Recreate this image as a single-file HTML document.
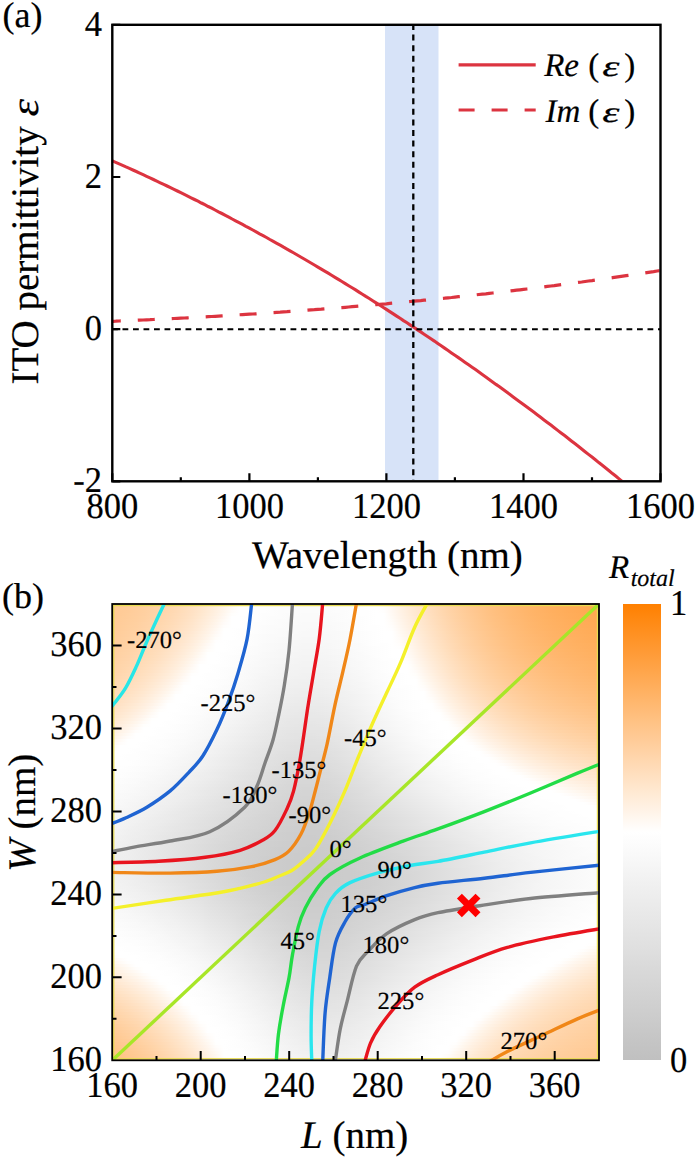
<!DOCTYPE html>
<html><head><meta charset="utf-8"><style>
html,body{margin:0;padding:0;background:#fff;}
body{width:700px;height:1158px;position:relative;overflow:hidden;}
#hm{position:absolute;left:112.2px;top:604.0px;width:486.8px;height:456.3px;overflow:hidden;}
#hm div{position:absolute;left:0;width:100%;height:4px;}
#cbar{position:absolute;left:623px;top:604px;width:38px;height:456px;background:linear-gradient(180deg,#ff8000 0.0%,#ff8d1a 5.0%,#ff9933 10.0%,#ffa64c 15.0%,#ffb366 20.0%,#ffc080 25.0%,#ffcc99 30.0%,#ffd9b3 35.0%,#ffe6cc 40.0%,#fff2e5 45.0%,#ffffff 50.0%,#f9f9f9 55.0%,#f2f2f2 60.0%,#ececec 65.0%,#e6e6e6 70.0%,#e0e0e0 75.0%,#d9d9d9 80.0%,#d3d3d3 85.0%,#cdcdcd 90.0%,#c6c6c6 95.0%,#c0c0c0 100.0%);}
svg{position:absolute;left:0;top:0;}
text{font-family:"Liberation Serif",serif;fill:#000;stroke:#000;stroke-width:0.2px;text-rendering:geometricPrecision;}
.t{font-size:34.5px;}
.lab{font-size:39px;}
.pl{font-size:36px;}
.lg{font-size:33px;}
.cl{font-size:24.6px;}
</style></head><body>
<div id="hm">
<div style="top:0px;background:linear-gradient(90deg,#ffc993 0px,#ffca95 8px,#ffcc98 16px,#ffcd9b 24px,#ffcf9f 32px,#ffd1a3 40px,#ffd3a7 48px,#ffd6ac 56px,#ffd9b2 64px,#ffdcb9 72px,#ffe0c0 80px,#ffe4c9 88px,#ffe9d2 96px,#ffeedc 104px,#fff3e7 112px,#fff9f3 120px,#ffffff 128px,#ffffff 136px,#fefefe 144px,#fefefe 152px,#fdfdfd 160px,#fdfdfd 168px,#fcfcfc 176px,#fcfcfc 184px,#fbfbfb 192px,#fbfbfb 200px,#fbfbfb 208px,#fcfcfc 216px,#fcfcfc 224px,#fdfdfd 232px,#fdfdfd 240px,#fefefe 248px,#ffffff 256px,#ffffff 264px,#fffcfa 272px,#fff7ee 280px,#fff1e3 288px,#ffecd8 296px,#ffe6cd 304px,#ffe1c3 312px,#ffdcb9 320px,#ffd8b0 328px,#ffd3a7 336px,#ffcf9f 344px,#ffcb97 352px,#ffc890 360px,#ffc489 368px,#ffc182 376px,#ffbe7c 384px,#ffbb77 392px,#ffb972 400px,#ffb66d 408px,#ffb469 416px,#ffb265 424px,#ffb061 432px,#ffaf5e 440px,#ffad5b 448px,#ffac58 456px,#ffaa55 464px,#ffa953 472px,#ffa851 480px,#ffa74f 488px)"></div>
<div style="top:3px;background:linear-gradient(90deg,#ffc993 0px,#ffcb96 8px,#ffcc99 16px,#ffce9c 24px,#ffcfa0 32px,#ffd2a4 40px,#ffd4a8 48px,#ffd7ae 56px,#ffd9b4 64px,#ffddba 72px,#ffe1c2 80px,#ffe5ca 88px,#ffead4 96px,#ffefde 104px,#fff4ea 112px,#fffbf6 120px,#ffffff 128px,#ffffff 136px,#fefefe 144px,#fefefe 152px,#fdfdfd 160px,#fcfcfc 168px,#fcfcfc 176px,#fbfbfb 184px,#fbfbfb 192px,#fbfbfb 200px,#fbfbfb 208px,#fbfbfb 216px,#fcfcfc 224px,#fdfdfd 232px,#fdfdfd 240px,#fefefe 248px,#ffffff 256px,#ffffff 264px,#fffdfc 272px,#fff8f0 280px,#fff2e5 288px,#ffecd9 296px,#ffe7cf 304px,#ffe2c4 312px,#ffddba 320px,#ffd8b1 328px,#ffd4a8 336px,#ffd0a0 344px,#ffcc98 352px,#ffc891 360px,#ffc58a 368px,#ffc183 376px,#ffbe7d 384px,#ffbc78 392px,#ffb973 400px,#ffb76e 408px,#ffb56a 416px,#ffb366 424px,#ffb162 432px,#ffaf5e 440px,#ffad5b 448px,#ffac58 456px,#ffab56 464px,#ffaa54 472px,#ffa951 480px,#ffa84f 488px)"></div>
<div style="top:6px;background:linear-gradient(90deg,#ffca94 0px,#ffcb97 8px,#ffcc99 16px,#ffce9d 24px,#ffd0a0 32px,#ffd2a5 40px,#ffd4aa 48px,#ffd7af 56px,#ffdab5 64px,#ffdebc 72px,#ffe1c4 80px,#ffe6cc 88px,#ffebd6 96px,#fff0e1 104px,#fff6ec 112px,#fffcf9 120px,#ffffff 128px,#ffffff 136px,#fefefe 144px,#fefefe 152px,#fdfdfd 160px,#fcfcfc 168px,#fcfcfc 176px,#fbfbfb 184px,#fbfbfb 192px,#fbfbfb 200px,#fbfbfb 208px,#fbfbfb 216px,#fcfcfc 224px,#fcfcfc 232px,#fdfdfd 240px,#fefefe 248px,#fefefe 256px,#ffffff 264px,#fffefd 272px,#fff8f2 280px,#fff3e6 288px,#ffeddb 296px,#ffe8d0 304px,#ffe2c6 312px,#ffddbc 320px,#ffd9b2 328px,#ffd4a9 336px,#ffd0a1 344px,#ffcc99 352px,#ffc892 360px,#ffc58b 368px,#ffc284 376px,#ffbf7e 384px,#ffbc79 392px,#ffba74 400px,#ffb76f 408px,#ffb56a 416px,#ffb366 424px,#ffb163 432px,#ffaf5f 440px,#ffae5c 448px,#ffac59 456px,#ffab57 464px,#ffaa54 472px,#ffa952 480px,#ffa850 488px)"></div>
<div style="top:9px;background:linear-gradient(90deg,#ffca95 0px,#ffcb97 8px,#ffcd9a 16px,#ffce9e 24px,#ffd0a1 32px,#ffd3a6 40px,#ffd5ab 48px,#ffd8b0 56px,#ffdbb7 64px,#ffdebe 72px,#ffe2c5 80px,#ffe7ce 88px,#ffecd8 96px,#fff1e3 104px,#fff7ef 112px,#fffefc 120px,#ffffff 128px,#ffffff 136px,#fefefe 144px,#fdfdfd 152px,#fdfdfd 160px,#fcfcfc 168px,#fbfbfb 176px,#fbfbfb 184px,#fafafa 192px,#fafafa 200px,#fafafa 208px,#fbfbfb 216px,#fbfbfb 224px,#fcfcfc 232px,#fdfdfd 240px,#fefefe 248px,#fefefe 256px,#ffffff 264px,#ffffff 272px,#fff9f3 280px,#fff3e8 288px,#ffeedc 296px,#ffe8d1 304px,#ffe3c7 312px,#ffdebd 320px,#ffd9b3 328px,#ffd5aa 336px,#ffd1a2 344px,#ffcd9a 352px,#ffc993 360px,#ffc68c 368px,#ffc285 376px,#ffbf7f 384px,#ffbd7a 392px,#ffba74 400px,#ffb870 408px,#ffb56b 416px,#ffb367 424px,#ffb264 432px,#ffb060 440px,#ffae5d 448px,#ffad5a 456px,#ffac58 464px,#ffaa55 472px,#ffa953 480px,#ffa851 488px)"></div>
<div style="top:12px;background:linear-gradient(90deg,#ffca95 0px,#ffcc98 8px,#ffcd9b 16px,#ffcf9e 24px,#ffd1a2 32px,#ffd3a7 40px,#ffd6ac 48px,#ffd8b2 56px,#ffdcb8 64px,#ffdfbf 72px,#ffe3c7 80px,#ffe8d0 88px,#ffeddb 96px,#fff2e6 104px,#fff8f2 112px,#ffffff 120px,#ffffff 128px,#fefefe 136px,#fefefe 144px,#fdfdfd 152px,#fcfcfc 160px,#fcfcfc 168px,#fbfbfb 176px,#fafafa 184px,#fafafa 192px,#fafafa 200px,#fafafa 208px,#fafafa 216px,#fbfbfb 224px,#fcfcfc 232px,#fdfdfd 240px,#fdfdfd 248px,#fefefe 256px,#ffffff 264px,#ffffff 272px,#fffaf5 280px,#fff4e9 288px,#ffefde 296px,#ffe9d3 304px,#ffe4c8 312px,#ffdfbe 320px,#ffdab5 328px,#ffd5ac 336px,#ffd1a3 344px,#ffcd9b 352px,#ffca94 360px,#ffc68d 368px,#ffc386 376px,#ffc080 384px,#ffbd7b 392px,#ffba75 400px,#ffb871 408px,#ffb66c 416px,#ffb468 424px,#ffb264 432px,#ffb061 440px,#ffaf5e 448px,#ffad5b 456px,#ffac58 464px,#ffab56 472px,#ffaa54 480px,#ffa952 488px)"></div>
<div style="top:15px;background:linear-gradient(90deg,#ffcb96 0px,#ffcc99 8px,#ffce9c 16px,#ffcf9f 24px,#ffd1a3 32px,#ffd4a8 40px,#ffd6ad 48px,#ffd9b3 56px,#ffdcba 64px,#ffe0c1 72px,#ffe4c9 80px,#ffe9d3 88px,#ffeedd 96px,#fff4e8 104px,#fffaf5 112px,#ffffff 120px,#ffffff 128px,#fefefe 136px,#fefefe 144px,#fdfdfd 152px,#fcfcfc 160px,#fbfbfb 168px,#fbfbfb 176px,#fafafa 184px,#fafafa 192px,#fafafa 200px,#fafafa 208px,#fafafa 216px,#fbfbfb 224px,#fcfcfc 232px,#fcfcfc 240px,#fdfdfd 248px,#fefefe 256px,#ffffff 264px,#ffffff 272px,#fffbf7 280px,#fff5eb 288px,#ffefe0 296px,#ffead4 304px,#ffe5ca 312px,#ffdfc0 320px,#ffdbb6 328px,#ffd6ad 336px,#ffd2a4 344px,#ffce9c 352px,#ffca95 360px,#ffc78e 368px,#ffc387 376px,#ffc081 384px,#ffbe7c 392px,#ffbb76 400px,#ffb972 408px,#ffb66d 416px,#ffb469 424px,#ffb365 432px,#ffb162 440px,#ffaf5f 448px,#ffae5c 456px,#ffad59 464px,#ffab57 472px,#ffaa55 480px,#ffa953 488px)"></div>
<div style="top:18px;background:linear-gradient(90deg,#ffcb97 0px,#ffcc9a 8px,#ffce9d 16px,#ffd0a0 24px,#ffd2a5 32px,#ffd4a9 40px,#ffd7ae 48px,#ffdab4 56px,#ffddbb 64px,#ffe1c3 72px,#ffe5cb 80px,#ffead5 88px,#ffefdf 96px,#fff5eb 104px,#fffbf8 112px,#ffffff 120px,#ffffff 128px,#fefefe 136px,#fdfdfd 144px,#fdfdfd 152px,#fcfcfc 160px,#fbfbfb 168px,#fafafa 176px,#fafafa 184px,#f9f9f9 192px,#f9f9f9 200px,#f9f9f9 208px,#fafafa 216px,#fafafa 224px,#fbfbfb 232px,#fcfcfc 240px,#fdfdfd 248px,#fefefe 256px,#ffffff 264px,#ffffff 272px,#fffcf9 280px,#fff6ed 288px,#fff0e1 296px,#ffebd6 304px,#ffe5cb 312px,#ffe0c1 320px,#ffdbb7 328px,#ffd7ae 336px,#ffd2a6 344px,#ffce9e 352px,#ffcb96 360px,#ffc78f 368px,#ffc488 376px,#ffc182 384px,#ffbe7d 392px,#ffbb77 400px,#ffb973 408px,#ffb76e 416px,#ffb56a 424px,#ffb366 432px,#ffb163 440px,#ffb060 448px,#ffae5d 456px,#ffad5a 464px,#ffac58 472px,#ffab56 480px,#ffaa54 488px)"></div>
<div style="top:21px;background:linear-gradient(90deg,#ffcb97 0px,#ffcd9a 8px,#ffcf9e 16px,#ffd0a1 24px,#ffd2a6 32px,#ffd5aa 40px,#ffd8b0 48px,#ffdbb6 56px,#ffdebd 64px,#ffe2c5 72px,#ffe6cd 80px,#ffebd7 88px,#fff1e2 96px,#fff6ee 104px,#fffdfb 112px,#ffffff 120px,#ffffff 128px,#fefefe 136px,#fdfdfd 144px,#fcfcfc 152px,#fbfbfb 160px,#fbfbfb 168px,#fafafa 176px,#f9f9f9 184px,#f9f9f9 192px,#f9f9f9 200px,#f9f9f9 208px,#f9f9f9 216px,#fafafa 224px,#fbfbfb 232px,#fcfcfc 240px,#fdfdfd 248px,#fefefe 256px,#fefefe 264px,#ffffff 272px,#fffdfb 280px,#fff7ef 288px,#fff1e3 296px,#ffebd8 304px,#ffe6cd 312px,#ffe1c3 320px,#ffdcb9 328px,#ffd7b0 336px,#ffd3a7 344px,#ffcf9f 352px,#ffcb97 360px,#ffc890 368px,#ffc58a 376px,#ffc183 384px,#ffbf7e 392px,#ffbc79 400px,#ffba74 408px,#ffb76f 416px,#ffb56b 424px,#ffb467 432px,#ffb264 440px,#ffb061 448px,#ffaf5e 456px,#ffad5b 464px,#ffac59 472px,#ffab57 480px,#ffaa55 488px)"></div>
<div style="top:24px;background:linear-gradient(90deg,#ffcc98 0px,#ffcd9b 8px,#ffcf9f 16px,#ffd1a2 24px,#ffd3a7 32px,#ffd6ac 40px,#ffd8b1 48px,#ffdbb8 56px,#ffdfbf 64px,#ffe3c7 72px,#ffe7cf 80px,#ffecd9 88px,#fff2e5 96px,#fff8f1 104px,#fffffe 112px,#ffffff 120px,#fefefe 128px,#fefefe 136px,#fdfdfd 144px,#fcfcfc 152px,#fbfbfb 160px,#fafafa 168px,#fafafa 176px,#f9f9f9 184px,#f9f9f9 192px,#f8f8f8 200px,#f9f9f9 208px,#f9f9f9 216px,#fafafa 224px,#fbfbfb 232px,#fcfcfc 240px,#fdfdfd 248px,#fefefe 256px,#fefefe 264px,#ffffff 272px,#fffefd 280px,#fff8f1 288px,#fff2e5 296px,#ffecd9 304px,#ffe7ce 312px,#ffe2c4 320px,#ffddba 328px,#ffd8b1 336px,#ffd4a8 344px,#ffd0a0 352px,#ffcc98 360px,#ffc891 368px,#ffc58b 376px,#ffc285 384px,#ffbf7f 392px,#ffbd7a 400px,#ffba75 408px,#ffb870 416px,#ffb66c 424px,#ffb468 432px,#ffb265 440px,#ffb162 448px,#ffaf5f 456px,#ffae5c 464px,#ffad5a 472px,#ffac58 480px,#ffab56 488px)"></div>
<div style="top:27px;background:linear-gradient(90deg,#ffcc99 0px,#ffce9c 8px,#ffd0a0 16px,#ffd1a4 24px,#ffd4a8 32px,#ffd6ad 40px,#ffd9b3 48px,#ffdcb9 56px,#ffe0c0 64px,#ffe4c9 72px,#ffe8d2 80px,#ffeedc 88px,#fff3e7 96px,#fff9f4 104px,#ffffff 112px,#ffffff 120px,#fefefe 128px,#fefefe 136px,#fdfdfd 144px,#fcfcfc 152px,#fbfbfb 160px,#fafafa 168px,#f9f9f9 176px,#f9f9f9 184px,#f8f8f8 192px,#f8f8f8 200px,#f8f8f8 208px,#f9f9f9 216px,#f9f9f9 224px,#fafafa 232px,#fbfbfb 240px,#fcfcfc 248px,#fdfdfd 256px,#fefefe 264px,#ffffff 272px,#ffffff 280px,#fff9f3 288px,#fff3e7 296px,#ffeddb 304px,#ffe8d0 312px,#ffe2c6 320px,#ffdebc 328px,#ffd9b2 336px,#ffd4aa 344px,#ffd0a1 352px,#ffcd9a 360px,#ffc993 368px,#ffc68c 376px,#ffc386 384px,#ffc080 392px,#ffbd7b 400px,#ffbb76 408px,#ffb971 416px,#ffb66d 424px,#ffb56a 432px,#ffb366 440px,#ffb163 448px,#ffb060 456px,#ffaf5d 464px,#ffad5b 472px,#ffac59 480px,#ffab57 488px)"></div>
<div style="top:30px;background:linear-gradient(90deg,#ffcd9a 0px,#ffce9d 8px,#ffd0a1 16px,#ffd2a5 24px,#ffd4a9 32px,#ffd7ae 40px,#ffdab4 48px,#ffddbb 56px,#ffe1c2 64px,#ffe5cb 72px,#ffead4 80px,#ffefdf 88px,#fff5ea 96px,#fffbf7 104px,#ffffff 112px,#ffffff 120px,#fefefe 128px,#fdfdfd 136px,#fcfcfc 144px,#fbfbfb 152px,#fafafa 160px,#fafafa 168px,#f9f9f9 176px,#f8f8f8 184px,#f8f8f8 192px,#f8f8f8 200px,#f8f8f8 208px,#f8f8f8 216px,#f9f9f9 224px,#fafafa 232px,#fbfbfb 240px,#fcfcfc 248px,#fdfdfd 256px,#fefefe 264px,#ffffff 272px,#ffffff 280px,#fffaf5 288px,#fff4e9 296px,#ffeedd 304px,#ffe9d2 312px,#ffe3c7 320px,#ffdebd 328px,#ffdab4 336px,#ffd5ab 344px,#ffd1a3 352px,#ffcd9b 360px,#ffca94 368px,#ffc68d 376px,#ffc387 384px,#ffc081 392px,#ffbe7c 400px,#ffbb77 408px,#ffb973 416px,#ffb76f 424px,#ffb56b 432px,#ffb367 440px,#ffb264 448px,#ffb061 456px,#ffaf5f 464px,#ffae5c 472px,#ffad5a 480px,#ffac58 488px)"></div>
<div style="top:33px;background:linear-gradient(90deg,#ffcd9b 0px,#ffcf9e 8px,#ffd1a2 16px,#ffd3a6 24px,#ffd5ab 32px,#ffd8b0 40px,#ffdbb6 48px,#ffdebd 56px,#ffe2c4 64px,#ffe6cd 72px,#ffebd7 80px,#fff0e1 88px,#fff6ed 96px,#fffdfa 104px,#ffffff 112px,#ffffff 120px,#fefefe 128px,#fdfdfd 136px,#fcfcfc 144px,#fbfbfb 152px,#fafafa 160px,#f9f9f9 168px,#f8f8f8 176px,#f8f8f8 184px,#f7f7f7 192px,#f7f7f7 200px,#f7f7f7 208px,#f8f8f8 216px,#f9f9f9 224px,#fafafa 232px,#fbfbfb 240px,#fcfcfc 248px,#fdfdfd 256px,#fefefe 264px,#ffffff 272px,#ffffff 280px,#fffbf7 288px,#fff5eb 296px,#ffefdf 304px,#ffe9d4 312px,#ffe4c9 320px,#ffdfbf 328px,#ffdab5 336px,#ffd6ad 344px,#ffd2a4 352px,#ffce9d 360px,#ffca95 368px,#ffc78f 376px,#ffc488 384px,#ffc183 392px,#ffbe7d 400px,#ffbc78 408px,#ffba74 416px,#ffb870 424px,#ffb66c 432px,#ffb468 440px,#ffb265 448px,#ffb162 456px,#ffb060 464px,#ffae5d 472px,#ffad5b 480px,#ffac59 488px)"></div>
<div style="top:36px;background:linear-gradient(90deg,#ffce9c 0px,#ffcf9f 8px,#ffd1a3 16px,#ffd3a7 24px,#ffd6ac 32px,#ffd8b2 40px,#ffdbb8 48px,#ffdfbf 56px,#ffe3c6 64px,#ffe7cf 72px,#ffecd9 80px,#fff2e4 88px,#fff8f0 96px,#fffefe 104px,#ffffff 112px,#fefefe 120px,#fefefe 128px,#fdfdfd 136px,#fcfcfc 144px,#fbfbfb 152px,#fafafa 160px,#f9f9f9 168px,#f8f8f8 176px,#f7f7f7 184px,#f7f7f7 192px,#f7f7f7 200px,#f7f7f7 208px,#f8f8f8 216px,#f8f8f8 224px,#f9f9f9 232px,#fbfbfb 240px,#fcfcfc 248px,#fdfdfd 256px,#fefefe 264px,#ffffff 272px,#ffffff 280px,#fffcf9 288px,#fff6ed 296px,#fff0e1 304px,#ffead5 312px,#ffe5cb 320px,#ffe0c1 328px,#ffdbb7 336px,#ffd7ae 344px,#ffd3a6 352px,#ffcf9e 360px,#ffcb97 368px,#ffc890 376px,#ffc58a 384px,#ffc284 392px,#ffbf7f 400px,#ffbd7a 408px,#ffba75 416px,#ffb871 424px,#ffb66d 432px,#ffb56a 440px,#ffb366 448px,#ffb264 456px,#ffb061 464px,#ffaf5e 472px,#ffae5c 480px,#ffad5a 488px)"></div>
<div style="top:39px;background:linear-gradient(90deg,#ffce9d 0px,#ffd0a0 8px,#ffd2a4 16px,#ffd4a9 24px,#ffd6ae 32px,#ffd9b3 40px,#ffdcb9 48px,#ffe0c1 56px,#ffe4c9 64px,#ffe8d2 72px,#ffeddc 80px,#fff3e7 88px,#fff9f4 96px,#ffffff 104px,#ffffff 112px,#fefefe 120px,#fefefe 128px,#fdfdfd 136px,#fcfcfc 144px,#fafafa 152px,#f9f9f9 160px,#f8f8f8 168px,#f7f7f7 176px,#f7f7f7 184px,#f6f6f6 192px,#f6f6f6 200px,#f7f7f7 208px,#f7f7f7 216px,#f8f8f8 224px,#f9f9f9 232px,#fafafa 240px,#fbfbfb 248px,#fdfdfd 256px,#fefefe 264px,#fefefe 272px,#ffffff 280px,#fffdfb 288px,#fff7ef 296px,#fff1e3 304px,#ffebd7 312px,#ffe6cd 320px,#ffe1c2 328px,#ffdcb9 336px,#ffd8b0 344px,#ffd3a7 352px,#ffcf9f 360px,#ffcc98 368px,#ffc891 376px,#ffc58b 384px,#ffc285 392px,#ffc080 400px,#ffbd7b 408px,#ffbb76 416px,#ffb972 424px,#ffb76e 432px,#ffb56b 440px,#ffb468 448px,#ffb265 456px,#ffb162 464px,#ffb060 472px,#ffaf5e 480px,#ffae5c 488px)"></div>
<div style="top:42px;background:linear-gradient(90deg,#ffcf9e 0px,#ffd0a2 8px,#ffd2a5 16px,#ffd5aa 24px,#ffd7af 32px,#ffdab5 40px,#ffddbb 48px,#ffe1c3 56px,#ffe5cb 64px,#ffead4 72px,#ffefde 80px,#fff5ea 88px,#fffbf7 96px,#ffffff 104px,#ffffff 112px,#fefefe 120px,#fdfdfd 128px,#fcfcfc 136px,#fbfbfb 144px,#fafafa 152px,#f9f9f9 160px,#f8f8f8 168px,#f7f7f7 176px,#f6f6f6 184px,#f6f6f6 192px,#f6f6f6 200px,#f6f6f6 208px,#f7f7f7 216px,#f8f8f8 224px,#f9f9f9 232px,#fafafa 240px,#fbfbfb 248px,#fcfcfc 256px,#fdfdfd 264px,#fefefe 272px,#ffffff 280px,#fffefd 288px,#fff8f1 296px,#fff2e5 304px,#ffecd9 312px,#ffe7ce 320px,#ffe2c4 328px,#ffddba 336px,#ffd8b1 344px,#ffd4a9 352px,#ffd0a1 360px,#ffcd9a 368px,#ffc993 376px,#ffc68d 384px,#ffc387 392px,#ffc081 400px,#ffbe7c 408px,#ffbc78 416px,#ffba74 424px,#ffb870 432px,#ffb66c 440px,#ffb469 448px,#ffb366 456px,#ffb263 464px,#ffb061 472px,#ffaf5f 480px,#ffae5d 488px)"></div>
<div style="top:45px;background:linear-gradient(90deg,#ffcf9f 0px,#ffd1a3 8px,#ffd3a7 16px,#ffd5ab 24px,#ffd8b1 32px,#ffdbb7 40px,#ffdebd 48px,#ffe2c5 56px,#ffe6cd 64px,#ffebd7 72px,#fff0e1 80px,#fff6ed 88px,#fffdfa 96px,#ffffff 104px,#ffffff 112px,#fefefe 120px,#fdfdfd 128px,#fcfcfc 136px,#fbfbfb 144px,#fafafa 152px,#f9f9f9 160px,#f7f7f7 168px,#f7f7f7 176px,#f6f6f6 184px,#f5f5f5 192px,#f5f5f5 200px,#f6f6f6 208px,#f6f6f6 216px,#f7f7f7 224px,#f8f8f8 232px,#f9f9f9 240px,#fbfbfb 248px,#fcfcfc 256px,#fdfdfd 264px,#fefefe 272px,#ffffff 280px,#ffffff 288px,#fff9f3 296px,#fff3e7 304px,#ffeddb 312px,#ffe8d0 320px,#ffe3c6 328px,#ffdebc 336px,#ffd9b3 344px,#ffd5ab 352px,#ffd1a3 360px,#ffcd9b 368px,#ffca94 376px,#ffc78e 384px,#ffc488 392px,#ffc183 400px,#ffbf7e 408px,#ffbc79 416px,#ffba75 424px,#ffb871 432px,#ffb76e 440px,#ffb56a 448px,#ffb467 456px,#ffb265 464px,#ffb162 472px,#ffb060 480px,#ffaf5e 488px)"></div>
<div style="top:48px;background:linear-gradient(90deg,#ffd0a0 0px,#ffd2a4 8px,#ffd4a8 16px,#ffd6ad 24px,#ffd9b2 32px,#ffdcb8 40px,#ffdfbf 48px,#ffe3c7 56px,#ffe7d0 64px,#ffecd9 72px,#fff2e4 80px,#fff8f1 88px,#fffffe 96px,#ffffff 104px,#fefefe 112px,#fefefe 120px,#fdfdfd 128px,#fcfcfc 136px,#fbfbfb 144px,#f9f9f9 152px,#f8f8f8 160px,#f7f7f7 168px,#f6f6f6 176px,#f5f5f5 184px,#f5f5f5 192px,#f5f5f5 200px,#f5f5f5 208px,#f6f6f6 216px,#f7f7f7 224px,#f8f8f8 232px,#f9f9f9 240px,#fafafa 248px,#fcfcfc 256px,#fdfdfd 264px,#fefefe 272px,#ffffff 280px,#ffffff 288px,#fffaf5 296px,#fff4e9 304px,#ffeedd 312px,#ffe9d2 320px,#ffe4c8 328px,#ffdfbe 336px,#ffdab5 344px,#ffd6ac 352px,#ffd2a4 360px,#ffce9d 368px,#ffcb96 376px,#ffc890 384px,#ffc58a 392px,#ffc284 400px,#ffbf7f 408px,#ffbd7b 416px,#ffbb76 424px,#ffb973 432px,#ffb76f 440px,#ffb66c 448px,#ffb469 456px,#ffb366 464px,#ffb264 472px,#ffb161 480px,#ffb05f 488px)"></div>
<div style="top:51px;background:linear-gradient(90deg,#ffd0a2 0px,#ffd2a5 8px,#ffd4aa 16px,#ffd7af 24px,#ffdab4 32px,#ffddba 40px,#ffe0c1 48px,#ffe4c9 56px,#ffe9d2 64px,#ffeedc 72px,#fff3e7 80px,#fffaf4 88px,#ffffff 96px,#ffffff 104px,#fefefe 112px,#fdfdfd 120px,#fcfcfc 128px,#fbfbfb 136px,#fafafa 144px,#f9f9f9 152px,#f8f8f8 160px,#f7f7f7 168px,#f6f6f6 176px,#f5f5f5 184px,#f4f4f4 192px,#f4f4f4 200px,#f5f5f5 208px,#f5f5f5 216px,#f6f6f6 224px,#f7f7f7 232px,#f9f9f9 240px,#fafafa 248px,#fbfbfb 256px,#fdfdfd 264px,#fefefe 272px,#ffffff 280px,#ffffff 288px,#fffbf8 296px,#fff5eb 304px,#ffefdf 312px,#ffead4 320px,#ffe5ca 328px,#ffe0c0 336px,#ffdbb7 344px,#ffd7ae 352px,#ffd3a6 360px,#ffcf9f 368px,#ffcc98 376px,#ffc891 384px,#ffc58b 392px,#ffc386 400px,#ffc081 408px,#ffbe7c 416px,#ffbc78 424px,#ffba74 432px,#ffb871 440px,#ffb66d 448px,#ffb56a 456px,#ffb468 464px,#ffb265 472px,#ffb163 480px,#ffb061 488px)"></div>
<div style="top:54px;background:linear-gradient(90deg,#ffd1a3 0px,#ffd3a7 8px,#ffd5ab 16px,#ffd8b0 24px,#ffdbb6 32px,#ffdebc 40px,#ffe1c3 48px,#ffe5cc 56px,#ffead5 64px,#ffefdf 72px,#fff5eb 80px,#fffbf8 88px,#ffffff 96px,#ffffff 104px,#fefefe 112px,#fdfdfd 120px,#fcfcfc 128px,#fbfbfb 136px,#fafafa 144px,#f8f8f8 152px,#f7f7f7 160px,#f6f6f6 168px,#f5f5f5 176px,#f4f4f4 184px,#f4f4f4 192px,#f4f4f4 200px,#f4f4f4 208px,#f5f5f5 216px,#f6f6f6 224px,#f7f7f7 232px,#f8f8f8 240px,#fafafa 248px,#fbfbfb 256px,#fcfcfc 264px,#fefefe 272px,#fefefe 280px,#ffffff 288px,#fffdfa 296px,#fff6ee 304px,#fff0e2 312px,#ffebd6 320px,#ffe6cc 328px,#ffe1c2 336px,#ffdcb9 344px,#ffd8b0 352px,#ffd4a8 360px,#ffd0a0 368px,#ffcc99 376px,#ffc993 384px,#ffc68d 392px,#ffc388 400px,#ffc182 408px,#ffbf7e 416px,#ffbd7a 424px,#ffbb76 432px,#ffb972 440px,#ffb76f 448px,#ffb66c 456px,#ffb469 464px,#ffb367 472px,#ffb264 480px,#ffb162 488px)"></div>
<div style="top:57px;background:linear-gradient(90deg,#ffd2a4 0px,#ffd4a8 8px,#ffd6ad 16px,#ffd9b2 24px,#ffdcb8 32px,#ffdfbe 40px,#ffe2c6 48px,#ffe7ce 56px,#ffebd8 64px,#fff1e2 72px,#fff7ee 80px,#fffdfb 88px,#ffffff 96px,#ffffff 104px,#fefefe 112px,#fdfdfd 120px,#fcfcfc 128px,#fbfbfb 136px,#f9f9f9 144px,#f8f8f8 152px,#f7f7f7 160px,#f6f6f6 168px,#f5f5f5 176px,#f4f4f4 184px,#f3f3f3 192px,#f3f3f3 200px,#f4f4f4 208px,#f4f4f4 216px,#f5f5f5 224px,#f7f7f7 232px,#f8f8f8 240px,#f9f9f9 248px,#fbfbfb 256px,#fcfcfc 264px,#fdfdfd 272px,#fefefe 280px,#ffffff 288px,#fffefd 296px,#fff7f0 304px,#fff2e4 312px,#ffecd9 320px,#ffe7ce 328px,#ffe2c4 336px,#ffddbb 344px,#ffd9b2 352px,#ffd5aa 360px,#ffd1a2 368px,#ffcd9b 376px,#ffca95 384px,#ffc78f 392px,#ffc489 400px,#ffc284 408px,#ffbf7f 416px,#ffbd7b 424px,#ffbb77 432px,#ffba74 440px,#ffb870 448px,#ffb66d 456px,#ffb56b 464px,#ffb468 472px,#ffb366 480px,#ffb264 488px)"></div>
<div style="top:60px;background:linear-gradient(90deg,#ffd2a6 0px,#ffd5aa 8px,#ffd7ae 16px,#ffdab4 24px,#ffddba 32px,#ffe0c1 40px,#ffe4c8 48px,#ffe8d1 56px,#ffedda 64px,#fff2e5 72px,#fff8f2 80px,#ffffff 88px,#ffffff 96px,#fefefe 104px,#fefefe 112px,#fdfdfd 120px,#fcfcfc 128px,#fafafa 136px,#f9f9f9 144px,#f8f8f8 152px,#f6f6f6 160px,#f5f5f5 168px,#f4f4f4 176px,#f3f3f3 184px,#f3f3f3 192px,#f3f3f3 200px,#f3f3f3 208px,#f4f4f4 216px,#f5f5f5 224px,#f6f6f6 232px,#f8f8f8 240px,#f9f9f9 248px,#fbfbfb 256px,#fcfcfc 264px,#fdfdfd 272px,#fefefe 280px,#ffffff 288px,#ffffff 296px,#fff9f2 304px,#fff3e6 312px,#ffeddb 320px,#ffe8d0 328px,#ffe3c6 336px,#ffdebd 344px,#ffdab4 352px,#ffd5ac 360px,#ffd2a4 368px,#ffce9d 376px,#ffcb97 384px,#ffc890 392px,#ffc58b 400px,#ffc386 408px,#ffc081 416px,#ffbe7d 424px,#ffbc79 432px,#ffba75 440px,#ffb972 448px,#ffb76f 456px,#ffb66c 464px,#ffb56a 472px,#ffb467 480px,#ffb265 488px)"></div>
<div style="top:63px;background:linear-gradient(90deg,#ffd3a7 0px,#ffd5ab 8px,#ffd8b0 16px,#ffdab6 24px,#ffdebc 32px,#ffe1c3 40px,#ffe5cb 48px,#ffe9d4 56px,#ffeedd 64px,#fff4e9 72px,#fffaf5 80px,#ffffff 88px,#ffffff 96px,#fefefe 104px,#fdfdfd 112px,#fcfcfc 120px,#fbfbfb 128px,#fafafa 136px,#f8f8f8 144px,#f7f7f7 152px,#f6f6f6 160px,#f4f4f4 168px,#f3f3f3 176px,#f3f3f3 184px,#f2f2f2 192px,#f2f2f2 200px,#f3f3f3 208px,#f3f3f3 216px,#f4f4f4 224px,#f6f6f6 232px,#f7f7f7 240px,#f9f9f9 248px,#fafafa 256px,#fcfcfc 264px,#fdfdfd 272px,#fefefe 280px,#ffffff 288px,#ffffff 296px,#fffaf5 304px,#fff4e9 312px,#ffeedd 320px,#ffe9d2 328px,#ffe4c8 336px,#ffdfbf 344px,#ffdbb6 352px,#ffd6ae 360px,#ffd3a6 368px,#ffcf9f 376px,#ffcc98 384px,#ffc992 392px,#ffc68d 400px,#ffc488 408px,#ffc183 416px,#ffbf7f 424px,#ffbd7b 432px,#ffbb77 440px,#ffba74 448px,#ffb871 456px,#ffb76e 464px,#ffb56b 472px,#ffb469 480px,#ffb367 488px)"></div>
<div style="top:66px;background:linear-gradient(90deg,#ffd4a9 0px,#ffd6ad 8px,#ffd9b2 16px,#ffdbb8 24px,#ffdfbe 32px,#ffe2c5 40px,#ffe6cd 48px,#ffebd6 56px,#fff0e1 64px,#fff6ec 72px,#fffcf9 80px,#ffffff 88px,#ffffff 96px,#fefefe 104px,#fdfdfd 112px,#fcfcfc 120px,#fbfbfb 128px,#f9f9f9 136px,#f8f8f8 144px,#f7f7f7 152px,#f5f5f5 160px,#f4f4f4 168px,#f3f3f3 176px,#f2f2f2 184px,#f2f2f2 192px,#f2f2f2 200px,#f2f2f2 208px,#f3f3f3 216px,#f4f4f4 224px,#f5f5f5 232px,#f7f7f7 240px,#f8f8f8 248px,#fafafa 256px,#fbfbfb 264px,#fdfdfd 272px,#fefefe 280px,#ffffff 288px,#ffffff 296px,#fffbf8 304px,#fff5eb 312px,#ffefe0 320px,#ffead5 328px,#ffe5ca 336px,#ffe0c1 344px,#ffdcb8 352px,#ffd8b0 360px,#ffd4a8 368px,#ffd0a1 376px,#ffcd9a 384px,#ffca94 392px,#ffc78f 400px,#ffc489 408px,#ffc285 416px,#ffc080 424px,#ffbe7c 432px,#ffbc79 440px,#ffba75 448px,#ffb972 456px,#ffb870 464px,#ffb66d 472px,#ffb56b 480px,#ffb469 488px)"></div>
<div style="top:69px;background:linear-gradient(90deg,#ffd5aa 0px,#ffd7af 8px,#ffdab4 16px,#ffdcba 24px,#ffe0c0 32px,#ffe3c8 40px,#ffe8d0 48px,#ffecd9 56px,#fff2e4 64px,#fff7f0 72px,#fffefd 80px,#ffffff 88px,#fefefe 96px,#fefefe 104px,#fdfdfd 112px,#fcfcfc 120px,#fafafa 128px,#f9f9f9 136px,#f7f7f7 144px,#f6f6f6 152px,#f5f5f5 160px,#f3f3f3 168px,#f2f2f2 176px,#f2f2f2 184px,#f1f1f1 192px,#f1f1f1 200px,#f1f1f1 208px,#f2f2f2 216px,#f3f3f3 224px,#f5f5f5 232px,#f6f6f6 240px,#f8f8f8 248px,#f9f9f9 256px,#fbfbfb 264px,#fcfcfc 272px,#fefefe 280px,#fefefe 288px,#ffffff 296px,#fffdfa 304px,#fff6ee 312px,#fff1e2 320px,#ffebd7 328px,#ffe6cd 336px,#ffe1c3 344px,#ffddba 352px,#ffd9b2 360px,#ffd5aa 368px,#ffd1a3 376px,#ffce9c 384px,#ffcb96 392px,#ffc891 400px,#ffc58b 408px,#ffc387 416px,#ffc182 424px,#ffbf7e 432px,#ffbd7a 440px,#ffbb77 448px,#ffba74 456px,#ffb871 464px,#ffb76f 472px,#ffb66c 480px,#ffb56a 488px)"></div>
<div style="top:72px;background:linear-gradient(90deg,#ffd6ac 0px,#ffd8b1 8px,#ffdbb6 16px,#ffdebc 24px,#ffe1c3 32px,#ffe5ca 40px,#ffe9d3 48px,#ffeedc 56px,#fff3e7 64px,#fff9f4 72px,#ffffff 80px,#ffffff 88px,#fefefe 96px,#fefefe 104px,#fdfdfd 112px,#fbfbfb 120px,#fafafa 128px,#f9f9f9 136px,#f7f7f7 144px,#f5f5f5 152px,#f4f4f4 160px,#f3f3f3 168px,#f2f2f2 176px,#f1f1f1 184px,#f1f1f1 192px,#f0f0f0 200px,#f1f1f1 208px,#f2f2f2 216px,#f3f3f3 224px,#f4f4f4 232px,#f6f6f6 240px,#f7f7f7 248px,#f9f9f9 256px,#fbfbfb 264px,#fcfcfc 272px,#fdfdfd 280px,#fefefe 288px,#ffffff 296px,#fffefd 304px,#fff8f0 312px,#fff2e5 320px,#ffecda 328px,#ffe7cf 336px,#ffe2c5 344px,#ffdebc 352px,#ffdab4 360px,#ffd6ac 368px,#ffd2a5 376px,#ffcf9e 384px,#ffcc98 392px,#ffc993 400px,#ffc68d 408px,#ffc488 416px,#ffc284 424px,#ffc080 432px,#ffbe7c 440px,#ffbc79 448px,#ffbb76 456px,#ffb973 464px,#ffb871 472px,#ffb76e 480px,#ffb66c 488px)"></div>
<div style="top:75px;background:linear-gradient(90deg,#ffd6ae 0px,#ffd9b3 8px,#ffdcb8 16px,#ffdfbe 24px,#ffe2c5 32px,#ffe6cd 40px,#ffead6 48px,#ffefe0 56px,#fff5eb 64px,#fffbf7 72px,#ffffff 80px,#ffffff 88px,#fefefe 96px,#fdfdfd 104px,#fcfcfc 112px,#fbfbfb 120px,#fafafa 128px,#f8f8f8 136px,#f6f6f6 144px,#f5f5f5 152px,#f3f3f3 160px,#f2f2f2 168px,#f1f1f1 176px,#f0f0f0 184px,#f0f0f0 192px,#f0f0f0 200px,#f0f0f0 208px,#f1f1f1 216px,#f2f2f2 224px,#f4f4f4 232px,#f5f5f5 240px,#f7f7f7 248px,#f9f9f9 256px,#fafafa 264px,#fcfcfc 272px,#fdfdfd 280px,#fefefe 288px,#ffffff 296px,#ffffff 304px,#fff9f3 312px,#fff3e7 320px,#ffeedc 328px,#ffe8d2 336px,#ffe4c8 344px,#ffdfbf 352px,#ffdbb6 360px,#ffd7ae 368px,#ffd3a7 376px,#ffd0a1 384px,#ffcd9a 392px,#ffca95 400px,#ffc78f 408px,#ffc58a 416px,#ffc386 424px,#ffc182 432px,#ffbf7e 440px,#ffbd7b 448px,#ffbc78 456px,#ffba75 464px,#ffb972 472px,#ffb870 480px,#ffb76e 488px)"></div>
<div style="top:78px;background:linear-gradient(90deg,#ffd7af 0px,#ffdab5 8px,#ffddba 16px,#ffe0c1 24px,#ffe3c8 32px,#ffe8d0 40px,#ffecd9 48px,#fff1e3 56px,#fff7ef 64px,#fffdfc 72px,#ffffff 80px,#ffffff 88px,#fefefe 96px,#fdfdfd 104px,#fcfcfc 112px,#fbfbfb 120px,#f9f9f9 128px,#f8f8f8 136px,#f6f6f6 144px,#f4f4f4 152px,#f3f3f3 160px,#f2f2f2 168px,#f0f0f0 176px,#f0f0f0 184px,#efefef 192px,#efefef 200px,#f0f0f0 208px,#f0f0f0 216px,#f2f2f2 224px,#f3f3f3 232px,#f5f5f5 240px,#f6f6f6 248px,#f8f8f8 256px,#fafafa 264px,#fbfbfb 272px,#fdfdfd 280px,#fefefe 288px,#ffffff 296px,#ffffff 304px,#fffbf6 312px,#fff5ea 320px,#ffefdf 328px,#ffead4 336px,#ffe5ca 344px,#ffe0c1 352px,#ffdcb9 360px,#ffd8b1 368px,#ffd4a9 376px,#ffd1a3 384px,#ffce9c 392px,#ffcb97 400px,#ffc891 408px,#ffc68d 416px,#ffc488 424px,#ffc284 432px,#ffc080 440px,#ffbe7d 448px,#ffbd7a 456px,#ffbb77 464px,#ffba74 472px,#ffb972 480px,#ffb870 488px)"></div>
<div style="top:81px;background:linear-gradient(90deg,#ffd8b1 0px,#ffdbb7 8px,#ffdebc 16px,#ffe1c3 24px,#ffe5ca 32px,#ffe9d3 40px,#ffeedc 48px,#fff3e7 56px,#fff9f3 64px,#ffffff 72px,#ffffff 80px,#fefefe 88px,#fefefe 96px,#fdfdfd 104px,#fbfbfb 112px,#fafafa 120px,#f9f9f9 128px,#f7f7f7 136px,#f5f5f5 144px,#f4f4f4 152px,#f2f2f2 160px,#f1f1f1 168px,#f0f0f0 176px,#efefef 184px,#efefef 192px,#efefef 200px,#efefef 208px,#f0f0f0 216px,#f1f1f1 224px,#f2f2f2 232px,#f4f4f4 240px,#f6f6f6 248px,#f8f8f8 256px,#f9f9f9 264px,#fbfbfb 272px,#fdfdfd 280px,#fefefe 288px,#fefefe 296px,#ffffff 304px,#fffcf9 312px,#fff6ed 320px,#fff0e1 328px,#ffebd7 336px,#ffe6cd 344px,#ffe1c4 352px,#ffddbb 360px,#ffd9b3 368px,#ffd6ac 376px,#ffd2a5 384px,#ffcf9f 392px,#ffcc99 400px,#ffca94 408px,#ffc78f 416px,#ffc58a 424px,#ffc386 432px,#ffc182 440px,#ffbf7f 448px,#ffbe7c 456px,#ffbc79 464px,#ffbb76 472px,#ffba74 480px,#ffb972 488px)"></div>
<div style="top:84px;background:linear-gradient(90deg,#ffd9b3 0px,#ffdcb9 8px,#ffdfbf 16px,#ffe2c6 24px,#ffe6cd 32px,#ffebd6 40px,#ffefe0 48px,#fff5ea 56px,#fffbf7 64px,#ffffff 72px,#ffffff 80px,#fefefe 88px,#fdfdfd 96px,#fcfcfc 104px,#fbfbfb 112px,#fafafa 120px,#f8f8f8 128px,#f7f7f7 136px,#f5f5f5 144px,#f3f3f3 152px,#f2f2f2 160px,#f0f0f0 168px,#efefef 176px,#eeeeee 184px,#eeeeee 192px,#eeeeee 200px,#eeeeee 208px,#efefef 216px,#f0f0f0 224px,#f2f2f2 232px,#f4f4f4 240px,#f5f5f5 248px,#f7f7f7 256px,#f9f9f9 264px,#fbfbfb 272px,#fcfcfc 280px,#fdfdfd 288px,#fefefe 296px,#ffffff 304px,#fffdfc 312px,#fff7f0 320px,#fff2e4 328px,#ffecda 336px,#ffe7d0 344px,#ffe3c6 352px,#ffdebe 360px,#ffdab6 368px,#ffd7ae 376px,#ffd3a7 384px,#ffd0a1 392px,#ffcd9b 400px,#ffcb96 408px,#ffc891 416px,#ffc68c 424px,#ffc488 432px,#ffc284 440px,#ffc081 448px,#ffbf7e 456px,#ffbd7b 464px,#ffbc78 472px,#ffbb76 480px,#ffba74 488px)"></div>
<div style="top:87px;background:linear-gradient(90deg,#ffdab6 0px,#ffddbb 8px,#ffe0c1 16px,#ffe4c8 24px,#ffe8d0 32px,#ffecd9 40px,#fff1e3 48px,#fff7ee 56px,#fffdfb 64px,#ffffff 72px,#ffffff 80px,#fefefe 88px,#fdfdfd 96px,#fcfcfc 104px,#fbfbfb 112px,#f9f9f9 120px,#f8f8f8 128px,#f6f6f6 136px,#f4f4f4 144px,#f3f3f3 152px,#f1f1f1 160px,#f0f0f0 168px,#efefef 176px,#eeeeee 184px,#ededed 192px,#ededed 200px,#eeeeee 208px,#efefef 216px,#f0f0f0 224px,#f1f1f1 232px,#f3f3f3 240px,#f5f5f5 248px,#f7f7f7 256px,#f9f9f9 264px,#fafafa 272px,#fcfcfc 280px,#fdfdfd 288px,#fefefe 296px,#ffffff 304px,#ffffff 312px,#fff9f3 320px,#fff3e7 328px,#ffeedc 336px,#ffe9d2 344px,#ffe4c9 352px,#ffe0c0 360px,#ffdcb8 368px,#ffd8b1 376px,#ffd5aa 384px,#ffd1a3 392px,#ffce9e 400px,#ffcc98 408px,#ffc993 416px,#ffc78f 424px,#ffc58a 432px,#ffc387 440px,#ffc183 448px,#ffc080 456px,#ffbe7d 464px,#ffbd7a 472px,#ffbc78 480px,#ffbb76 488px)"></div>
<div style="top:90px;background:linear-gradient(90deg,#ffdcb8 0px,#ffdebe 8px,#ffe2c4 16px,#ffe5cb 24px,#ffe9d3 32px,#ffeedd 40px,#fff3e7 48px,#fff9f2 56px,#ffffff 64px,#ffffff 72px,#fefefe 80px,#fefefe 88px,#fdfdfd 96px,#fcfcfc 104px,#fafafa 112px,#f9f9f9 120px,#f7f7f7 128px,#f5f5f5 136px,#f4f4f4 144px,#f2f2f2 152px,#f0f0f0 160px,#efefef 168px,#eeeeee 176px,#ededed 184px,#ededed 192px,#ededed 200px,#ededed 208px,#eeeeee 216px,#efefef 224px,#f1f1f1 232px,#f2f2f2 240px,#f4f4f4 248px,#f6f6f6 256px,#f8f8f8 264px,#fafafa 272px,#fcfcfc 280px,#fdfdfd 288px,#fefefe 296px,#ffffff 304px,#ffffff 312px,#fffaf6 320px,#fff5ea 328px,#ffefdf 336px,#ffead5 344px,#ffe5cc 352px,#ffe1c3 360px,#ffddbb 368px,#ffd9b3 376px,#ffd6ac 384px,#ffd3a6 392px,#ffd0a0 400px,#ffcd9b 408px,#ffca96 416px,#ffc891 424px,#ffc68d 432px,#ffc489 440px,#ffc285 448px,#ffc182 456px,#ffbf7f 464px,#ffbe7d 472px,#ffbd7a 480px,#ffbc78 488px)"></div>
<div style="top:93px;background:linear-gradient(90deg,#ffddba 0px,#ffe0c0 8px,#ffe3c7 16px,#ffe7ce 24px,#ffebd7 32px,#fff0e0 40px,#fff5eb 48px,#fffbf7 56px,#ffffff 64px,#ffffff 72px,#fefefe 80px,#fdfdfd 88px,#fcfcfc 96px,#fbfbfb 104px,#fafafa 112px,#f8f8f8 120px,#f7f7f7 128px,#f5f5f5 136px,#f3f3f3 144px,#f1f1f1 152px,#f0f0f0 160px,#eeeeee 168px,#ededed 176px,#ececec 184px,#ececec 192px,#ececec 200px,#ececec 208px,#ededed 216px,#efefef 224px,#f0f0f0 232px,#f2f2f2 240px,#f4f4f4 248px,#f6f6f6 256px,#f8f8f8 264px,#fafafa 272px,#fbfbfb 280px,#fdfdfd 288px,#fefefe 296px,#ffffff 304px,#ffffff 312px,#fffcf9 320px,#fff6ed 328px,#fff1e2 336px,#ffecd8 344px,#ffe7cf 352px,#ffe2c6 360px,#ffdebe 368px,#ffdbb6 376px,#ffd7af 384px,#ffd4a8 392px,#ffd1a3 400px,#ffce9d 408px,#ffcc98 416px,#ffc993 424px,#ffc78f 432px,#ffc58b 440px,#ffc488 448px,#ffc285 456px,#ffc182 464px,#ffbf7f 472px,#ffbe7c 480px,#ffbd7a 488px)"></div>
<div style="top:96px;background:linear-gradient(90deg,#ffdebd 0px,#ffe1c3 8px,#ffe4ca 16px,#ffe8d1 24px,#ffedda 32px,#fff1e4 40px,#fff7ef 48px,#fffdfb 56px,#ffffff 64px,#ffffff 72px,#fefefe 80px,#fdfdfd 88px,#fcfcfc 96px,#fbfbfb 104px,#f9f9f9 112px,#f8f8f8 120px,#f6f6f6 128px,#f4f4f4 136px,#f2f2f2 144px,#f1f1f1 152px,#efefef 160px,#eeeeee 168px,#ededed 176px,#ececec 184px,#ebebeb 192px,#ebebeb 200px,#ececec 208px,#ededed 216px,#eeeeee 224px,#f0f0f0 232px,#f1f1f1 240px,#f3f3f3 248px,#f5f5f5 256px,#f7f7f7 264px,#f9f9f9 272px,#fbfbfb 280px,#fcfcfc 288px,#fdfdfd 296px,#fefefe 304px,#ffffff 312px,#fffefc 320px,#fff8f1 328px,#fff2e5 336px,#ffeddb 344px,#ffe8d2 352px,#ffe4c9 360px,#ffe0c0 368px,#ffdcb9 376px,#ffd8b2 384px,#ffd5ab 392px,#ffd2a5 400px,#ffcfa0 408px,#ffcd9b 416px,#ffcb96 424px,#ffc992 432px,#ffc78e 440px,#ffc58a 448px,#ffc387 456px,#ffc284 464px,#ffc081 472px,#ffbf7f 480px,#ffbe7d 488px)"></div>
<div style="top:99px;background:linear-gradient(90deg,#ffdfbf 0px,#ffe2c6 8px,#ffe6cd 16px,#ffead5 24px,#ffeede 32px,#fff3e8 40px,#fff9f3 48px,#ffffff 56px,#ffffff 64px,#fefefe 72px,#fefefe 80px,#fdfdfd 88px,#fcfcfc 96px,#fafafa 104px,#f9f9f9 112px,#f7f7f7 120px,#f5f5f5 128px,#f4f4f4 136px,#f2f2f2 144px,#f0f0f0 152px,#eeeeee 160px,#ededed 168px,#ececec 176px,#ebebeb 184px,#ebebeb 192px,#ebebeb 200px,#ebebeb 208px,#ececec 216px,#ededed 224px,#efefef 232px,#f1f1f1 240px,#f3f3f3 248px,#f5f5f5 256px,#f7f7f7 264px,#f9f9f9 272px,#fafafa 280px,#fcfcfc 288px,#fdfdfd 296px,#fefefe 304px,#ffffff 312px,#ffffff 320px,#fff9f4 328px,#fff4e9 336px,#ffefde 344px,#ffead5 352px,#ffe5cc 360px,#ffe1c3 368px,#ffddbc 376px,#ffdab4 384px,#ffd7ae 392px,#ffd4a8 400px,#ffd1a2 408px,#ffce9d 416px,#ffcc98 424px,#ffca94 432px,#ffc890 440px,#ffc68d 448px,#ffc489 456px,#ffc386 464px,#ffc284 472px,#ffc081 480px,#ffbf7f 488px)"></div>
<div style="top:102px;background:linear-gradient(90deg,#ffe1c2 0px,#ffe4c9 8px,#ffe8d0 16px,#ffecd8 24px,#fff0e1 32px,#fff5ec 40px,#fffbf8 48px,#ffffff 56px,#ffffff 64px,#fefefe 72px,#fdfdfd 80px,#fcfcfc 88px,#fbfbfb 96px,#fafafa 104px,#f8f8f8 112px,#f7f7f7 120px,#f5f5f5 128px,#f3f3f3 136px,#f1f1f1 144px,#efefef 152px,#eeeeee 160px,#ececec 168px,#ebebeb 176px,#eaeaea 184px,#eaeaea 192px,#eaeaea 200px,#eaeaea 208px,#ebebeb 216px,#ededed 224px,#eeeeee 232px,#f0f0f0 240px,#f2f2f2 248px,#f4f4f4 256px,#f6f6f6 264px,#f8f8f8 272px,#fafafa 280px,#fcfcfc 288px,#fdfdfd 296px,#fefefe 304px,#ffffff 312px,#ffffff 320px,#fffbf7 328px,#fff6ec 336px,#fff0e1 344px,#ffebd8 352px,#ffe7cf 360px,#ffe3c6 368px,#ffdfbe 376px,#ffdbb7 384px,#ffd8b1 392px,#ffd5ab 400px,#ffd2a5 408px,#ffd0a0 416px,#ffcd9b 424px,#ffcb97 432px,#ffc993 440px,#ffc78f 448px,#ffc68c 456px,#ffc489 464px,#ffc386 472px,#ffc284 480px,#ffc081 488px)"></div>
<div style="top:105px;background:linear-gradient(90deg,#ffe2c5 0px,#ffe5cc 8px,#ffe9d3 16px,#ffeddc 24px,#fff2e5 32px,#fff8f0 40px,#fffefc 48px,#ffffff 56px,#ffffff 64px,#fefefe 72px,#fdfdfd 80px,#fcfcfc 88px,#fbfbfb 96px,#f9f9f9 104px,#f8f8f8 112px,#f6f6f6 120px,#f4f4f4 128px,#f2f2f2 136px,#f1f1f1 144px,#efefef 152px,#ededed 160px,#ececec 168px,#eaeaea 176px,#eaeaea 184px,#e9e9e9 192px,#e9e9e9 200px,#eaeaea 208px,#ebebeb 216px,#ececec 224px,#eeeeee 232px,#efefef 240px,#f1f1f1 248px,#f4f4f4 256px,#f6f6f6 264px,#f8f8f8 272px,#f9f9f9 280px,#fbfbfb 288px,#fdfdfd 296px,#fefefe 304px,#fefefe 312px,#ffffff 320px,#fffdfb 328px,#fff7ef 336px,#fff2e5 344px,#ffeddb 352px,#ffe8d2 360px,#ffe4c9 368px,#ffe0c1 376px,#ffddba 384px,#ffd9b4 392px,#ffd6ad 400px,#ffd4a8 408px,#ffd1a3 416px,#ffcf9e 424px,#ffcc99 432px,#ffca95 440px,#ffc992 448px,#ffc78e 456px,#ffc58b 464px,#ffc489 472px,#ffc386 480px,#ffc284 488px)"></div>
<div style="top:108px;background:linear-gradient(90deg,#ffe4c8 0px,#ffe7cf 8px,#ffebd7 16px,#ffefe0 24px,#fff4e9 32px,#fffaf5 40px,#ffffff 48px,#ffffff 56px,#fefefe 64px,#fefefe 72px,#fdfdfd 80px,#fcfcfc 88px,#fafafa 96px,#f9f9f9 104px,#f7f7f7 112px,#f5f5f5 120px,#f4f4f4 128px,#f2f2f2 136px,#f0f0f0 144px,#eeeeee 152px,#ececec 160px,#ebebeb 168px,#eaeaea 176px,#e9e9e9 184px,#e8e8e8 192px,#e8e8e8 200px,#e9e9e9 208px,#eaeaea 216px,#ebebeb 224px,#ededed 232px,#efefef 240px,#f1f1f1 248px,#f3f3f3 256px,#f5f5f5 264px,#f7f7f7 272px,#f9f9f9 280px,#fbfbfb 288px,#fcfcfc 296px,#fdfdfd 304px,#fefefe 312px,#ffffff 320px,#fffffe 328px,#fff9f3 336px,#fff4e8 344px,#ffefde 352px,#ffead5 360px,#ffe6cd 368px,#ffe2c5 376px,#ffdebd 384px,#ffdbb7 392px,#ffd8b0 400px,#ffd5ab 408px,#ffd2a5 416px,#ffd0a1 424px,#ffce9c 432px,#ffcc98 440px,#ffca94 448px,#ffc891 456px,#ffc78e 464px,#ffc58b 472px,#ffc489 480px,#ffc386 488px)"></div>
<div style="top:111px;background:linear-gradient(90deg,#ffe5cb 0px,#ffe9d2 8px,#ffedda 16px,#fff1e4 24px,#fff6ee 32px,#fffcf9 40px,#ffffff 48px,#ffffff 56px,#fefefe 64px,#fdfdfd 72px,#fcfcfc 80px,#fbfbfb 88px,#fafafa 96px,#f8f8f8 104px,#f7f7f7 112px,#f5f5f5 120px,#f3f3f3 128px,#f1f1f1 136px,#efefef 144px,#ededed 152px,#ececec 160px,#eaeaea 168px,#e9e9e9 176px,#e8e8e8 184px,#e8e8e8 192px,#e8e8e8 200px,#e8e8e8 208px,#e9e9e9 216px,#ebebeb 224px,#ececec 232px,#eeeeee 240px,#f0f0f0 248px,#f2f2f2 256px,#f4f4f4 264px,#f7f7f7 272px,#f8f8f8 280px,#fafafa 288px,#fcfcfc 296px,#fdfdfd 304px,#fefefe 312px,#ffffff 320px,#ffffff 328px,#fffbf7 336px,#fff5ec 344px,#fff0e2 352px,#ffecd8 360px,#ffe7d0 368px,#ffe4c8 376px,#ffe0c0 384px,#ffdcba 392px,#ffd9b3 400px,#ffd7ae 408px,#ffd4a8 416px,#ffd1a4 424px,#ffcf9f 432px,#ffcd9b 440px,#ffcb97 448px,#ffca94 456px,#ffc891 464px,#ffc78e 472px,#ffc58b 480px,#ffc489 488px)"></div>
<div style="top:114px;background:linear-gradient(90deg,#ffe7cf 0px,#ffebd6 8px,#ffefde 16px,#fff3e8 24px,#fff9f2 32px,#fffffe 40px,#ffffff 48px,#ffffff 56px,#fefefe 64px,#fdfdfd 72px,#fcfcfc 80px,#fbfbfb 88px,#f9f9f9 96px,#f8f8f8 104px,#f6f6f6 112px,#f4f4f4 120px,#f2f2f2 128px,#f0f0f0 136px,#efefef 144px,#ededed 152px,#ebebeb 160px,#e9e9e9 168px,#e8e8e8 176px,#e7e7e7 184px,#e7e7e7 192px,#e7e7e7 200px,#e7e7e7 208px,#e8e8e8 216px,#eaeaea 224px,#ececec 232px,#ededed 240px,#f0f0f0 248px,#f2f2f2 256px,#f4f4f4 264px,#f6f6f6 272px,#f8f8f8 280px,#fafafa 288px,#fbfbfb 296px,#fdfdfd 304px,#fefefe 312px,#ffffff 320px,#ffffff 328px,#fffdfa 336px,#fff7ef 344px,#fff2e5 352px,#ffeedc 360px,#ffe9d3 368px,#ffe5cb 376px,#ffe1c4 384px,#ffdebd 392px,#ffdbb7 400px,#ffd8b1 408px,#ffd5ab 416px,#ffd3a7 424px,#ffd1a2 432px,#ffcf9e 440px,#ffcd9a 448px,#ffcb97 456px,#ffc994 464px,#ffc891 472px,#ffc78e 480px,#ffc68c 488px)"></div>
<div style="top:117px;background:linear-gradient(90deg,#ffe9d2 0px,#ffecda 8px,#fff1e2 16px,#fff6ec 24px,#fffbf7 32px,#ffffff 40px,#ffffff 48px,#fefefe 56px,#fefefe 64px,#fdfdfd 72px,#fcfcfc 80px,#fafafa 88px,#f9f9f9 96px,#f7f7f7 104px,#f5f5f5 112px,#f4f4f4 120px,#f2f2f2 128px,#f0f0f0 136px,#eeeeee 144px,#ececec 152px,#eaeaea 160px,#e9e9e9 168px,#e7e7e7 176px,#e7e7e7 184px,#e6e6e6 192px,#e6e6e6 200px,#e7e7e7 208px,#e8e8e8 216px,#e9e9e9 224px,#ebebeb 232px,#ededed 240px,#efefef 248px,#f1f1f1 256px,#f3f3f3 264px,#f5f5f5 272px,#f7f7f7 280px,#f9f9f9 288px,#fbfbfb 296px,#fcfcfc 304px,#fefefe 312px,#fefefe 320px,#ffffff 328px,#fffffe 336px,#fff9f3 344px,#fff4e9 352px,#ffefdf 360px,#ffebd7 368px,#ffe7cf 376px,#ffe3c7 384px,#ffe0c0 392px,#ffddba 400px,#ffdab4 408px,#ffd7af 416px,#ffd4aa 424px,#ffd2a5 432px,#ffd0a1 440px,#ffce9d 448px,#ffcc9a 456px,#ffcb96 464px,#ffc993 472px,#ffc891 480px,#ffc78e 488px)"></div>
<div style="top:120px;background:linear-gradient(90deg,#ffead6 0px,#ffeede 8px,#fff3e7 16px,#fff8f1 24px,#fffefc 32px,#ffffff 40px,#ffffff 48px,#fefefe 56px,#fdfdfd 64px,#fcfcfc 72px,#fbfbfb 80px,#fafafa 88px,#f8f8f8 96px,#f7f7f7 104px,#f5f5f5 112px,#f3f3f3 120px,#f1f1f1 128px,#efefef 136px,#ededed 144px,#ebebeb 152px,#eaeaea 160px,#e8e8e8 168px,#e7e7e7 176px,#e6e6e6 184px,#e5e5e5 192px,#e5e5e5 200px,#e6e6e6 208px,#e7e7e7 216px,#e8e8e8 224px,#eaeaea 232px,#ececec 240px,#eeeeee 248px,#f0f0f0 256px,#f3f3f3 264px,#f5f5f5 272px,#f7f7f7 280px,#f9f9f9 288px,#fafafa 296px,#fcfcfc 304px,#fdfdfd 312px,#fefefe 320px,#ffffff 328px,#ffffff 336px,#fffbf7 344px,#fff6ed 352px,#fff1e3 360px,#ffedda 368px,#ffe9d2 376px,#ffe5cb 384px,#ffe1c4 392px,#ffdebd 400px,#ffdbb7 408px,#ffd9b2 416px,#ffd6ad 424px,#ffd4a8 432px,#ffd2a4 440px,#ffd0a0 448px,#ffce9d 456px,#ffcc99 464px,#ffcb96 472px,#ffca94 480px,#ffc891 488px)"></div>
<div style="top:123px;background:linear-gradient(90deg,#ffecda 0px,#fff0e2 8px,#fff5eb 16px,#fffaf6 24px,#ffffff 32px,#ffffff 40px,#fefefe 48px,#fefefe 56px,#fdfdfd 64px,#fcfcfc 72px,#fbfbfb 80px,#f9f9f9 88px,#f8f8f8 96px,#f6f6f6 104px,#f4f4f4 112px,#f2f2f2 120px,#f0f0f0 128px,#eeeeee 136px,#ececec 144px,#ebebeb 152px,#e9e9e9 160px,#e7e7e7 168px,#e6e6e6 176px,#e5e5e5 184px,#e5e5e5 192px,#e5e5e5 200px,#e5e5e5 208px,#e6e6e6 216px,#e8e8e8 224px,#e9e9e9 232px,#ebebeb 240px,#eeeeee 248px,#f0f0f0 256px,#f2f2f2 264px,#f4f4f4 272px,#f6f6f6 280px,#f8f8f8 288px,#fafafa 296px,#fcfcfc 304px,#fdfdfd 312px,#fefefe 320px,#ffffff 328px,#ffffff 336px,#fffdfb 344px,#fff8f1 352px,#fff3e7 360px,#ffefde 368px,#ffead6 376px,#ffe7ce 384px,#ffe3c7 392px,#ffe0c1 400px,#ffddbb 408px,#ffdab5 416px,#ffd8b0 424px,#ffd5ab 432px,#ffd3a7 440px,#ffd1a3 448px,#ffd0a0 456px,#ffce9c 464px,#ffcc99 472px,#ffcb97 480px,#ffca94 488px)"></div>
<div style="top:126px;background:linear-gradient(90deg,#ffeede 0px,#fff3e6 8px,#fff7f0 16px,#fffdfb 24px,#ffffff 32px,#ffffff 40px,#fefefe 48px,#fefefe 56px,#fdfdfd 64px,#fcfcfc 72px,#fafafa 80px,#f9f9f9 88px,#f7f7f7 96px,#f5f5f5 104px,#f4f4f4 112px,#f2f2f2 120px,#f0f0f0 128px,#eeeeee 136px,#ececec 144px,#eaeaea 152px,#e8e8e8 160px,#e6e6e6 168px,#e5e5e5 176px,#e4e4e4 184px,#e4e4e4 192px,#e4e4e4 200px,#e4e4e4 208px,#e5e5e5 216px,#e7e7e7 224px,#e9e9e9 232px,#ebebeb 240px,#ededed 248px,#efefef 256px,#f1f1f1 264px,#f4f4f4 272px,#f6f6f6 280px,#f8f8f8 288px,#f9f9f9 296px,#fbfbfb 304px,#fcfcfc 312px,#fefefe 320px,#fefefe 328px,#ffffff 336px,#ffffff 344px,#fffaf5 352px,#fff5eb 360px,#fff0e2 368px,#ffecda 376px,#ffe8d2 384px,#ffe5cb 392px,#ffe2c4 400px,#ffdfbe 408px,#ffdcb9 416px,#ffd9b3 424px,#ffd7af 432px,#ffd5aa 440px,#ffd3a6 448px,#ffd1a3 456px,#ffcfa0 464px,#ffce9c 472px,#ffcd9a 480px,#ffcb97 488px)"></div>
<div style="top:129px;background:linear-gradient(90deg,#fff0e2 0px,#fff5eb 8px,#fffaf5 16px,#ffffff 24px,#ffffff 32px,#ffffff 40px,#fefefe 48px,#fdfdfd 56px,#fcfcfc 64px,#fbfbfb 72px,#fafafa 80px,#f8f8f8 88px,#f7f7f7 96px,#f5f5f5 104px,#f3f3f3 112px,#f1f1f1 120px,#efefef 128px,#ededed 136px,#ebebeb 144px,#e9e9e9 152px,#e7e7e7 160px,#e6e6e6 168px,#e4e4e4 176px,#e3e3e3 184px,#e3e3e3 192px,#e3e3e3 200px,#e4e4e4 208px,#e5e5e5 216px,#e6e6e6 224px,#e8e8e8 232px,#eaeaea 240px,#ececec 248px,#eeeeee 256px,#f1f1f1 264px,#f3f3f3 272px,#f5f5f5 280px,#f7f7f7 288px,#f9f9f9 296px,#fbfbfb 304px,#fcfcfc 312px,#fdfdfd 320px,#fefefe 328px,#ffffff 336px,#ffffff 344px,#fffcf9 352px,#fff7ef 360px,#fff2e6 368px,#ffeedd 376px,#ffead6 384px,#ffe7ce 392px,#ffe3c8 400px,#ffe0c2 408px,#ffdebc 416px,#ffdbb7 424px,#ffd9b2 432px,#ffd7ae 440px,#ffd5aa 448px,#ffd3a6 456px,#ffd1a3 464px,#ffd0a0 472px,#ffce9d 480px,#ffcd9a 488px)"></div>
<div style="top:132px;background:linear-gradient(90deg,#fff3e6 0px,#fff7f0 8px,#fffcfa 16px,#ffffff 24px,#ffffff 32px,#fefefe 40px,#fefefe 48px,#fdfdfd 56px,#fcfcfc 64px,#fbfbfb 72px,#f9f9f9 80px,#f8f8f8 88px,#f6f6f6 96px,#f4f4f4 104px,#f2f2f2 112px,#f0f0f0 120px,#eeeeee 128px,#ececec 136px,#eaeaea 144px,#e8e8e8 152px,#e7e7e7 160px,#e5e5e5 168px,#e4e4e4 176px,#e3e3e3 184px,#e2e2e2 192px,#e2e2e2 200px,#e3e3e3 208px,#e4e4e4 216px,#e5e5e5 224px,#e7e7e7 232px,#e9e9e9 240px,#ebebeb 248px,#eeeeee 256px,#f0f0f0 264px,#f2f2f2 272px,#f4f4f4 280px,#f6f6f6 288px,#f8f8f8 296px,#fafafa 304px,#fcfcfc 312px,#fdfdfd 320px,#fefefe 328px,#ffffff 336px,#ffffff 344px,#fffefd 352px,#fff9f3 360px,#fff4ea 368px,#fff0e1 376px,#ffecd9 384px,#ffe9d2 392px,#ffe5cc 400px,#ffe2c5 408px,#ffdfc0 416px,#ffddba 424px,#ffdab6 432px,#ffd8b1 440px,#ffd6ad 448px,#ffd4a9 456px,#ffd3a6 464px,#ffd1a3 472px,#ffd0a0 480px,#ffce9d 488px)"></div>
<div style="top:135px;background:linear-gradient(90deg,#fff5eb 0px,#fffaf5 8px,#ffffff 16px,#ffffff 24px,#ffffff 32px,#fefefe 40px,#fdfdfd 48px,#fcfcfc 56px,#fbfbfb 64px,#fafafa 72px,#f9f9f9 80px,#f7f7f7 88px,#f5f5f5 96px,#f3f3f3 104px,#f2f2f2 112px,#f0f0f0 120px,#eeeeee 128px,#ececec 136px,#eaeaea 144px,#e8e8e8 152px,#e6e6e6 160px,#e4e4e4 168px,#e3e3e3 176px,#e2e2e2 184px,#e1e1e1 192px,#e1e1e1 200px,#e2e2e2 208px,#e3e3e3 216px,#e5e5e5 224px,#e6e6e6 232px,#e8e8e8 240px,#ebebeb 248px,#ededed 256px,#efefef 264px,#f2f2f2 272px,#f4f4f4 280px,#f6f6f6 288px,#f8f8f8 296px,#fafafa 304px,#fbfbfb 312px,#fcfcfc 320px,#fdfdfd 328px,#fefefe 336px,#ffffff 344px,#ffffff 352px,#fffbf7 360px,#fff7ee 368px,#fff2e5 376px,#ffeede 384px,#ffebd6 392px,#ffe7cf 400px,#ffe4c9 408px,#ffe1c3 416px,#ffdfbe 424px,#ffdcb9 432px,#ffdab5 440px,#ffd8b1 448px,#ffd6ad 456px,#ffd4a9 464px,#ffd3a6 472px,#ffd1a3 480px,#ffd0a1 488px)"></div>
<div style="top:138px;background:linear-gradient(90deg,#fff7f0 0px,#fffcfa 8px,#ffffff 16px,#ffffff 24px,#fefefe 32px,#fefefe 40px,#fdfdfd 48px,#fcfcfc 56px,#fbfbfb 64px,#fafafa 72px,#f8f8f8 80px,#f6f6f6 88px,#f5f5f5 96px,#f3f3f3 104px,#f1f1f1 112px,#efefef 120px,#ededed 128px,#ebebeb 136px,#e9e9e9 144px,#e7e7e7 152px,#e5e5e5 160px,#e3e3e3 168px,#e2e2e2 176px,#e1e1e1 184px,#e1e1e1 192px,#e1e1e1 200px,#e1e1e1 208px,#e2e2e2 216px,#e4e4e4 224px,#e6e6e6 232px,#e8e8e8 240px,#eaeaea 248px,#ececec 256px,#efefef 264px,#f1f1f1 272px,#f3f3f3 280px,#f5f5f5 288px,#f7f7f7 296px,#f9f9f9 304px,#fbfbfb 312px,#fcfcfc 320px,#fdfdfd 328px,#fefefe 336px,#ffffff 344px,#ffffff 352px,#fffdfc 360px,#fff9f2 368px,#fff4ea 376px,#fff0e2 384px,#ffedda 392px,#ffe9d3 400px,#ffe6cd 408px,#ffe3c7 416px,#ffe1c2 424px,#ffdebd 432px,#ffdcb8 440px,#ffdab4 448px,#ffd8b0 456px,#ffd6ad 464px,#ffd4aa 472px,#ffd3a7 480px,#ffd2a4 488px)"></div>
<div style="top:141px;background:linear-gradient(90deg,#fffaf5 0px,#ffffff 8px,#ffffff 16px,#ffffff 24px,#fefefe 32px,#fdfdfd 40px,#fdfdfd 48px,#fcfcfc 56px,#fafafa 64px,#f9f9f9 72px,#f7f7f7 80px,#f6f6f6 88px,#f4f4f4 96px,#f2f2f2 104px,#f0f0f0 112px,#eeeeee 120px,#ececec 128px,#eaeaea 136px,#e8e8e8 144px,#e6e6e6 152px,#e4e4e4 160px,#e3e3e3 168px,#e1e1e1 176px,#e0e0e0 184px,#e0e0e0 192px,#e0e0e0 200px,#e0e0e0 208px,#e2e2e2 216px,#e3e3e3 224px,#e5e5e5 232px,#e7e7e7 240px,#e9e9e9 248px,#ebebeb 256px,#eeeeee 264px,#f0f0f0 272px,#f2f2f2 280px,#f5f5f5 288px,#f7f7f7 296px,#f8f8f8 304px,#fafafa 312px,#fcfcfc 320px,#fdfdfd 328px,#fefefe 336px,#fefefe 344px,#ffffff 352px,#ffffff 360px,#fffbf7 368px,#fff7ee 376px,#fff2e6 384px,#ffefde 392px,#ffebd7 400px,#ffe8d1 408px,#ffe5cb 416px,#ffe2c6 424px,#ffe0c1 432px,#ffdebc 440px,#ffdcb8 448px,#ffdab4 456px,#ffd8b0 464px,#ffd6ad 472px,#ffd5aa 480px,#ffd3a7 488px)"></div>
<div style="top:144px;background:linear-gradient(90deg,#fffdfa 0px,#ffffff 8px,#ffffff 16px,#fefefe 24px,#fefefe 32px,#fdfdfd 40px,#fcfcfc 48px,#fbfbfb 56px,#fafafa 64px,#f8f8f8 72px,#f7f7f7 80px,#f5f5f5 88px,#f3f3f3 96px,#f1f1f1 104px,#efefef 112px,#ededed 120px,#ebebeb 128px,#e9e9e9 136px,#e7e7e7 144px,#e5e5e5 152px,#e3e3e3 160px,#e2e2e2 168px,#e1e1e1 176px,#e0e0e0 184px,#dfdfdf 192px,#dfdfdf 200px,#e0e0e0 208px,#e1e1e1 216px,#e2e2e2 224px,#e4e4e4 232px,#e6e6e6 240px,#e8e8e8 248px,#ebebeb 256px,#ededed 264px,#efefef 272px,#f2f2f2 280px,#f4f4f4 288px,#f6f6f6 296px,#f8f8f8 304px,#f9f9f9 312px,#fbfbfb 320px,#fcfcfc 328px,#fdfdfd 336px,#fefefe 344px,#ffffff 352px,#ffffff 360px,#fffdfb 368px,#fff9f2 376px,#fff5ea 384px,#fff1e3 392px,#ffeddc 400px,#ffead5 408px,#ffe7cf 416px,#ffe4ca 424px,#ffe2c5 432px,#ffe0c0 440px,#ffddbc 448px,#ffdbb8 456px,#ffdab4 464px,#ffd8b1 472px,#ffd7ae 480px,#ffd5ab 488px)"></div>
<div style="top:147px;background:linear-gradient(90deg,#ffffff 0px,#ffffff 8px,#ffffff 16px,#fefefe 24px,#fdfdfd 32px,#fdfdfd 40px,#fcfcfc 48px,#fbfbfb 56px,#f9f9f9 64px,#f8f8f8 72px,#f6f6f6 80px,#f4f4f4 88px,#f3f3f3 96px,#f1f1f1 104px,#efefef 112px,#ededed 120px,#ebebeb 128px,#e9e9e9 136px,#e6e6e6 144px,#e5e5e5 152px,#e3e3e3 160px,#e1e1e1 168px,#e0e0e0 176px,#dfdfdf 184px,#dedede 192px,#dedede 200px,#dfdfdf 208px,#e0e0e0 216px,#e1e1e1 224px,#e3e3e3 232px,#e5e5e5 240px,#e8e8e8 248px,#eaeaea 256px,#ececec 264px,#efefef 272px,#f1f1f1 280px,#f3f3f3 288px,#f5f5f5 296px,#f7f7f7 304px,#f9f9f9 312px,#fafafa 320px,#fcfcfc 328px,#fdfdfd 336px,#fefefe 344px,#fefefe 352px,#ffffff 360px,#ffffff 368px,#fffbf7 376px,#fff7ef 384px,#fff3e7 392px,#fff0e0 400px,#ffecd9 408px,#ffe9d3 416px,#ffe6ce 424px,#ffe4c9 432px,#ffe2c4 440px,#ffdfbf 448px,#ffddbb 456px,#ffdcb8 464px,#ffdab4 472px,#ffd8b1 480px,#ffd7ae 488px)"></div>
<div style="top:150px;background:linear-gradient(90deg,#ffffff 0px,#ffffff 8px,#fefefe 16px,#fefefe 24px,#fdfdfd 32px,#fcfcfc 40px,#fbfbfb 48px,#fafafa 56px,#f9f9f9 64px,#f7f7f7 72px,#f5f5f5 80px,#f4f4f4 88px,#f2f2f2 96px,#f0f0f0 104px,#eeeeee 112px,#ececec 120px,#eaeaea 128px,#e8e8e8 136px,#e6e6e6 144px,#e4e4e4 152px,#e2e2e2 160px,#e0e0e0 168px,#dfdfdf 176px,#dedede 184px,#dddddd 192px,#dedede 200px,#dedede 208px,#dfdfdf 216px,#e1e1e1 224px,#e3e3e3 232px,#e5e5e5 240px,#e7e7e7 248px,#e9e9e9 256px,#ececec 264px,#eeeeee 272px,#f0f0f0 280px,#f2f2f2 288px,#f4f4f4 296px,#f6f6f6 304px,#f8f8f8 312px,#fafafa 320px,#fbfbfb 328px,#fcfcfc 336px,#fdfdfd 344px,#fefefe 352px,#ffffff 360px,#ffffff 368px,#fffdfc 376px,#fff9f3 384px,#fff5ec 392px,#fff2e4 400px,#ffeede 408px,#ffebd8 416px,#ffe9d2 424px,#ffe6cd 432px,#ffe4c8 440px,#ffe1c3 448px,#ffdfbf 456px,#ffddbc 464px,#ffdcb8 472px,#ffdab5 480px,#ffd9b2 488px)"></div>
<div style="top:153px;background:linear-gradient(90deg,#ffffff 0px,#ffffff 8px,#fefefe 16px,#fefefe 24px,#fdfdfd 32px,#fcfcfc 40px,#fbfbfb 48px,#f9f9f9 56px,#f8f8f8 64px,#f6f6f6 72px,#f5f5f5 80px,#f3f3f3 88px,#f1f1f1 96px,#efefef 104px,#ededed 112px,#ebebeb 120px,#e9e9e9 128px,#e7e7e7 136px,#e5e5e5 144px,#e3e3e3 152px,#e1e1e1 160px,#e0e0e0 168px,#dedede 176px,#dddddd 184px,#dddddd 192px,#dddddd 200px,#dddddd 208px,#dedede 216px,#e0e0e0 224px,#e2e2e2 232px,#e4e4e4 240px,#e6e6e6 248px,#e8e8e8 256px,#ebebeb 264px,#ededed 272px,#efefef 280px,#f2f2f2 288px,#f4f4f4 296px,#f6f6f6 304px,#f8f8f8 312px,#f9f9f9 320px,#fbfbfb 328px,#fcfcfc 336px,#fdfdfd 344px,#fefefe 352px,#fefefe 360px,#ffffff 368px,#ffffff 376px,#fffcf8 384px,#fff8f0 392px,#fff4e9 400px,#fff1e2 408px,#ffeedc 416px,#ffebd6 424px,#ffe8d1 432px,#ffe6cc 440px,#ffe3c8 448px,#ffe1c3 456px,#ffdfc0 464px,#ffdebc 472px,#ffdcb9 480px,#ffdbb6 488px)"></div>
<div style="top:156px;background:linear-gradient(90deg,#ffffff 0px,#fefefe 8px,#fefefe 16px,#fdfdfd 24px,#fcfcfc 32px,#fbfbfb 40px,#fafafa 48px,#f9f9f9 56px,#f7f7f7 64px,#f6f6f6 72px,#f4f4f4 80px,#f2f2f2 88px,#f0f0f0 96px,#eeeeee 104px,#ececec 112px,#eaeaea 120px,#e8e8e8 128px,#e6e6e6 136px,#e4e4e4 144px,#e2e2e2 152px,#e0e0e0 160px,#dfdfdf 168px,#dddddd 176px,#dcdcdc 184px,#dcdcdc 192px,#dcdcdc 200px,#dddddd 208px,#dedede 216px,#dfdfdf 224px,#e1e1e1 232px,#e3e3e3 240px,#e5e5e5 248px,#e8e8e8 256px,#eaeaea 264px,#ececec 272px,#efefef 280px,#f1f1f1 288px,#f3f3f3 296px,#f5f5f5 304px,#f7f7f7 312px,#f9f9f9 320px,#fafafa 328px,#fbfbfb 336px,#fdfdfd 344px,#fefefe 352px,#fefefe 360px,#ffffff 368px,#ffffff 376px,#fffefd 384px,#fffaf5 392px,#fff6ee 400px,#fff3e7 408px,#fff0e0 416px,#ffeddb 424px,#ffead5 432px,#ffe8d0 440px,#ffe5cc 448px,#ffe3c7 456px,#ffe1c4 464px,#ffe0c0 472px,#ffdebd 480px,#ffdcba 488px)"></div>
<div style="top:159px;background:linear-gradient(90deg,#ffffff 0px,#fefefe 8px,#fefefe 16px,#fdfdfd 24px,#fcfcfc 32px,#fbfbfb 40px,#fafafa 48px,#f8f8f8 56px,#f7f7f7 64px,#f5f5f5 72px,#f3f3f3 80px,#f2f2f2 88px,#f0f0f0 96px,#eeeeee 104px,#ececec 112px,#eaeaea 120px,#e8e8e8 128px,#e5e5e5 136px,#e3e3e3 144px,#e1e1e1 152px,#e0e0e0 160px,#dedede 168px,#dddddd 176px,#dcdcdc 184px,#dbdbdb 192px,#dbdbdb 200px,#dcdcdc 208px,#dddddd 216px,#dedede 224px,#e0e0e0 232px,#e2e2e2 240px,#e4e4e4 248px,#e7e7e7 256px,#e9e9e9 264px,#ececec 272px,#eeeeee 280px,#f0f0f0 288px,#f2f2f2 296px,#f4f4f4 304px,#f6f6f6 312px,#f8f8f8 320px,#fafafa 328px,#fbfbfb 336px,#fcfcfc 344px,#fdfdfd 352px,#fefefe 360px,#fefefe 368px,#ffffff 376px,#ffffff 384px,#fffcfa 392px,#fff9f2 400px,#fff5eb 408px,#fff2e5 416px,#ffefdf 424px,#ffecda 432px,#ffead5 440px,#ffe8d0 448px,#ffe5cc 456px,#ffe3c8 464px,#ffe2c4 472px,#ffe0c1 480px,#ffdebd 488px)"></div>
<div style="top:162px;background:linear-gradient(90deg,#fefefe 0px,#fefefe 8px,#fdfdfd 16px,#fcfcfc 24px,#fbfbfb 32px,#fafafa 40px,#f9f9f9 48px,#f8f8f8 56px,#f6f6f6 64px,#f4f4f4 72px,#f3f3f3 80px,#f1f1f1 88px,#efefef 96px,#ededed 104px,#ebebeb 112px,#e9e9e9 120px,#e7e7e7 128px,#e5e5e5 136px,#e3e3e3 144px,#e1e1e1 152px,#dfdfdf 160px,#dddddd 168px,#dcdcdc 176px,#dbdbdb 184px,#dadada 192px,#dadada 200px,#dbdbdb 208px,#dcdcdc 216px,#dedede 224px,#dfdfdf 232px,#e1e1e1 240px,#e4e4e4 248px,#e6e6e6 256px,#e8e8e8 264px,#ebebeb 272px,#ededed 280px,#efefef 288px,#f1f1f1 296px,#f4f4f4 304px,#f5f5f5 312px,#f7f7f7 320px,#f9f9f9 328px,#fafafa 336px,#fcfcfc 344px,#fdfdfd 352px,#fefefe 360px,#fefefe 368px,#ffffff 376px,#ffffff 384px,#ffffff 392px,#fffbf7 400px,#fff8f0 408px,#fff4ea 416px,#fff1e4 424px,#ffefde 432px,#ffecd9 440px,#ffead4 448px,#ffe8d0 456px,#ffe5cc 464px,#ffe4c8 472px,#ffe2c5 480px,#ffe0c1 488px)"></div>
<div style="top:165px;background:linear-gradient(90deg,#fefefe 0px,#fdfdfd 8px,#fdfdfd 16px,#fcfcfc 24px,#fbfbfb 32px,#fafafa 40px,#f8f8f8 48px,#f7f7f7 56px,#f5f5f5 64px,#f4f4f4 72px,#f2f2f2 80px,#f0f0f0 88px,#eeeeee 96px,#ececec 104px,#eaeaea 112px,#e8e8e8 120px,#e6e6e6 128px,#e4e4e4 136px,#e2e2e2 144px,#e0e0e0 152px,#dedede 160px,#dddddd 168px,#dbdbdb 176px,#dadada 184px,#dadada 192px,#dadada 200px,#dadada 208px,#dbdbdb 216px,#dddddd 224px,#dfdfdf 232px,#e1e1e1 240px,#e3e3e3 248px,#e5e5e5 256px,#e8e8e8 264px,#eaeaea 272px,#ececec 280px,#eeeeee 288px,#f1f1f1 296px,#f3f3f3 304px,#f5f5f5 312px,#f7f7f7 320px,#f8f8f8 328px,#fafafa 336px,#fbfbfb 344px,#fcfcfc 352px,#fdfdfd 360px,#fefefe 368px,#fefefe 376px,#ffffff 384px,#ffffff 392px,#fffefc 400px,#fffaf5 408px,#fff7ef 416px,#fff4e8 424px,#fff1e3 432px,#ffeedd 440px,#ffecd9 448px,#ffead4 456px,#ffe8d0 464px,#ffe6cc 472px,#ffe4c9 480px,#ffe2c5 488px)"></div>
<div style="top:168px;background:linear-gradient(90deg,#fefefe 0px,#fdfdfd 8px,#fcfcfc 16px,#fbfbfb 24px,#fafafa 32px,#f9f9f9 40px,#f8f8f8 48px,#f6f6f6 56px,#f5f5f5 64px,#f3f3f3 72px,#f1f1f1 80px,#efefef 88px,#ededed 96px,#ebebeb 104px,#e9e9e9 112px,#e7e7e7 120px,#e5e5e5 128px,#e3e3e3 136px,#e1e1e1 144px,#dfdfdf 152px,#dddddd 160px,#dcdcdc 168px,#dadada 176px,#d9d9d9 184px,#d9d9d9 192px,#d9d9d9 200px,#d9d9d9 208px,#dadada 216px,#dcdcdc 224px,#dedede 232px,#e0e0e0 240px,#e2e2e2 248px,#e4e4e4 256px,#e7e7e7 264px,#e9e9e9 272px,#ebebeb 280px,#eeeeee 288px,#f0f0f0 296px,#f2f2f2 304px,#f4f4f4 312px,#f6f6f6 320px,#f8f8f8 328px,#f9f9f9 336px,#fafafa 344px,#fcfcfc 352px,#fdfdfd 360px,#fdfdfd 368px,#fefefe 376px,#ffffff 384px,#ffffff 392px,#ffffff 400px,#fffdfa 408px,#fff9f3 416px,#fff6ed 424px,#fff3e7 432px,#fff1e2 440px,#ffeedd 448px,#ffecd9 456px,#ffead4 464px,#ffe8d0 472px,#ffe6cd 480px,#ffe4ca 488px)"></div>
<div style="top:171px;background:linear-gradient(90deg,#fdfdfd 0px,#fdfdfd 8px,#fcfcfc 16px,#fbfbfb 24px,#fafafa 32px,#f8f8f8 40px,#f7f7f7 48px,#f5f5f5 56px,#f4f4f4 64px,#f2f2f2 72px,#f0f0f0 80px,#eeeeee 88px,#ededed 96px,#ebebeb 104px,#e9e9e9 112px,#e6e6e6 120px,#e4e4e4 128px,#e2e2e2 136px,#e0e0e0 144px,#dedede 152px,#dddddd 160px,#dbdbdb 168px,#dadada 176px,#d9d9d9 184px,#d8d8d8 192px,#d8d8d8 200px,#d9d9d9 208px,#dadada 216px,#dbdbdb 224px,#dddddd 232px,#dfdfdf 240px,#e1e1e1 248px,#e4e4e4 256px,#e6e6e6 264px,#e8e8e8 272px,#ebebeb 280px,#ededed 288px,#efefef 296px,#f1f1f1 304px,#f3f3f3 312px,#f5f5f5 320px,#f7f7f7 328px,#f8f8f8 336px,#fafafa 344px,#fbfbfb 352px,#fcfcfc 360px,#fdfdfd 368px,#fefefe 376px,#fefefe 384px,#ffffff 392px,#ffffff 400px,#ffffff 408px,#fffcf8 416px,#fff9f2 424px,#fff6ec 432px,#fff3e7 440px,#fff0e2 448px,#ffeedd 456px,#ffecd9 464px,#ffead5 472px,#ffe8d1 480px,#ffe6ce 488px)"></div>
<div style="top:174px;background:linear-gradient(90deg,#fdfdfd 0px,#fcfcfc 8px,#fbfbfb 16px,#fafafa 24px,#f9f9f9 32px,#f8f8f8 40px,#f6f6f6 48px,#f5f5f5 56px,#f3f3f3 64px,#f1f1f1 72px,#f0f0f0 80px,#eeeeee 88px,#ececec 96px,#eaeaea 104px,#e8e8e8 112px,#e6e6e6 120px,#e4e4e4 128px,#e2e2e2 136px,#e0e0e0 144px,#dedede 152px,#dcdcdc 160px,#dadada 168px,#d9d9d9 176px,#d8d8d8 184px,#d7d7d7 192px,#d7d7d7 200px,#d8d8d8 208px,#d9d9d9 216px,#dadada 224px,#dcdcdc 232px,#dedede 240px,#e0e0e0 248px,#e3e3e3 256px,#e5e5e5 264px,#e7e7e7 272px,#eaeaea 280px,#ececec 288px,#eeeeee 296px,#f0f0f0 304px,#f2f2f2 312px,#f4f4f4 320px,#f6f6f6 328px,#f8f8f8 336px,#f9f9f9 344px,#fafafa 352px,#fcfcfc 360px,#fdfdfd 368px,#fdfdfd 376px,#fefefe 384px,#fefefe 392px,#ffffff 400px,#ffffff 408px,#fffefe 416px,#fffbf7 424px,#fff8f1 432px,#fff5ec 440px,#fff3e6 448px,#fff0e2 456px,#ffeedd 464px,#ffecd9 472px,#ffead5 480px,#ffe9d2 488px)"></div>
<div style="top:177px;background:linear-gradient(90deg,#fdfdfd 0px,#fcfcfc 8px,#fbfbfb 16px,#fafafa 24px,#f8f8f8 32px,#f7f7f7 40px,#f6f6f6 48px,#f4f4f4 56px,#f2f2f2 64px,#f1f1f1 72px,#efefef 80px,#ededed 88px,#ebebeb 96px,#e9e9e9 104px,#e7e7e7 112px,#e5e5e5 120px,#e3e3e3 128px,#e1e1e1 136px,#dfdfdf 144px,#dddddd 152px,#dbdbdb 160px,#dadada 168px,#d8d8d8 176px,#d7d7d7 184px,#d7d7d7 192px,#d7d7d7 200px,#d7d7d7 208px,#d8d8d8 216px,#dadada 224px,#dcdcdc 232px,#dedede 240px,#e0e0e0 248px,#e2e2e2 256px,#e4e4e4 264px,#e7e7e7 272px,#e9e9e9 280px,#ebebeb 288px,#ededed 296px,#efefef 304px,#f1f1f1 312px,#f3f3f3 320px,#f5f5f5 328px,#f7f7f7 336px,#f8f8f8 344px,#fafafa 352px,#fbfbfb 360px,#fcfcfc 368px,#fdfdfd 376px,#fefefe 384px,#fefefe 392px,#ffffff 400px,#ffffff 408px,#ffffff 416px,#fffefc 424px,#fffbf6 432px,#fff8f0 440px,#fff5eb 448px,#fff3e6 456px,#fff0e2 464px,#ffeede 472px,#ffecda 480px,#ffebd6 488px)"></div>
<div style="top:180px;background:linear-gradient(90deg,#fcfcfc 0px,#fbfbfb 8px,#fafafa 16px,#f9f9f9 24px,#f8f8f8 32px,#f6f6f6 40px,#f5f5f5 48px,#f3f3f3 56px,#f2f2f2 64px,#f0f0f0 72px,#eeeeee 80px,#ececec 88px,#eaeaea 96px,#e8e8e8 104px,#e6e6e6 112px,#e4e4e4 120px,#e2e2e2 128px,#e0e0e0 136px,#dedede 144px,#dcdcdc 152px,#dadada 160px,#d9d9d9 168px,#d7d7d7 176px,#d6d6d6 184px,#d6d6d6 192px,#d6d6d6 200px,#d6d6d6 208px,#d7d7d7 216px,#d9d9d9 224px,#dbdbdb 232px,#dddddd 240px,#dfdfdf 248px,#e1e1e1 256px,#e3e3e3 264px,#e6e6e6 272px,#e8e8e8 280px,#eaeaea 288px,#ececec 296px,#efefef 304px,#f1f1f1 312px,#f3f3f3 320px,#f4f4f4 328px,#f6f6f6 336px,#f8f8f8 344px,#f9f9f9 352px,#fafafa 360px,#fbfbfb 368px,#fcfcfc 376px,#fdfdfd 384px,#fefefe 392px,#fefefe 400px,#ffffff 408px,#ffffff 416px,#ffffff 424px,#fffdfb 432px,#fffaf5 440px,#fff8f0 448px,#fff5eb 456px,#fff3e7 464px,#fff1e2 472px,#ffefde 480px,#ffeddb 488px)"></div>
<div style="top:183px;background:linear-gradient(90deg,#fcfcfc 0px,#fbfbfb 8px,#fafafa 16px,#f8f8f8 24px,#f7f7f7 32px,#f6f6f6 40px,#f4f4f4 48px,#f2f2f2 56px,#f1f1f1 64px,#efefef 72px,#ededed 80px,#ebebeb 88px,#e9e9e9 96px,#e7e7e7 104px,#e5e5e5 112px,#e3e3e3 120px,#e1e1e1 128px,#dfdfdf 136px,#dddddd 144px,#dcdcdc 152px,#dadada 160px,#d8d8d8 168px,#d7d7d7 176px,#d6d6d6 184px,#d5d5d5 192px,#d5d5d5 200px,#d6d6d6 208px,#d7d7d7 216px,#d8d8d8 224px,#dadada 232px,#dcdcdc 240px,#dedede 248px,#e0e0e0 256px,#e3e3e3 264px,#e5e5e5 272px,#e7e7e7 280px,#e9e9e9 288px,#ececec 296px,#eeeeee 304px,#f0f0f0 312px,#f2f2f2 320px,#f4f4f4 328px,#f5f5f5 336px,#f7f7f7 344px,#f8f8f8 352px,#fafafa 360px,#fbfbfb 368px,#fcfcfc 376px,#fdfdfd 384px,#fdfdfd 392px,#fefefe 400px,#fefefe 408px,#ffffff 416px,#ffffff 424px,#ffffff 432px,#fffdfb 440px,#fffaf5 448px,#fff8f0 456px,#fff5eb 464px,#fff3e7 472px,#fff1e3 480px,#ffefdf 488px)"></div>
<div style="top:186px;background:linear-gradient(90deg,#fbfbfb 0px,#fafafa 8px,#f9f9f9 16px,#f8f8f8 24px,#f6f6f6 32px,#f5f5f5 40px,#f3f3f3 48px,#f2f2f2 56px,#f0f0f0 64px,#eeeeee 72px,#ececec 80px,#eaeaea 88px,#e8e8e8 96px,#e7e7e7 104px,#e5e5e5 112px,#e3e3e3 120px,#e1e1e1 128px,#dfdfdf 136px,#dddddd 144px,#dbdbdb 152px,#d9d9d9 160px,#d7d7d7 168px,#d6d6d6 176px,#d5d5d5 184px,#d4d4d4 192px,#d4d4d4 200px,#d5d5d5 208px,#d6d6d6 216px,#d8d8d8 224px,#d9d9d9 232px,#dbdbdb 240px,#dddddd 248px,#dfdfdf 256px,#e2e2e2 264px,#e4e4e4 272px,#e6e6e6 280px,#e8e8e8 288px,#ebebeb 296px,#ededed 304px,#efefef 312px,#f1f1f1 320px,#f3f3f3 328px,#f4f4f4 336px,#f6f6f6 344px,#f8f8f8 352px,#f9f9f9 360px,#fafafa 368px,#fbfbfb 376px,#fcfcfc 384px,#fdfdfd 392px,#fefefe 400px,#fefefe 408px,#ffffff 416px,#ffffff 424px,#ffffff 432px,#ffffff 440px,#fffdfa 448px,#fffaf5 456px,#fff8f0 464px,#fff5eb 472px,#fff3e7 480px,#fff1e3 488px)"></div>
<div style="top:189px;background:linear-gradient(90deg,#fbfbfb 0px,#f9f9f9 8px,#f8f8f8 16px,#f7f7f7 24px,#f6f6f6 32px,#f4f4f4 40px,#f3f3f3 48px,#f1f1f1 56px,#efefef 64px,#ededed 72px,#ececec 80px,#eaeaea 88px,#e8e8e8 96px,#e6e6e6 104px,#e4e4e4 112px,#e2e2e2 120px,#e0e0e0 128px,#dedede 136px,#dcdcdc 144px,#dadada 152px,#d8d8d8 160px,#d7d7d7 168px,#d5d5d5 176px,#d4d4d4 184px,#d4d4d4 192px,#d4d4d4 200px,#d4d4d4 208px,#d5d5d5 216px,#d7d7d7 224px,#d9d9d9 232px,#dadada 240px,#dcdcdc 248px,#dfdfdf 256px,#e1e1e1 264px,#e3e3e3 272px,#e5e5e5 280px,#e8e8e8 288px,#eaeaea 296px,#ececec 304px,#eeeeee 312px,#f0f0f0 320px,#f2f2f2 328px,#f4f4f4 336px,#f5f5f5 344px,#f7f7f7 352px,#f8f8f8 360px,#f9f9f9 368px,#fbfbfb 376px,#fcfcfc 384px,#fcfcfc 392px,#fdfdfd 400px,#fefefe 408px,#fefefe 416px,#ffffff 424px,#ffffff 432px,#ffffff 440px,#ffffff 448px,#fffcfa 456px,#fffaf5 464px,#fff8f0 472px,#fff5ec 480px,#fff3e8 488px)"></div>
<div style="top:192px;background:linear-gradient(90deg,#fafafa 0px,#f9f9f9 8px,#f8f8f8 16px,#f6f6f6 24px,#f5f5f5 32px,#f3f3f3 40px,#f2f2f2 48px,#f0f0f0 56px,#eeeeee 64px,#ededed 72px,#ebebeb 80px,#e9e9e9 88px,#e7e7e7 96px,#e5e5e5 104px,#e3e3e3 112px,#e1e1e1 120px,#dfdfdf 128px,#dddddd 136px,#dbdbdb 144px,#d9d9d9 152px,#d8d8d8 160px,#d6d6d6 168px,#d5d5d5 176px,#d4d4d4 184px,#d3d3d3 192px,#d3d3d3 200px,#d4d4d4 208px,#d5d5d5 216px,#d6d6d6 224px,#d8d8d8 232px,#dadada 240px,#dcdcdc 248px,#dedede 256px,#e0e0e0 264px,#e2e2e2 272px,#e4e4e4 280px,#e7e7e7 288px,#e9e9e9 296px,#ebebeb 304px,#ededed 312px,#efefef 320px,#f1f1f1 328px,#f3f3f3 336px,#f4f4f4 344px,#f6f6f6 352px,#f7f7f7 360px,#f9f9f9 368px,#fafafa 376px,#fbfbfb 384px,#fcfcfc 392px,#fdfdfd 400px,#fdfdfd 408px,#fefefe 416px,#fefefe 424px,#ffffff 432px,#ffffff 440px,#ffffff 448px,#ffffff 456px,#fffcfa 464px,#fffaf5 472px,#fff8f0 480px,#fff6ec 488px)"></div>
<div style="top:195px;background:linear-gradient(90deg,#f9f9f9 0px,#f8f8f8 8px,#f7f7f7 16px,#f6f6f6 24px,#f4f4f4 32px,#f3f3f3 40px,#f1f1f1 48px,#efefef 56px,#eeeeee 64px,#ececec 72px,#eaeaea 80px,#e8e8e8 88px,#e6e6e6 96px,#e4e4e4 104px,#e2e2e2 112px,#e0e0e0 120px,#dedede 128px,#dcdcdc 136px,#dbdbdb 144px,#d9d9d9 152px,#d7d7d7 160px,#d6d6d6 168px,#d4d4d4 176px,#d3d3d3 184px,#d3d3d3 192px,#d2d2d2 200px,#d3d3d3 208px,#d4d4d4 216px,#d5d5d5 224px,#d7d7d7 232px,#d9d9d9 240px,#dbdbdb 248px,#dddddd 256px,#dfdfdf 264px,#e1e1e1 272px,#e4e4e4 280px,#e6e6e6 288px,#e8e8e8 296px,#eaeaea 304px,#ececec 312px,#eeeeee 320px,#f0f0f0 328px,#f2f2f2 336px,#f4f4f4 344px,#f5f5f5 352px,#f7f7f7 360px,#f8f8f8 368px,#f9f9f9 376px,#fafafa 384px,#fbfbfb 392px,#fcfcfc 400px,#fdfdfd 408px,#fdfdfd 416px,#fefefe 424px,#fefefe 432px,#ffffff 440px,#ffffff 448px,#ffffff 456px,#ffffff 464px,#fffcfa 472px,#fffaf5 480px,#fff8f1 488px)"></div>
<div style="top:198px;background:linear-gradient(90deg,#f9f9f9 0px,#f8f8f8 8px,#f6f6f6 16px,#f5f5f5 24px,#f3f3f3 32px,#f2f2f2 40px,#f0f0f0 48px,#efefef 56px,#ededed 64px,#ebebeb 72px,#e9e9e9 80px,#e7e7e7 88px,#e5e5e5 96px,#e3e3e3 104px,#e1e1e1 112px,#dfdfdf 120px,#dddddd 128px,#dcdcdc 136px,#dadada 144px,#d8d8d8 152px,#d6d6d6 160px,#d5d5d5 168px,#d4d4d4 176px,#d3d3d3 184px,#d2d2d2 192px,#d2d2d2 200px,#d2d2d2 208px,#d3d3d3 216px,#d5d5d5 224px,#d6d6d6 232px,#d8d8d8 240px,#dadada 248px,#dcdcdc 256px,#dedede 264px,#e0e0e0 272px,#e3e3e3 280px,#e5e5e5 288px,#e7e7e7 296px,#e9e9e9 304px,#ebebeb 312px,#ededed 320px,#efefef 328px,#f1f1f1 336px,#f3f3f3 344px,#f4f4f4 352px,#f6f6f6 360px,#f7f7f7 368px,#f9f9f9 376px,#fafafa 384px,#fbfbfb 392px,#fcfcfc 400px,#fcfcfc 408px,#fdfdfd 416px,#fefefe 424px,#fefefe 432px,#fefefe 440px,#ffffff 448px,#ffffff 456px,#ffffff 464px,#ffffff 472px,#fffcfa 480px,#fffaf5 488px)"></div>
<div style="top:201px;background:linear-gradient(90deg,#f8f8f8 0px,#f7f7f7 8px,#f6f6f6 16px,#f4f4f4 24px,#f3f3f3 32px,#f1f1f1 40px,#efefef 48px,#eeeeee 56px,#ececec 64px,#eaeaea 72px,#e8e8e8 80px,#e6e6e6 88px,#e4e4e4 96px,#e2e2e2 104px,#e1e1e1 112px,#dfdfdf 120px,#dddddd 128px,#dbdbdb 136px,#d9d9d9 144px,#d7d7d7 152px,#d6d6d6 160px,#d4d4d4 168px,#d3d3d3 176px,#d2d2d2 184px,#d1d1d1 192px,#d1d1d1 200px,#d2d2d2 208px,#d3d3d3 216px,#d4d4d4 224px,#d6d6d6 232px,#d7d7d7 240px,#d9d9d9 248px,#dbdbdb 256px,#dddddd 264px,#e0e0e0 272px,#e2e2e2 280px,#e4e4e4 288px,#e6e6e6 296px,#e8e8e8 304px,#eaeaea 312px,#ececec 320px,#eeeeee 328px,#f0f0f0 336px,#f2f2f2 344px,#f3f3f3 352px,#f5f5f5 360px,#f6f6f6 368px,#f8f8f8 376px,#f9f9f9 384px,#fafafa 392px,#fbfbfb 400px,#fcfcfc 408px,#fdfdfd 416px,#fdfdfd 424px,#fefefe 432px,#fefefe 440px,#fefefe 448px,#ffffff 456px,#ffffff 464px,#ffffff 472px,#ffffff 480px,#fffdfa 488px)"></div>
<div style="top:204px;background:linear-gradient(90deg,#f8f8f8 0px,#f6f6f6 8px,#f5f5f5 16px,#f4f4f4 24px,#f2f2f2 32px,#f0f0f0 40px,#efefef 48px,#ededed 56px,#ebebeb 64px,#e9e9e9 72px,#e7e7e7 80px,#e5e5e5 88px,#e4e4e4 96px,#e2e2e2 104px,#e0e0e0 112px,#dedede 120px,#dcdcdc 128px,#dadada 136px,#d8d8d8 144px,#d7d7d7 152px,#d5d5d5 160px,#d4d4d4 168px,#d2d2d2 176px,#d1d1d1 184px,#d1d1d1 192px,#d1d1d1 200px,#d1d1d1 208px,#d2d2d2 216px,#d3d3d3 224px,#d5d5d5 232px,#d7d7d7 240px,#d9d9d9 248px,#dbdbdb 256px,#dddddd 264px,#dfdfdf 272px,#e1e1e1 280px,#e3e3e3 288px,#e5e5e5 296px,#e7e7e7 304px,#e9e9e9 312px,#ebebeb 320px,#ededed 328px,#efefef 336px,#f1f1f1 344px,#f3f3f3 352px,#f4f4f4 360px,#f6f6f6 368px,#f7f7f7 376px,#f8f8f8 384px,#f9f9f9 392px,#fafafa 400px,#fbfbfb 408px,#fcfcfc 416px,#fdfdfd 424px,#fdfdfd 432px,#fefefe 440px,#fefefe 448px,#ffffff 456px,#ffffff 464px,#ffffff 472px,#ffffff 480px,#ffffff 488px)"></div>
<div style="top:207px;background:linear-gradient(90deg,#f7f7f7 0px,#f6f6f6 8px,#f4f4f4 16px,#f3f3f3 24px,#f1f1f1 32px,#f0f0f0 40px,#eeeeee 48px,#ececec 56px,#eaeaea 64px,#e8e8e8 72px,#e7e7e7 80px,#e5e5e5 88px,#e3e3e3 96px,#e1e1e1 104px,#dfdfdf 112px,#dddddd 120px,#dbdbdb 128px,#d9d9d9 136px,#d8d8d8 144px,#d6d6d6 152px,#d5d5d5 160px,#d3d3d3 168px,#d2d2d2 176px,#d1d1d1 184px,#d0d0d0 192px,#d0d0d0 200px,#d0d0d0 208px,#d1d1d1 216px,#d3d3d3 224px,#d4d4d4 232px,#d6d6d6 240px,#d8d8d8 248px,#dadada 256px,#dcdcdc 264px,#dedede 272px,#e0e0e0 280px,#e2e2e2 288px,#e4e4e4 296px,#e6e6e6 304px,#e8e8e8 312px,#eaeaea 320px,#ececec 328px,#eeeeee 336px,#f0f0f0 344px,#f2f2f2 352px,#f3f3f3 360px,#f5f5f5 368px,#f6f6f6 376px,#f7f7f7 384px,#f9f9f9 392px,#fafafa 400px,#fbfbfb 408px,#fcfcfc 416px,#fcfcfc 424px,#fdfdfd 432px,#fdfdfd 440px,#fefefe 448px,#fefefe 456px,#ffffff 464px,#ffffff 472px,#ffffff 480px,#ffffff 488px)"></div>
<div style="top:210px;background:linear-gradient(90deg,#f6f6f6 0px,#f5f5f5 8px,#f4f4f4 16px,#f2f2f2 24px,#f1f1f1 32px,#efefef 40px,#ededed 48px,#ebebeb 56px,#e9e9e9 64px,#e8e8e8 72px,#e6e6e6 80px,#e4e4e4 88px,#e2e2e2 96px,#e0e0e0 104px,#dedede 112px,#dcdcdc 120px,#dbdbdb 128px,#d9d9d9 136px,#d7d7d7 144px,#d5d5d5 152px,#d4d4d4 160px,#d3d3d3 168px,#d1d1d1 176px,#d0d0d0 184px,#d0d0d0 192px,#cfcfcf 200px,#d0d0d0 208px,#d1d1d1 216px,#d2d2d2 224px,#d4d4d4 232px,#d5d5d5 240px,#d7d7d7 248px,#d9d9d9 256px,#dbdbdb 264px,#dddddd 272px,#dfdfdf 280px,#e1e1e1 288px,#e3e3e3 296px,#e5e5e5 304px,#e7e7e7 312px,#e9e9e9 320px,#ebebeb 328px,#ededed 336px,#efefef 344px,#f1f1f1 352px,#f2f2f2 360px,#f4f4f4 368px,#f5f5f5 376px,#f7f7f7 384px,#f8f8f8 392px,#f9f9f9 400px,#fafafa 408px,#fbfbfb 416px,#fcfcfc 424px,#fcfcfc 432px,#fdfdfd 440px,#fefefe 448px,#fefefe 456px,#fefefe 464px,#ffffff 472px,#ffffff 480px,#ffffff 488px)"></div>
<div style="top:213px;background:linear-gradient(90deg,#f6f6f6 0px,#f4f4f4 8px,#f3f3f3 16px,#f1f1f1 24px,#f0f0f0 32px,#eeeeee 40px,#ececec 48px,#ebebeb 56px,#e9e9e9 64px,#e7e7e7 72px,#e5e5e5 80px,#e3e3e3 88px,#e1e1e1 96px,#dfdfdf 104px,#dddddd 112px,#dcdcdc 120px,#dadada 128px,#d8d8d8 136px,#d6d6d6 144px,#d5d5d5 152px,#d3d3d3 160px,#d2d2d2 168px,#d1d1d1 176px,#d0d0d0 184px,#cfcfcf 192px,#cfcfcf 200px,#cfcfcf 208px,#d0d0d0 216px,#d2d2d2 224px,#d3d3d3 232px,#d5d5d5 240px,#d6d6d6 248px,#d8d8d8 256px,#dadada 264px,#dcdcdc 272px,#dedede 280px,#e0e0e0 288px,#e2e2e2 296px,#e4e4e4 304px,#e6e6e6 312px,#e8e8e8 320px,#eaeaea 328px,#ececec 336px,#eeeeee 344px,#f0f0f0 352px,#f2f2f2 360px,#f3f3f3 368px,#f5f5f5 376px,#f6f6f6 384px,#f7f7f7 392px,#f8f8f8 400px,#f9f9f9 408px,#fafafa 416px,#fbfbfb 424px,#fcfcfc 432px,#fdfdfd 440px,#fdfdfd 448px,#fefefe 456px,#fefefe 464px,#fefefe 472px,#ffffff 480px,#ffffff 488px)"></div>
<div style="top:216px;background:linear-gradient(90deg,#f5f5f5 0px,#f4f4f4 8px,#f2f2f2 16px,#f1f1f1 24px,#efefef 32px,#ededed 40px,#ececec 48px,#eaeaea 56px,#e8e8e8 64px,#e6e6e6 72px,#e4e4e4 80px,#e2e2e2 88px,#e0e0e0 96px,#dedede 104px,#dddddd 112px,#dbdbdb 120px,#d9d9d9 128px,#d7d7d7 136px,#d6d6d6 144px,#d4d4d4 152px,#d3d3d3 160px,#d1d1d1 168px,#d0d0d0 176px,#cfcfcf 184px,#cfcfcf 192px,#cecece 200px,#cfcfcf 208px,#d0d0d0 216px,#d1d1d1 224px,#d2d2d2 232px,#d4d4d4 240px,#d6d6d6 248px,#d8d8d8 256px,#d9d9d9 264px,#dbdbdb 272px,#dddddd 280px,#dfdfdf 288px,#e1e1e1 296px,#e3e3e3 304px,#e6e6e6 312px,#e8e8e8 320px,#e9e9e9 328px,#ebebeb 336px,#ededed 344px,#efefef 352px,#f1f1f1 360px,#f2f2f2 368px,#f4f4f4 376px,#f5f5f5 384px,#f6f6f6 392px,#f8f8f8 400px,#f9f9f9 408px,#fafafa 416px,#fbfbfb 424px,#fbfbfb 432px,#fcfcfc 440px,#fdfdfd 448px,#fdfdfd 456px,#fefefe 464px,#fefefe 472px,#fefefe 480px,#ffffff 488px)"></div>
<div style="top:219px;background:linear-gradient(90deg,#f5f5f5 0px,#f3f3f3 8px,#f2f2f2 16px,#f0f0f0 24px,#eeeeee 32px,#ededed 40px,#ebebeb 48px,#e9e9e9 56px,#e7e7e7 64px,#e5e5e5 72px,#e3e3e3 80px,#e1e1e1 88px,#e0e0e0 96px,#dedede 104px,#dcdcdc 112px,#dadada 120px,#d8d8d8 128px,#d7d7d7 136px,#d5d5d5 144px,#d4d4d4 152px,#d2d2d2 160px,#d1d1d1 168px,#d0d0d0 176px,#cfcfcf 184px,#cecece 192px,#cecece 200px,#cecece 208px,#cfcfcf 216px,#d0d0d0 224px,#d2d2d2 232px,#d3d3d3 240px,#d5d5d5 248px,#d7d7d7 256px,#d9d9d9 264px,#dbdbdb 272px,#dddddd 280px,#dfdfdf 288px,#e1e1e1 296px,#e3e3e3 304px,#e5e5e5 312px,#e7e7e7 320px,#e9e9e9 328px,#eaeaea 336px,#ececec 344px,#eeeeee 352px,#f0f0f0 360px,#f1f1f1 368px,#f3f3f3 376px,#f4f4f4 384px,#f6f6f6 392px,#f7f7f7 400px,#f8f8f8 408px,#f9f9f9 416px,#fafafa 424px,#fbfbfb 432px,#fcfcfc 440px,#fcfcfc 448px,#fdfdfd 456px,#fdfdfd 464px,#fefefe 472px,#fefefe 480px,#fefefe 488px)"></div>
<div style="top:222px;background:linear-gradient(90deg,#f4f4f4 0px,#f3f3f3 8px,#f1f1f1 16px,#efefef 24px,#eeeeee 32px,#ececec 40px,#eaeaea 48px,#e8e8e8 56px,#e6e6e6 64px,#e5e5e5 72px,#e3e3e3 80px,#e1e1e1 88px,#dfdfdf 96px,#dddddd 104px,#dbdbdb 112px,#d9d9d9 120px,#d8d8d8 128px,#d6d6d6 136px,#d5d5d5 144px,#d3d3d3 152px,#d2d2d2 160px,#d0d0d0 168px,#cfcfcf 176px,#cecece 184px,#cecece 192px,#cdcdcd 200px,#cecece 208px,#cfcfcf 216px,#d0d0d0 224px,#d1d1d1 232px,#d3d3d3 240px,#d4d4d4 248px,#d6d6d6 256px,#d8d8d8 264px,#dadada 272px,#dcdcdc 280px,#dedede 288px,#e0e0e0 296px,#e2e2e2 304px,#e4e4e4 312px,#e6e6e6 320px,#e8e8e8 328px,#eaeaea 336px,#ebebeb 344px,#ededed 352px,#efefef 360px,#f1f1f1 368px,#f2f2f2 376px,#f4f4f4 384px,#f5f5f5 392px,#f6f6f6 400px,#f7f7f7 408px,#f8f8f8 416px,#f9f9f9 424px,#fafafa 432px,#fbfbfb 440px,#fcfcfc 448px,#fcfcfc 456px,#fdfdfd 464px,#fdfdfd 472px,#fefefe 480px,#fefefe 488px)"></div>
<div style="top:225px;background:linear-gradient(90deg,#f4f4f4 0px,#f2f2f2 8px,#f0f0f0 16px,#efefef 24px,#ededed 32px,#ebebeb 40px,#eaeaea 48px,#e8e8e8 56px,#e6e6e6 64px,#e4e4e4 72px,#e2e2e2 80px,#e0e0e0 88px,#dedede 96px,#dcdcdc 104px,#dadada 112px,#d9d9d9 120px,#d7d7d7 128px,#d5d5d5 136px,#d4d4d4 144px,#d3d3d3 152px,#d1d1d1 160px,#d0d0d0 168px,#cfcfcf 176px,#cecece 184px,#cdcdcd 192px,#cdcdcd 200px,#cdcdcd 208px,#cecece 216px,#cfcfcf 224px,#d1d1d1 232px,#d2d2d2 240px,#d4d4d4 248px,#d5d5d5 256px,#d7d7d7 264px,#d9d9d9 272px,#dbdbdb 280px,#dddddd 288px,#dfdfdf 296px,#e1e1e1 304px,#e3e3e3 312px,#e5e5e5 320px,#e7e7e7 328px,#e9e9e9 336px,#eaeaea 344px,#ececec 352px,#eeeeee 360px,#f0f0f0 368px,#f1f1f1 376px,#f3f3f3 384px,#f4f4f4 392px,#f5f5f5 400px,#f7f7f7 408px,#f8f8f8 416px,#f9f9f9 424px,#fafafa 432px,#fbfbfb 440px,#fbfbfb 448px,#fcfcfc 456px,#fdfdfd 464px,#fdfdfd 472px,#fefefe 480px,#fefefe 488px)"></div>
<div style="top:228px;background:linear-gradient(90deg,#f3f3f3 0px,#f2f2f2 8px,#f0f0f0 16px,#eeeeee 24px,#ededed 32px,#ebebeb 40px,#e9e9e9 48px,#e7e7e7 56px,#e5e5e5 64px,#e3e3e3 72px,#e1e1e1 80px,#dfdfdf 88px,#dddddd 96px,#dcdcdc 104px,#dadada 112px,#d8d8d8 120px,#d6d6d6 128px,#d5d5d5 136px,#d3d3d3 144px,#d2d2d2 152px,#d1d1d1 160px,#cfcfcf 168px,#cecece 176px,#cdcdcd 184px,#cdcdcd 192px,#cdcdcd 200px,#cdcdcd 208px,#cecece 216px,#cfcfcf 224px,#d0d0d0 232px,#d2d2d2 240px,#d3d3d3 248px,#d5d5d5 256px,#d6d6d6 264px,#d8d8d8 272px,#dadada 280px,#dcdcdc 288px,#dedede 296px,#e0e0e0 304px,#e2e2e2 312px,#e4e4e4 320px,#e6e6e6 328px,#e8e8e8 336px,#eaeaea 344px,#ebebeb 352px,#ededed 360px,#efefef 368px,#f0f0f0 376px,#f2f2f2 384px,#f3f3f3 392px,#f5f5f5 400px,#f6f6f6 408px,#f7f7f7 416px,#f8f8f8 424px,#f9f9f9 432px,#fafafa 440px,#fbfbfb 448px,#fcfcfc 456px,#fcfcfc 464px,#fdfdfd 472px,#fdfdfd 480px,#fefefe 488px)"></div>
<div style="top:231px;background:linear-gradient(90deg,#f3f3f3 0px,#f1f1f1 8px,#efefef 16px,#eeeeee 24px,#ececec 32px,#eaeaea 40px,#e8e8e8 48px,#e6e6e6 56px,#e5e5e5 64px,#e3e3e3 72px,#e1e1e1 80px,#dfdfdf 88px,#dddddd 96px,#dbdbdb 104px,#d9d9d9 112px,#d7d7d7 120px,#d6d6d6 128px,#d4d4d4 136px,#d3d3d3 144px,#d1d1d1 152px,#d0d0d0 160px,#cfcfcf 168px,#cecece 176px,#cdcdcd 184px,#cccccc 192px,#cccccc 200px,#cdcdcd 208px,#cdcdcd 216px,#cecece 224px,#d0d0d0 232px,#d1d1d1 240px,#d2d2d2 248px,#d4d4d4 256px,#d6d6d6 264px,#d7d7d7 272px,#d9d9d9 280px,#dbdbdb 288px,#dddddd 296px,#dfdfdf 304px,#e1e1e1 312px,#e3e3e3 320px,#e5e5e5 328px,#e7e7e7 336px,#e9e9e9 344px,#ebebeb 352px,#ececec 360px,#eeeeee 368px,#f0f0f0 376px,#f1f1f1 384px,#f3f3f3 392px,#f4f4f4 400px,#f5f5f5 408px,#f7f7f7 416px,#f8f8f8 424px,#f9f9f9 432px,#fafafa 440px,#fafafa 448px,#fbfbfb 456px,#fcfcfc 464px,#fcfcfc 472px,#fdfdfd 480px,#fdfdfd 488px)"></div>
<div style="top:234px;background:linear-gradient(90deg,#f2f2f2 0px,#f1f1f1 8px,#efefef 16px,#ededed 24px,#ececec 32px,#eaeaea 40px,#e8e8e8 48px,#e6e6e6 56px,#e4e4e4 64px,#e2e2e2 72px,#e0e0e0 80px,#dedede 88px,#dcdcdc 96px,#dadada 104px,#d9d9d9 112px,#d7d7d7 120px,#d5d5d5 128px,#d4d4d4 136px,#d2d2d2 144px,#d1d1d1 152px,#d0d0d0 160px,#cfcfcf 168px,#cecece 176px,#cdcdcd 184px,#cccccc 192px,#cccccc 200px,#cccccc 208px,#cdcdcd 216px,#cecece 224px,#cfcfcf 232px,#d0d0d0 240px,#d2d2d2 248px,#d3d3d3 256px,#d5d5d5 264px,#d7d7d7 272px,#d9d9d9 280px,#dadada 288px,#dcdcdc 296px,#dedede 304px,#e0e0e0 312px,#e2e2e2 320px,#e4e4e4 328px,#e6e6e6 336px,#e8e8e8 344px,#eaeaea 352px,#ececec 360px,#ededed 368px,#efefef 376px,#f1f1f1 384px,#f2f2f2 392px,#f3f3f3 400px,#f5f5f5 408px,#f6f6f6 416px,#f7f7f7 424px,#f8f8f8 432px,#f9f9f9 440px,#fafafa 448px,#fbfbfb 456px,#fcfcfc 464px,#fcfcfc 472px,#fdfdfd 480px,#fdfdfd 488px)"></div>
<div style="top:237px;background:linear-gradient(90deg,#f2f2f2 0px,#f0f0f0 8px,#efefef 16px,#ededed 24px,#ebebeb 32px,#e9e9e9 40px,#e7e7e7 48px,#e5e5e5 56px,#e3e3e3 64px,#e2e2e2 72px,#e0e0e0 80px,#dedede 88px,#dcdcdc 96px,#dadada 104px,#d8d8d8 112px,#d6d6d6 120px,#d5d5d5 128px,#d3d3d3 136px,#d2d2d2 144px,#d0d0d0 152px,#cfcfcf 160px,#cecece 168px,#cdcdcd 176px,#cccccc 184px,#cccccc 192px,#cccccc 200px,#cccccc 208px,#cdcdcd 216px,#cecece 224px,#cfcfcf 232px,#d0d0d0 240px,#d1d1d1 248px,#d3d3d3 256px,#d4d4d4 264px,#d6d6d6 272px,#d8d8d8 280px,#dadada 288px,#dcdcdc 296px,#dddddd 304px,#dfdfdf 312px,#e1e1e1 320px,#e3e3e3 328px,#e5e5e5 336px,#e7e7e7 344px,#e9e9e9 352px,#ebebeb 360px,#ededed 368px,#eeeeee 376px,#f0f0f0 384px,#f1f1f1 392px,#f3f3f3 400px,#f4f4f4 408px,#f5f5f5 416px,#f7f7f7 424px,#f8f8f8 432px,#f9f9f9 440px,#fafafa 448px,#fafafa 456px,#fbfbfb 464px,#fcfcfc 472px,#fcfcfc 480px,#fdfdfd 488px)"></div>
<div style="top:240px;background:linear-gradient(90deg,#f1f1f1 0px,#f0f0f0 8px,#eeeeee 16px,#ededed 24px,#ebebeb 32px,#e9e9e9 40px,#e7e7e7 48px,#e5e5e5 56px,#e3e3e3 64px,#e1e1e1 72px,#dfdfdf 80px,#dddddd 88px,#dbdbdb 96px,#d9d9d9 104px,#d7d7d7 112px,#d6d6d6 120px,#d4d4d4 128px,#d3d3d3 136px,#d1d1d1 144px,#d0d0d0 152px,#cfcfcf 160px,#cecece 168px,#cdcdcd 176px,#cccccc 184px,#cccccc 192px,#cbcbcb 200px,#cccccc 208px,#cccccc 216px,#cdcdcd 224px,#cecece 232px,#cfcfcf 240px,#d1d1d1 248px,#d2d2d2 256px,#d4d4d4 264px,#d5d5d5 272px,#d7d7d7 280px,#d9d9d9 288px,#dbdbdb 296px,#dddddd 304px,#dfdfdf 312px,#e1e1e1 320px,#e3e3e3 328px,#e4e4e4 336px,#e6e6e6 344px,#e8e8e8 352px,#eaeaea 360px,#ececec 368px,#eeeeee 376px,#efefef 384px,#f1f1f1 392px,#f2f2f2 400px,#f4f4f4 408px,#f5f5f5 416px,#f6f6f6 424px,#f7f7f7 432px,#f8f8f8 440px,#f9f9f9 448px,#fafafa 456px,#fbfbfb 464px,#fcfcfc 472px,#fcfcfc 480px,#fdfdfd 488px)"></div>
<div style="top:243px;background:linear-gradient(90deg,#f1f1f1 0px,#f0f0f0 8px,#eeeeee 16px,#ececec 24px,#eaeaea 32px,#e9e9e9 40px,#e7e7e7 48px,#e5e5e5 56px,#e3e3e3 64px,#e1e1e1 72px,#dfdfdf 80px,#dddddd 88px,#dbdbdb 96px,#d9d9d9 104px,#d7d7d7 112px,#d5d5d5 120px,#d4d4d4 128px,#d2d2d2 136px,#d1d1d1 144px,#d0d0d0 152px,#cecece 160px,#cdcdcd 168px,#cdcdcd 176px,#cccccc 184px,#cbcbcb 192px,#cbcbcb 200px,#cbcbcb 208px,#cccccc 216px,#cdcdcd 224px,#cecece 232px,#cfcfcf 240px,#d0d0d0 248px,#d2d2d2 256px,#d3d3d3 264px,#d5d5d5 272px,#d6d6d6 280px,#d8d8d8 288px,#dadada 296px,#dcdcdc 304px,#dedede 312px,#e0e0e0 320px,#e2e2e2 328px,#e4e4e4 336px,#e6e6e6 344px,#e8e8e8 352px,#e9e9e9 360px,#ebebeb 368px,#ededed 376px,#efefef 384px,#f0f0f0 392px,#f2f2f2 400px,#f3f3f3 408px,#f4f4f4 416px,#f6f6f6 424px,#f7f7f7 432px,#f8f8f8 440px,#f9f9f9 448px,#fafafa 456px,#fafafa 464px,#fbfbfb 472px,#fcfcfc 480px,#fcfcfc 488px)"></div>
<div style="top:246px;background:linear-gradient(90deg,#f1f1f1 0px,#efefef 8px,#eeeeee 16px,#ececec 24px,#eaeaea 32px,#e8e8e8 40px,#e6e6e6 48px,#e4e4e4 56px,#e2e2e2 64px,#e0e0e0 72px,#dedede 80px,#dcdcdc 88px,#dadada 96px,#d9d9d9 104px,#d7d7d7 112px,#d5d5d5 120px,#d3d3d3 128px,#d2d2d2 136px,#d0d0d0 144px,#cfcfcf 152px,#cecece 160px,#cdcdcd 168px,#cccccc 176px,#cccccc 184px,#cbcbcb 192px,#cbcbcb 200px,#cbcbcb 208px,#cccccc 216px,#cccccc 224px,#cdcdcd 232px,#cecece 240px,#d0d0d0 248px,#d1d1d1 256px,#d2d2d2 264px,#d4d4d4 272px,#d6d6d6 280px,#d8d8d8 288px,#d9d9d9 296px,#dbdbdb 304px,#dddddd 312px,#dfdfdf 320px,#e1e1e1 328px,#e3e3e3 336px,#e5e5e5 344px,#e7e7e7 352px,#e9e9e9 360px,#ebebeb 368px,#ececec 376px,#eeeeee 384px,#f0f0f0 392px,#f1f1f1 400px,#f2f2f2 408px,#f4f4f4 416px,#f5f5f5 424px,#f6f6f6 432px,#f7f7f7 440px,#f8f8f8 448px,#f9f9f9 456px,#fafafa 464px,#fbfbfb 472px,#fcfcfc 480px,#fcfcfc 488px)"></div>
<div style="top:249px;background:linear-gradient(90deg,#f1f1f1 0px,#efefef 8px,#eeeeee 16px,#ececec 24px,#eaeaea 32px,#e8e8e8 40px,#e6e6e6 48px,#e4e4e4 56px,#e2e2e2 64px,#e0e0e0 72px,#dedede 80px,#dcdcdc 88px,#dadada 96px,#d8d8d8 104px,#d6d6d6 112px,#d5d5d5 120px,#d3d3d3 128px,#d1d1d1 136px,#d0d0d0 144px,#cfcfcf 152px,#cecece 160px,#cdcdcd 168px,#cccccc 176px,#cbcbcb 184px,#cbcbcb 192px,#cbcbcb 200px,#cbcbcb 208px,#cbcbcb 216px,#cccccc 224px,#cdcdcd 232px,#cecece 240px,#cfcfcf 248px,#d0d0d0 256px,#d2d2d2 264px,#d4d4d4 272px,#d5d5d5 280px,#d7d7d7 288px,#d9d9d9 296px,#dbdbdb 304px,#dddddd 312px,#dfdfdf 320px,#e0e0e0 328px,#e2e2e2 336px,#e4e4e4 344px,#e6e6e6 352px,#e8e8e8 360px,#eaeaea 368px,#ececec 376px,#ededed 384px,#efefef 392px,#f1f1f1 400px,#f2f2f2 408px,#f3f3f3 416px,#f5f5f5 424px,#f6f6f6 432px,#f7f7f7 440px,#f8f8f8 448px,#f9f9f9 456px,#fafafa 464px,#fbfbfb 472px,#fbfbfb 480px,#fcfcfc 488px)"></div>
<div style="top:252px;background:linear-gradient(90deg,#f1f1f1 0px,#efefef 8px,#eeeeee 16px,#ececec 24px,#eaeaea 32px,#e8e8e8 40px,#e6e6e6 48px,#e4e4e4 56px,#e2e2e2 64px,#e0e0e0 72px,#dedede 80px,#dcdcdc 88px,#dadada 96px,#d8d8d8 104px,#d6d6d6 112px,#d4d4d4 120px,#d3d3d3 128px,#d1d1d1 136px,#d0d0d0 144px,#cecece 152px,#cdcdcd 160px,#cccccc 168px,#cccccc 176px,#cbcbcb 184px,#cbcbcb 192px,#cacaca 200px,#cbcbcb 208px,#cbcbcb 216px,#cccccc 224px,#cdcdcd 232px,#cecece 240px,#cfcfcf 248px,#d0d0d0 256px,#d1d1d1 264px,#d3d3d3 272px,#d5d5d5 280px,#d6d6d6 288px,#d8d8d8 296px,#dadada 304px,#dcdcdc 312px,#dedede 320px,#e0e0e0 328px,#e2e2e2 336px,#e4e4e4 344px,#e6e6e6 352px,#e8e8e8 360px,#e9e9e9 368px,#ebebeb 376px,#ededed 384px,#efefef 392px,#f0f0f0 400px,#f2f2f2 408px,#f3f3f3 416px,#f4f4f4 424px,#f6f6f6 432px,#f7f7f7 440px,#f8f8f8 448px,#f9f9f9 456px,#fafafa 464px,#fafafa 472px,#fbfbfb 480px,#fcfcfc 488px)"></div>
<div style="top:255px;background:linear-gradient(90deg,#f1f1f1 0px,#efefef 8px,#eeeeee 16px,#ececec 24px,#eaeaea 32px,#e8e8e8 40px,#e6e6e6 48px,#e4e4e4 56px,#e2e2e2 64px,#e0e0e0 72px,#dedede 80px,#dcdcdc 88px,#dadada 96px,#d8d8d8 104px,#d6d6d6 112px,#d4d4d4 120px,#d3d3d3 128px,#d1d1d1 136px,#d0d0d0 144px,#cecece 152px,#cdcdcd 160px,#cccccc 168px,#cbcbcb 176px,#cbcbcb 184px,#cbcbcb 192px,#cacaca 200px,#cbcbcb 208px,#cbcbcb 216px,#cccccc 224px,#cccccc 232px,#cdcdcd 240px,#cecece 248px,#d0d0d0 256px,#d1d1d1 264px,#d3d3d3 272px,#d4d4d4 280px,#d6d6d6 288px,#d8d8d8 296px,#dadada 304px,#dcdcdc 312px,#dddddd 320px,#dfdfdf 328px,#e1e1e1 336px,#e3e3e3 344px,#e5e5e5 352px,#e7e7e7 360px,#e9e9e9 368px,#ebebeb 376px,#ededed 384px,#eeeeee 392px,#f0f0f0 400px,#f1f1f1 408px,#f3f3f3 416px,#f4f4f4 424px,#f5f5f5 432px,#f6f6f6 440px,#f8f8f8 448px,#f9f9f9 456px,#f9f9f9 464px,#fafafa 472px,#fbfbfb 480px,#fcfcfc 488px)"></div>
<div style="top:258px;background:linear-gradient(90deg,#f1f1f1 0px,#efefef 8px,#eeeeee 16px,#ececec 24px,#eaeaea 32px,#e8e8e8 40px,#e6e6e6 48px,#e4e4e4 56px,#e2e2e2 64px,#e0e0e0 72px,#dedede 80px,#dcdcdc 88px,#dadada 96px,#d8d8d8 104px,#d6d6d6 112px,#d4d4d4 120px,#d2d2d2 128px,#d1d1d1 136px,#cfcfcf 144px,#cecece 152px,#cdcdcd 160px,#cccccc 168px,#cbcbcb 176px,#cbcbcb 184px,#cacaca 192px,#cacaca 200px,#cacaca 208px,#cbcbcb 216px,#cbcbcb 224px,#cccccc 232px,#cdcdcd 240px,#cecece 248px,#cfcfcf 256px,#d1d1d1 264px,#d2d2d2 272px,#d4d4d4 280px,#d5d5d5 288px,#d7d7d7 296px,#d9d9d9 304px,#dbdbdb 312px,#dddddd 320px,#dfdfdf 328px,#e1e1e1 336px,#e3e3e3 344px,#e5e5e5 352px,#e7e7e7 360px,#e9e9e9 368px,#eaeaea 376px,#ececec 384px,#eeeeee 392px,#efefef 400px,#f1f1f1 408px,#f2f2f2 416px,#f4f4f4 424px,#f5f5f5 432px,#f6f6f6 440px,#f7f7f7 448px,#f8f8f8 456px,#f9f9f9 464px,#fafafa 472px,#fbfbfb 480px,#fcfcfc 488px)"></div>
<div style="top:261px;background:linear-gradient(90deg,#f1f1f1 0px,#efefef 8px,#eeeeee 16px,#ececec 24px,#eaeaea 32px,#e8e8e8 40px,#e6e6e6 48px,#e4e4e4 56px,#e2e2e2 64px,#e0e0e0 72px,#dedede 80px,#dcdcdc 88px,#dadada 96px,#d8d8d8 104px,#d6d6d6 112px,#d4d4d4 120px,#d2d2d2 128px,#d1d1d1 136px,#cfcfcf 144px,#cecece 152px,#cdcdcd 160px,#cccccc 168px,#cbcbcb 176px,#cbcbcb 184px,#cacaca 192px,#cacaca 200px,#cacaca 208px,#cbcbcb 216px,#cbcbcb 224px,#cccccc 232px,#cdcdcd 240px,#cecece 248px,#cfcfcf 256px,#d0d0d0 264px,#d2d2d2 272px,#d3d3d3 280px,#d5d5d5 288px,#d7d7d7 296px,#d9d9d9 304px,#dbdbdb 312px,#dddddd 320px,#dfdfdf 328px,#e1e1e1 336px,#e3e3e3 344px,#e5e5e5 352px,#e6e6e6 360px,#e8e8e8 368px,#eaeaea 376px,#ececec 384px,#eeeeee 392px,#efefef 400px,#f1f1f1 408px,#f2f2f2 416px,#f4f4f4 424px,#f5f5f5 432px,#f6f6f6 440px,#f7f7f7 448px,#f8f8f8 456px,#f9f9f9 464px,#fafafa 472px,#fbfbfb 480px,#fcfcfc 488px)"></div>
<div style="top:264px;background:linear-gradient(90deg,#f1f1f1 0px,#f0f0f0 8px,#eeeeee 16px,#ececec 24px,#eaeaea 32px,#e9e9e9 40px,#e7e7e7 48px,#e5e5e5 56px,#e2e2e2 64px,#e0e0e0 72px,#dedede 80px,#dcdcdc 88px,#dadada 96px,#d8d8d8 104px,#d6d6d6 112px,#d4d4d4 120px,#d3d3d3 128px,#d1d1d1 136px,#cfcfcf 144px,#cecece 152px,#cdcdcd 160px,#cccccc 168px,#cbcbcb 176px,#cbcbcb 184px,#cacaca 192px,#cacaca 200px,#cacaca 208px,#cacaca 216px,#cbcbcb 224px,#cccccc 232px,#cccccc 240px,#cecece 248px,#cfcfcf 256px,#d0d0d0 264px,#d2d2d2 272px,#d3d3d3 280px,#d5d5d5 288px,#d7d7d7 296px,#d9d9d9 304px,#dadada 312px,#dcdcdc 320px,#dedede 328px,#e0e0e0 336px,#e2e2e2 344px,#e4e4e4 352px,#e6e6e6 360px,#e8e8e8 368px,#eaeaea 376px,#ececec 384px,#ededed 392px,#efefef 400px,#f1f1f1 408px,#f2f2f2 416px,#f3f3f3 424px,#f5f5f5 432px,#f6f6f6 440px,#f7f7f7 448px,#f8f8f8 456px,#f9f9f9 464px,#fafafa 472px,#fbfbfb 480px,#fbfbfb 488px)"></div>
<div style="top:267px;background:linear-gradient(90deg,#f2f2f2 0px,#f0f0f0 8px,#eeeeee 16px,#ededed 24px,#ebebeb 32px,#e9e9e9 40px,#e7e7e7 48px,#e5e5e5 56px,#e3e3e3 64px,#e1e1e1 72px,#dfdfdf 80px,#dddddd 88px,#dbdbdb 96px,#d8d8d8 104px,#d7d7d7 112px,#d5d5d5 120px,#d3d3d3 128px,#d1d1d1 136px,#d0d0d0 144px,#cecece 152px,#cdcdcd 160px,#cccccc 168px,#cbcbcb 176px,#cbcbcb 184px,#cacaca 192px,#cacaca 200px,#cacaca 208px,#cacaca 216px,#cbcbcb 224px,#cccccc 232px,#cccccc 240px,#cdcdcd 248px,#cfcfcf 256px,#d0d0d0 264px,#d1d1d1 272px,#d3d3d3 280px,#d5d5d5 288px,#d7d7d7 296px,#d8d8d8 304px,#dadada 312px,#dcdcdc 320px,#dedede 328px,#e0e0e0 336px,#e2e2e2 344px,#e4e4e4 352px,#e6e6e6 360px,#e8e8e8 368px,#eaeaea 376px,#ececec 384px,#ededed 392px,#efefef 400px,#f0f0f0 408px,#f2f2f2 416px,#f3f3f3 424px,#f5f5f5 432px,#f6f6f6 440px,#f7f7f7 448px,#f8f8f8 456px,#f9f9f9 464px,#fafafa 472px,#fbfbfb 480px,#fbfbfb 488px)"></div>
<div style="top:270px;background:linear-gradient(90deg,#f2f2f2 0px,#f0f0f0 8px,#efefef 16px,#ededed 24px,#ebebeb 32px,#e9e9e9 40px,#e7e7e7 48px,#e5e5e5 56px,#e3e3e3 64px,#e1e1e1 72px,#dfdfdf 80px,#dddddd 88px,#dbdbdb 96px,#d9d9d9 104px,#d7d7d7 112px,#d5d5d5 120px,#d3d3d3 128px,#d1d1d1 136px,#d0d0d0 144px,#cfcfcf 152px,#cdcdcd 160px,#cccccc 168px,#cbcbcb 176px,#cbcbcb 184px,#cacaca 192px,#cacaca 200px,#cacaca 208px,#cacaca 216px,#cbcbcb 224px,#cccccc 232px,#cccccc 240px,#cdcdcd 248px,#cfcfcf 256px,#d0d0d0 264px,#d1d1d1 272px,#d3d3d3 280px,#d5d5d5 288px,#d6d6d6 296px,#d8d8d8 304px,#dadada 312px,#dcdcdc 320px,#dedede 328px,#e0e0e0 336px,#e2e2e2 344px,#e4e4e4 352px,#e6e6e6 360px,#e8e8e8 368px,#eaeaea 376px,#ebebeb 384px,#ededed 392px,#efefef 400px,#f0f0f0 408px,#f2f2f2 416px,#f3f3f3 424px,#f5f5f5 432px,#f6f6f6 440px,#f7f7f7 448px,#f8f8f8 456px,#f9f9f9 464px,#fafafa 472px,#fbfbfb 480px,#fbfbfb 488px)"></div>
<div style="top:273px;background:linear-gradient(90deg,#f2f2f2 0px,#f1f1f1 8px,#efefef 16px,#ededed 24px,#ececec 32px,#eaeaea 40px,#e8e8e8 48px,#e6e6e6 56px,#e4e4e4 64px,#e2e2e2 72px,#e0e0e0 80px,#dddddd 88px,#dbdbdb 96px,#d9d9d9 104px,#d7d7d7 112px,#d5d5d5 120px,#d4d4d4 128px,#d2d2d2 136px,#d0d0d0 144px,#cfcfcf 152px,#cecece 160px,#cdcdcd 168px,#cccccc 176px,#cbcbcb 184px,#cacaca 192px,#cacaca 200px,#cacaca 208px,#cbcbcb 216px,#cbcbcb 224px,#cccccc 232px,#cccccc 240px,#cdcdcd 248px,#cfcfcf 256px,#d0d0d0 264px,#d1d1d1 272px,#d3d3d3 280px,#d5d5d5 288px,#d6d6d6 296px,#d8d8d8 304px,#dadada 312px,#dcdcdc 320px,#dedede 328px,#e0e0e0 336px,#e2e2e2 344px,#e4e4e4 352px,#e6e6e6 360px,#e8e8e8 368px,#eaeaea 376px,#ebebeb 384px,#ededed 392px,#efefef 400px,#f0f0f0 408px,#f2f2f2 416px,#f3f3f3 424px,#f5f5f5 432px,#f6f6f6 440px,#f7f7f7 448px,#f8f8f8 456px,#f9f9f9 464px,#fafafa 472px,#fbfbfb 480px,#fcfcfc 488px)"></div>
<div style="top:276px;background:linear-gradient(90deg,#f3f3f3 0px,#f1f1f1 8px,#f0f0f0 16px,#eeeeee 24px,#ececec 32px,#eaeaea 40px,#e8e8e8 48px,#e6e6e6 56px,#e4e4e4 64px,#e2e2e2 72px,#e0e0e0 80px,#dedede 88px,#dcdcdc 96px,#dadada 104px,#d8d8d8 112px,#d6d6d6 120px,#d4d4d4 128px,#d2d2d2 136px,#d1d1d1 144px,#cfcfcf 152px,#cecece 160px,#cdcdcd 168px,#cccccc 176px,#cbcbcb 184px,#cbcbcb 192px,#cacaca 200px,#cacaca 208px,#cbcbcb 216px,#cbcbcb 224px,#cccccc 232px,#cdcdcd 240px,#cecece 248px,#cfcfcf 256px,#d0d0d0 264px,#d2d2d2 272px,#d3d3d3 280px,#d5d5d5 288px,#d7d7d7 296px,#d8d8d8 304px,#dadada 312px,#dcdcdc 320px,#dedede 328px,#e0e0e0 336px,#e2e2e2 344px,#e4e4e4 352px,#e6e6e6 360px,#e8e8e8 368px,#eaeaea 376px,#ececec 384px,#ededed 392px,#efefef 400px,#f0f0f0 408px,#f2f2f2 416px,#f3f3f3 424px,#f5f5f5 432px,#f6f6f6 440px,#f7f7f7 448px,#f8f8f8 456px,#f9f9f9 464px,#fafafa 472px,#fbfbfb 480px,#fcfcfc 488px)"></div>
<div style="top:279px;background:linear-gradient(90deg,#f3f3f3 0px,#f2f2f2 8px,#f0f0f0 16px,#eeeeee 24px,#ededed 32px,#ebebeb 40px,#e9e9e9 48px,#e7e7e7 56px,#e5e5e5 64px,#e3e3e3 72px,#e1e1e1 80px,#dfdfdf 88px,#dddddd 96px,#dbdbdb 104px,#d8d8d8 112px,#d7d7d7 120px,#d5d5d5 128px,#d3d3d3 136px,#d1d1d1 144px,#d0d0d0 152px,#cecece 160px,#cdcdcd 168px,#cccccc 176px,#cbcbcb 184px,#cbcbcb 192px,#cacaca 200px,#cbcbcb 208px,#cbcbcb 216px,#cbcbcb 224px,#cccccc 232px,#cdcdcd 240px,#cecece 248px,#cfcfcf 256px,#d0d0d0 264px,#d2d2d2 272px,#d3d3d3 280px,#d5d5d5 288px,#d7d7d7 296px,#d9d9d9 304px,#dadada 312px,#dcdcdc 320px,#dedede 328px,#e0e0e0 336px,#e2e2e2 344px,#e4e4e4 352px,#e6e6e6 360px,#e8e8e8 368px,#eaeaea 376px,#ececec 384px,#ededed 392px,#efefef 400px,#f1f1f1 408px,#f2f2f2 416px,#f4f4f4 424px,#f5f5f5 432px,#f6f6f6 440px,#f7f7f7 448px,#f8f8f8 456px,#f9f9f9 464px,#fafafa 472px,#fbfbfb 480px,#fcfcfc 488px)"></div>
<div style="top:282px;background:linear-gradient(90deg,#f4f4f4 0px,#f2f2f2 8px,#f1f1f1 16px,#efefef 24px,#ededed 32px,#ececec 40px,#eaeaea 48px,#e8e8e8 56px,#e6e6e6 64px,#e4e4e4 72px,#e1e1e1 80px,#dfdfdf 88px,#dddddd 96px,#dbdbdb 104px,#d9d9d9 112px,#d7d7d7 120px,#d5d5d5 128px,#d3d3d3 136px,#d2d2d2 144px,#d0d0d0 152px,#cfcfcf 160px,#cecece 168px,#cdcdcd 176px,#cccccc 184px,#cbcbcb 192px,#cbcbcb 200px,#cbcbcb 208px,#cbcbcb 216px,#cccccc 224px,#cccccc 232px,#cdcdcd 240px,#cecece 248px,#cfcfcf 256px,#d1d1d1 264px,#d2d2d2 272px,#d4d4d4 280px,#d5d5d5 288px,#d7d7d7 296px,#d9d9d9 304px,#dbdbdb 312px,#dddddd 320px,#dfdfdf 328px,#e1e1e1 336px,#e3e3e3 344px,#e5e5e5 352px,#e6e6e6 360px,#e8e8e8 368px,#eaeaea 376px,#ececec 384px,#eeeeee 392px,#efefef 400px,#f1f1f1 408px,#f2f2f2 416px,#f4f4f4 424px,#f5f5f5 432px,#f6f6f6 440px,#f7f7f7 448px,#f8f8f8 456px,#f9f9f9 464px,#fafafa 472px,#fbfbfb 480px,#fcfcfc 488px)"></div>
<div style="top:285px;background:linear-gradient(90deg,#f4f4f4 0px,#f3f3f3 8px,#f1f1f1 16px,#f0f0f0 24px,#eeeeee 32px,#ececec 40px,#eaeaea 48px,#e8e8e8 56px,#e6e6e6 64px,#e4e4e4 72px,#e2e2e2 80px,#e0e0e0 88px,#dedede 96px,#dcdcdc 104px,#dadada 112px,#d8d8d8 120px,#d6d6d6 128px,#d4d4d4 136px,#d2d2d2 144px,#d1d1d1 152px,#cfcfcf 160px,#cecece 168px,#cdcdcd 176px,#cccccc 184px,#cbcbcb 192px,#cbcbcb 200px,#cbcbcb 208px,#cbcbcb 216px,#cccccc 224px,#cdcdcd 232px,#cecece 240px,#cfcfcf 248px,#d0d0d0 256px,#d1d1d1 264px,#d2d2d2 272px,#d4d4d4 280px,#d6d6d6 288px,#d7d7d7 296px,#d9d9d9 304px,#dbdbdb 312px,#dddddd 320px,#dfdfdf 328px,#e1e1e1 336px,#e3e3e3 344px,#e5e5e5 352px,#e7e7e7 360px,#e9e9e9 368px,#eaeaea 376px,#ececec 384px,#eeeeee 392px,#f0f0f0 400px,#f1f1f1 408px,#f3f3f3 416px,#f4f4f4 424px,#f5f5f5 432px,#f7f7f7 440px,#f8f8f8 448px,#f9f9f9 456px,#fafafa 464px,#fbfbfb 472px,#fbfbfb 480px,#fcfcfc 488px)"></div>
<div style="top:288px;background:linear-gradient(90deg,#f5f5f5 0px,#f4f4f4 8px,#f2f2f2 16px,#f1f1f1 24px,#efefef 32px,#ededed 40px,#ebebeb 48px,#e9e9e9 56px,#e7e7e7 64px,#e5e5e5 72px,#e3e3e3 80px,#e1e1e1 88px,#dfdfdf 96px,#dddddd 104px,#dbdbdb 112px,#d9d9d9 120px,#d7d7d7 128px,#d5d5d5 136px,#d3d3d3 144px,#d1d1d1 152px,#d0d0d0 160px,#cfcfcf 168px,#cdcdcd 176px,#cccccc 184px,#cccccc 192px,#cbcbcb 200px,#cbcbcb 208px,#cccccc 216px,#cccccc 224px,#cdcdcd 232px,#cecece 240px,#cfcfcf 248px,#d0d0d0 256px,#d1d1d1 264px,#d3d3d3 272px,#d4d4d4 280px,#d6d6d6 288px,#d8d8d8 296px,#dadada 304px,#dcdcdc 312px,#dddddd 320px,#dfdfdf 328px,#e1e1e1 336px,#e3e3e3 344px,#e5e5e5 352px,#e7e7e7 360px,#e9e9e9 368px,#ebebeb 376px,#ededed 384px,#eeeeee 392px,#f0f0f0 400px,#f1f1f1 408px,#f3f3f3 416px,#f4f4f4 424px,#f6f6f6 432px,#f7f7f7 440px,#f8f8f8 448px,#f9f9f9 456px,#fafafa 464px,#fbfbfb 472px,#fbfbfb 480px,#fcfcfc 488px)"></div>
<div style="top:291px;background:linear-gradient(90deg,#f6f6f6 0px,#f4f4f4 8px,#f3f3f3 16px,#f1f1f1 24px,#f0f0f0 32px,#eeeeee 40px,#ececec 48px,#eaeaea 56px,#e8e8e8 64px,#e6e6e6 72px,#e4e4e4 80px,#e2e2e2 88px,#e0e0e0 96px,#dedede 104px,#dbdbdb 112px,#d9d9d9 120px,#d7d7d7 128px,#d6d6d6 136px,#d4d4d4 144px,#d2d2d2 152px,#d1d1d1 160px,#cfcfcf 168px,#cecece 176px,#cdcdcd 184px,#cccccc 192px,#cbcbcb 200px,#cbcbcb 208px,#cccccc 216px,#cdcdcd 224px,#cdcdcd 232px,#cecece 240px,#cfcfcf 248px,#d1d1d1 256px,#d2d2d2 264px,#d3d3d3 272px,#d5d5d5 280px,#d7d7d7 288px,#d8d8d8 296px,#dadada 304px,#dcdcdc 312px,#dedede 320px,#e0e0e0 328px,#e2e2e2 336px,#e4e4e4 344px,#e6e6e6 352px,#e8e8e8 360px,#e9e9e9 368px,#ebebeb 376px,#ededed 384px,#efefef 392px,#f0f0f0 400px,#f2f2f2 408px,#f3f3f3 416px,#f5f5f5 424px,#f6f6f6 432px,#f7f7f7 440px,#f8f8f8 448px,#f9f9f9 456px,#fafafa 464px,#fbfbfb 472px,#fcfcfc 480px,#fcfcfc 488px)"></div>
<div style="top:294px;background:linear-gradient(90deg,#f6f6f6 0px,#f5f5f5 8px,#f4f4f4 16px,#f2f2f2 24px,#f0f0f0 32px,#efefef 40px,#ededed 48px,#ebebeb 56px,#e9e9e9 64px,#e7e7e7 72px,#e5e5e5 80px,#e3e3e3 88px,#e1e1e1 96px,#dedede 104px,#dcdcdc 112px,#dadada 120px,#d8d8d8 128px,#d6d6d6 136px,#d4d4d4 144px,#d3d3d3 152px,#d1d1d1 160px,#d0d0d0 168px,#cecece 176px,#cdcdcd 184px,#cccccc 192px,#cccccc 200px,#cccccc 208px,#cccccc 216px,#cdcdcd 224px,#cecece 232px,#cfcfcf 240px,#d0d0d0 248px,#d1d1d1 256px,#d2d2d2 264px,#d4d4d4 272px,#d5d5d5 280px,#d7d7d7 288px,#d9d9d9 296px,#dbdbdb 304px,#dddddd 312px,#dedede 320px,#e0e0e0 328px,#e2e2e2 336px,#e4e4e4 344px,#e6e6e6 352px,#e8e8e8 360px,#eaeaea 368px,#ececec 376px,#ededed 384px,#efefef 392px,#f1f1f1 400px,#f2f2f2 408px,#f4f4f4 416px,#f5f5f5 424px,#f6f6f6 432px,#f7f7f7 440px,#f9f9f9 448px,#fafafa 456px,#fafafa 464px,#fbfbfb 472px,#fcfcfc 480px,#fdfdfd 488px)"></div>
<div style="top:297px;background:linear-gradient(90deg,#f7f7f7 0px,#f6f6f6 8px,#f4f4f4 16px,#f3f3f3 24px,#f1f1f1 32px,#f0f0f0 40px,#eeeeee 48px,#ececec 56px,#eaeaea 64px,#e8e8e8 72px,#e6e6e6 80px,#e4e4e4 88px,#e1e1e1 96px,#dfdfdf 104px,#dddddd 112px,#dbdbdb 120px,#d9d9d9 128px,#d7d7d7 136px,#d5d5d5 144px,#d3d3d3 152px,#d2d2d2 160px,#d0d0d0 168px,#cfcfcf 176px,#cecece 184px,#cdcdcd 192px,#cccccc 200px,#cccccc 208px,#cccccc 216px,#cdcdcd 224px,#cecece 232px,#cfcfcf 240px,#d0d0d0 248px,#d2d2d2 256px,#d3d3d3 264px,#d4d4d4 272px,#d6d6d6 280px,#d8d8d8 288px,#d9d9d9 296px,#dbdbdb 304px,#dddddd 312px,#dfdfdf 320px,#e1e1e1 328px,#e3e3e3 336px,#e5e5e5 344px,#e7e7e7 352px,#e9e9e9 360px,#eaeaea 368px,#ececec 376px,#eeeeee 384px,#f0f0f0 392px,#f1f1f1 400px,#f3f3f3 408px,#f4f4f4 416px,#f5f5f5 424px,#f7f7f7 432px,#f8f8f8 440px,#f9f9f9 448px,#fafafa 456px,#fbfbfb 464px,#fcfcfc 472px,#fcfcfc 480px,#fdfdfd 488px)"></div>
<div style="top:300px;background:linear-gradient(90deg,#f8f8f8 0px,#f7f7f7 8px,#f5f5f5 16px,#f4f4f4 24px,#f2f2f2 32px,#f0f0f0 40px,#efefef 48px,#ededed 56px,#ebebeb 64px,#e9e9e9 72px,#e7e7e7 80px,#e5e5e5 88px,#e2e2e2 96px,#e0e0e0 104px,#dedede 112px,#dcdcdc 120px,#dadada 128px,#d8d8d8 136px,#d6d6d6 144px,#d4d4d4 152px,#d2d2d2 160px,#d1d1d1 168px,#cfcfcf 176px,#cecece 184px,#cdcdcd 192px,#cccccc 200px,#cccccc 208px,#cdcdcd 216px,#cecece 224px,#cfcfcf 232px,#d0d0d0 240px,#d1d1d1 248px,#d2d2d2 256px,#d4d4d4 264px,#d5d5d5 272px,#d7d7d7 280px,#d8d8d8 288px,#dadada 296px,#dcdcdc 304px,#dedede 312px,#e0e0e0 320px,#e2e2e2 328px,#e3e3e3 336px,#e5e5e5 344px,#e7e7e7 352px,#e9e9e9 360px,#ebebeb 368px,#ededed 376px,#eeeeee 384px,#f0f0f0 392px,#f2f2f2 400px,#f3f3f3 408px,#f5f5f5 416px,#f6f6f6 424px,#f7f7f7 432px,#f8f8f8 440px,#f9f9f9 448px,#fafafa 456px,#fbfbfb 464px,#fcfcfc 472px,#fdfdfd 480px,#fdfdfd 488px)"></div>
<div style="top:303px;background:linear-gradient(90deg,#f8f8f8 0px,#f7f7f7 8px,#f6f6f6 16px,#f4f4f4 24px,#f3f3f3 32px,#f1f1f1 40px,#f0f0f0 48px,#eeeeee 56px,#ececec 64px,#eaeaea 72px,#e8e8e8 80px,#e6e6e6 88px,#e3e3e3 96px,#e1e1e1 104px,#dfdfdf 112px,#dddddd 120px,#dbdbdb 128px,#d9d9d9 136px,#d7d7d7 144px,#d5d5d5 152px,#d3d3d3 160px,#d1d1d1 168px,#d0d0d0 176px,#cfcfcf 184px,#cecece 192px,#cdcdcd 200px,#cdcdcd 208px,#cdcdcd 216px,#cecece 224px,#cfcfcf 232px,#d0d0d0 240px,#d1d1d1 248px,#d3d3d3 256px,#d4d4d4 264px,#d6d6d6 272px,#d7d7d7 280px,#d9d9d9 288px,#dbdbdb 296px,#dddddd 304px,#dedede 312px,#e0e0e0 320px,#e2e2e2 328px,#e4e4e4 336px,#e6e6e6 344px,#e8e8e8 352px,#eaeaea 360px,#ececec 368px,#ededed 376px,#efefef 384px,#f1f1f1 392px,#f2f2f2 400px,#f4f4f4 408px,#f5f5f5 416px,#f6f6f6 424px,#f8f8f8 432px,#f9f9f9 440px,#fafafa 448px,#fbfbfb 456px,#fbfbfb 464px,#fcfcfc 472px,#fdfdfd 480px,#fdfdfd 488px)"></div>
<div style="top:306px;background:linear-gradient(90deg,#f9f9f9 0px,#f8f8f8 8px,#f7f7f7 16px,#f5f5f5 24px,#f4f4f4 32px,#f2f2f2 40px,#f0f0f0 48px,#efefef 56px,#ededed 64px,#ebebeb 72px,#e9e9e9 80px,#e7e7e7 88px,#e4e4e4 96px,#e2e2e2 104px,#e0e0e0 112px,#dedede 120px,#dcdcdc 128px,#dadada 136px,#d8d8d8 144px,#d6d6d6 152px,#d4d4d4 160px,#d2d2d2 168px,#d1d1d1 176px,#cfcfcf 184px,#cecece 192px,#cdcdcd 200px,#cdcdcd 208px,#cecece 216px,#cecece 224px,#cfcfcf 232px,#d1d1d1 240px,#d2d2d2 248px,#d3d3d3 256px,#d5d5d5 264px,#d6d6d6 272px,#d8d8d8 280px,#dadada 288px,#dbdbdb 296px,#dddddd 304px,#dfdfdf 312px,#e1e1e1 320px,#e3e3e3 328px,#e5e5e5 336px,#e7e7e7 344px,#e9e9e9 352px,#eaeaea 360px,#ececec 368px,#eeeeee 376px,#f0f0f0 384px,#f1f1f1 392px,#f3f3f3 400px,#f4f4f4 408px,#f6f6f6 416px,#f7f7f7 424px,#f8f8f8 432px,#f9f9f9 440px,#fafafa 448px,#fbfbfb 456px,#fcfcfc 464px,#fcfcfc 472px,#fdfdfd 480px,#fefefe 488px)"></div>
<div style="top:309px;background:linear-gradient(90deg,#fafafa 0px,#f9f9f9 8px,#f8f8f8 16px,#f6f6f6 24px,#f5f5f5 32px,#f3f3f3 40px,#f1f1f1 48px,#f0f0f0 56px,#eeeeee 64px,#ececec 72px,#eaeaea 80px,#e8e8e8 88px,#e5e5e5 96px,#e3e3e3 104px,#e1e1e1 112px,#dfdfdf 120px,#dddddd 128px,#dadada 136px,#d8d8d8 144px,#d6d6d6 152px,#d5d5d5 160px,#d3d3d3 168px,#d1d1d1 176px,#d0d0d0 184px,#cfcfcf 192px,#cecece 200px,#cecece 208px,#cecece 216px,#cfcfcf 224px,#d0d0d0 232px,#d1d1d1 240px,#d2d2d2 248px,#d4d4d4 256px,#d5d5d5 264px,#d7d7d7 272px,#d9d9d9 280px,#dadada 288px,#dcdcdc 296px,#dedede 304px,#e0e0e0 312px,#e2e2e2 320px,#e4e4e4 328px,#e6e6e6 336px,#e7e7e7 344px,#e9e9e9 352px,#ebebeb 360px,#ededed 368px,#efefef 376px,#f0f0f0 384px,#f2f2f2 392px,#f3f3f3 400px,#f5f5f5 408px,#f6f6f6 416px,#f7f7f7 424px,#f8f8f8 432px,#fafafa 440px,#fafafa 448px,#fbfbfb 456px,#fcfcfc 464px,#fdfdfd 472px,#fdfdfd 480px,#fefefe 488px)"></div>
<div style="top:312px;background:linear-gradient(90deg,#fbfbfb 0px,#f9f9f9 8px,#f8f8f8 16px,#f7f7f7 24px,#f6f6f6 32px,#f4f4f4 40px,#f2f2f2 48px,#f1f1f1 56px,#efefef 64px,#ededed 72px,#ebebeb 80px,#e9e9e9 88px,#e6e6e6 96px,#e4e4e4 104px,#e2e2e2 112px,#e0e0e0 120px,#dddddd 128px,#dbdbdb 136px,#d9d9d9 144px,#d7d7d7 152px,#d5d5d5 160px,#d3d3d3 168px,#d2d2d2 176px,#d0d0d0 184px,#cfcfcf 192px,#cecece 200px,#cecece 208px,#cecece 216px,#cfcfcf 224px,#d0d0d0 232px,#d2d2d2 240px,#d3d3d3 248px,#d4d4d4 256px,#d6d6d6 264px,#d8d8d8 272px,#d9d9d9 280px,#dbdbdb 288px,#dddddd 296px,#dfdfdf 304px,#e1e1e1 312px,#e2e2e2 320px,#e4e4e4 328px,#e6e6e6 336px,#e8e8e8 344px,#eaeaea 352px,#ececec 360px,#eeeeee 368px,#efefef 376px,#f1f1f1 384px,#f2f2f2 392px,#f4f4f4 400px,#f5f5f5 408px,#f7f7f7 416px,#f8f8f8 424px,#f9f9f9 432px,#fafafa 440px,#fbfbfb 448px,#fcfcfc 456px,#fcfcfc 464px,#fdfdfd 472px,#fefefe 480px,#fefefe 488px)"></div>
<div style="top:315px;background:linear-gradient(90deg,#fbfbfb 0px,#fafafa 8px,#f9f9f9 16px,#f8f8f8 24px,#f6f6f6 32px,#f5f5f5 40px,#f3f3f3 48px,#f2f2f2 56px,#f0f0f0 64px,#eeeeee 72px,#ececec 80px,#eaeaea 88px,#e7e7e7 96px,#e5e5e5 104px,#e3e3e3 112px,#e1e1e1 120px,#dedede 128px,#dcdcdc 136px,#dadada 144px,#d8d8d8 152px,#d6d6d6 160px,#d4d4d4 168px,#d2d2d2 176px,#d1d1d1 184px,#d0d0d0 192px,#cfcfcf 200px,#cfcfcf 208px,#cfcfcf 216px,#d0d0d0 224px,#d1d1d1 232px,#d2d2d2 240px,#d4d4d4 248px,#d5d5d5 256px,#d7d7d7 264px,#d8d8d8 272px,#dadada 280px,#dcdcdc 288px,#dedede 296px,#dfdfdf 304px,#e1e1e1 312px,#e3e3e3 320px,#e5e5e5 328px,#e7e7e7 336px,#e9e9e9 344px,#ebebeb 352px,#ededed 360px,#eeeeee 368px,#f0f0f0 376px,#f2f2f2 384px,#f3f3f3 392px,#f5f5f5 400px,#f6f6f6 408px,#f7f7f7 416px,#f8f8f8 424px,#f9f9f9 432px,#fafafa 440px,#fbfbfb 448px,#fcfcfc 456px,#fdfdfd 464px,#fdfdfd 472px,#fefefe 480px,#fefefe 488px)"></div>
<div style="top:318px;background:linear-gradient(90deg,#fcfcfc 0px,#fbfbfb 8px,#fafafa 16px,#f9f9f9 24px,#f7f7f7 32px,#f6f6f6 40px,#f4f4f4 48px,#f2f2f2 56px,#f1f1f1 64px,#efefef 72px,#ededed 80px,#ebebeb 88px,#e8e8e8 96px,#e6e6e6 104px,#e4e4e4 112px,#e2e2e2 120px,#dfdfdf 128px,#dddddd 136px,#dbdbdb 144px,#d9d9d9 152px,#d7d7d7 160px,#d5d5d5 168px,#d3d3d3 176px,#d2d2d2 184px,#d0d0d0 192px,#cfcfcf 200px,#cfcfcf 208px,#cfcfcf 216px,#d0d0d0 224px,#d1d1d1 232px,#d3d3d3 240px,#d4d4d4 248px,#d6d6d6 256px,#d7d7d7 264px,#d9d9d9 272px,#dbdbdb 280px,#dcdcdc 288px,#dedede 296px,#e0e0e0 304px,#e2e2e2 312px,#e4e4e4 320px,#e6e6e6 328px,#e8e8e8 336px,#eaeaea 344px,#ececec 352px,#ededed 360px,#efefef 368px,#f1f1f1 376px,#f2f2f2 384px,#f4f4f4 392px,#f5f5f5 400px,#f7f7f7 408px,#f8f8f8 416px,#f9f9f9 424px,#fafafa 432px,#fbfbfb 440px,#fcfcfc 448px,#fcfcfc 456px,#fdfdfd 464px,#fefefe 472px,#fefefe 480px,#fefefe 488px)"></div>
<div style="top:321px;background:linear-gradient(90deg,#fcfcfc 0px,#fbfbfb 8px,#fafafa 16px,#f9f9f9 24px,#f8f8f8 32px,#f7f7f7 40px,#f5f5f5 48px,#f3f3f3 56px,#f2f2f2 64px,#f0f0f0 72px,#eeeeee 80px,#ececec 88px,#e9e9e9 96px,#e7e7e7 104px,#e5e5e5 112px,#e3e3e3 120px,#e0e0e0 128px,#dedede 136px,#dcdcdc 144px,#dadada 152px,#d8d8d8 160px,#d6d6d6 168px,#d4d4d4 176px,#d2d2d2 184px,#d1d1d1 192px,#d0d0d0 200px,#d0d0d0 208px,#d0d0d0 216px,#d1d1d1 224px,#d2d2d2 232px,#d3d3d3 240px,#d5d5d5 248px,#d6d6d6 256px,#d8d8d8 264px,#dadada 272px,#dbdbdb 280px,#dddddd 288px,#dfdfdf 296px,#e1e1e1 304px,#e3e3e3 312px,#e5e5e5 320px,#e7e7e7 328px,#e9e9e9 336px,#eaeaea 344px,#ececec 352px,#eeeeee 360px,#f0f0f0 368px,#f1f1f1 376px,#f3f3f3 384px,#f4f4f4 392px,#f6f6f6 400px,#f7f7f7 408px,#f8f8f8 416px,#f9f9f9 424px,#fafafa 432px,#fbfbfb 440px,#fcfcfc 448px,#fdfdfd 456px,#fdfdfd 464px,#fefefe 472px,#fefefe 480px,#ffffff 488px)"></div>
<div style="top:324px;background:linear-gradient(90deg,#fdfdfd 0px,#fcfcfc 8px,#fbfbfb 16px,#fafafa 24px,#f9f9f9 32px,#f7f7f7 40px,#f6f6f6 48px,#f4f4f4 56px,#f3f3f3 64px,#f1f1f1 72px,#efefef 80px,#ededed 88px,#eaeaea 96px,#e8e8e8 104px,#e6e6e6 112px,#e4e4e4 120px,#e1e1e1 128px,#dfdfdf 136px,#dddddd 144px,#dadada 152px,#d8d8d8 160px,#d6d6d6 168px,#d4d4d4 176px,#d3d3d3 184px,#d1d1d1 192px,#d1d1d1 200px,#d0d0d0 208px,#d0d0d0 216px,#d1d1d1 224px,#d2d2d2 232px,#d4d4d4 240px,#d5d5d5 248px,#d7d7d7 256px,#d9d9d9 264px,#dadada 272px,#dcdcdc 280px,#dedede 288px,#e0e0e0 296px,#e2e2e2 304px,#e4e4e4 312px,#e6e6e6 320px,#e8e8e8 328px,#e9e9e9 336px,#ebebeb 344px,#ededed 352px,#efefef 360px,#f1f1f1 368px,#f2f2f2 376px,#f4f4f4 384px,#f5f5f5 392px,#f7f7f7 400px,#f8f8f8 408px,#f9f9f9 416px,#fafafa 424px,#fbfbfb 432px,#fcfcfc 440px,#fdfdfd 448px,#fdfdfd 456px,#fefefe 464px,#fefefe 472px,#ffffff 480px,#ffffff 488px)"></div>
<div style="top:327px;background:linear-gradient(90deg,#fdfdfd 0px,#fdfdfd 8px,#fcfcfc 16px,#fbfbfb 24px,#fafafa 32px,#f8f8f8 40px,#f7f7f7 48px,#f5f5f5 56px,#f4f4f4 64px,#f2f2f2 72px,#f0f0f0 80px,#eeeeee 88px,#ebebeb 96px,#e9e9e9 104px,#e7e7e7 112px,#e5e5e5 120px,#e2e2e2 128px,#e0e0e0 136px,#dedede 144px,#dbdbdb 152px,#d9d9d9 160px,#d7d7d7 168px,#d5d5d5 176px,#d3d3d3 184px,#d2d2d2 192px,#d1d1d1 200px,#d1d1d1 208px,#d1d1d1 216px,#d2d2d2 224px,#d3d3d3 232px,#d4d4d4 240px,#d6d6d6 248px,#d8d8d8 256px,#d9d9d9 264px,#dbdbdb 272px,#dddddd 280px,#dfdfdf 288px,#e1e1e1 296px,#e3e3e3 304px,#e5e5e5 312px,#e6e6e6 320px,#e8e8e8 328px,#eaeaea 336px,#ececec 344px,#eeeeee 352px,#f0f0f0 360px,#f1f1f1 368px,#f3f3f3 376px,#f4f4f4 384px,#f6f6f6 392px,#f7f7f7 400px,#f8f8f8 408px,#fafafa 416px,#fbfbfb 424px,#fbfbfb 432px,#fcfcfc 440px,#fdfdfd 448px,#fefefe 456px,#fefefe 464px,#fefefe 472px,#ffffff 480px,#ffffff 488px)"></div>
<div style="top:330px;background:linear-gradient(90deg,#fefefe 0px,#fdfdfd 8px,#fcfcfc 16px,#fbfbfb 24px,#fafafa 32px,#f9f9f9 40px,#f8f8f8 48px,#f6f6f6 56px,#f4f4f4 64px,#f3f3f3 72px,#f1f1f1 80px,#efefef 88px,#ececec 96px,#eaeaea 104px,#e8e8e8 112px,#e6e6e6 120px,#e3e3e3 128px,#e1e1e1 136px,#dedede 144px,#dcdcdc 152px,#dadada 160px,#d8d8d8 168px,#d6d6d6 176px,#d4d4d4 184px,#d3d3d3 192px,#d2d2d2 200px,#d1d1d1 208px,#d2d2d2 216px,#d2d2d2 224px,#d4d4d4 232px,#d5d5d5 240px,#d7d7d7 248px,#d8d8d8 256px,#dadada 264px,#dcdcdc 272px,#dedede 280px,#e0e0e0 288px,#e1e1e1 296px,#e3e3e3 304px,#e5e5e5 312px,#e7e7e7 320px,#e9e9e9 328px,#ebebeb 336px,#ededed 344px,#efefef 352px,#f0f0f0 360px,#f2f2f2 368px,#f4f4f4 376px,#f5f5f5 384px,#f6f6f6 392px,#f8f8f8 400px,#f9f9f9 408px,#fafafa 416px,#fbfbfb 424px,#fcfcfc 432px,#fdfdfd 440px,#fdfdfd 448px,#fefefe 456px,#fefefe 464px,#ffffff 472px,#ffffff 480px,#ffffff 488px)"></div>
<div style="top:333px;background:linear-gradient(90deg,#fefefe 0px,#fefefe 8px,#fdfdfd 16px,#fcfcfc 24px,#fbfbfb 32px,#fafafa 40px,#f8f8f8 48px,#f7f7f7 56px,#f5f5f5 64px,#f4f4f4 72px,#f2f2f2 80px,#f0f0f0 88px,#ededed 96px,#ebebeb 104px,#e9e9e9 112px,#e7e7e7 120px,#e4e4e4 128px,#e2e2e2 136px,#dfdfdf 144px,#dddddd 152px,#dbdbdb 160px,#d9d9d9 168px,#d7d7d7 176px,#d5d5d5 184px,#d3d3d3 192px,#d2d2d2 200px,#d2d2d2 208px,#d2d2d2 216px,#d3d3d3 224px,#d4d4d4 232px,#d6d6d6 240px,#d7d7d7 248px,#d9d9d9 256px,#dbdbdb 264px,#dddddd 272px,#dedede 280px,#e0e0e0 288px,#e2e2e2 296px,#e4e4e4 304px,#e6e6e6 312px,#e8e8e8 320px,#eaeaea 328px,#ececec 336px,#eeeeee 344px,#efefef 352px,#f1f1f1 360px,#f3f3f3 368px,#f4f4f4 376px,#f6f6f6 384px,#f7f7f7 392px,#f8f8f8 400px,#fafafa 408px,#fbfbfb 416px,#fcfcfc 424px,#fcfcfc 432px,#fdfdfd 440px,#fefefe 448px,#fefefe 456px,#fefefe 464px,#ffffff 472px,#ffffff 480px,#ffffff 488px)"></div>
<div style="top:336px;background:linear-gradient(90deg,#fefefe 0px,#fefefe 8px,#fdfdfd 16px,#fdfdfd 24px,#fcfcfc 32px,#fbfbfb 40px,#f9f9f9 48px,#f8f8f8 56px,#f6f6f6 64px,#f4f4f4 72px,#f3f3f3 80px,#f1f1f1 88px,#eeeeee 96px,#ececec 104px,#eaeaea 112px,#e8e8e8 120px,#e5e5e5 128px,#e3e3e3 136px,#e0e0e0 144px,#dedede 152px,#dcdcdc 160px,#d9d9d9 168px,#d7d7d7 176px,#d6d6d6 184px,#d4d4d4 192px,#d3d3d3 200px,#d3d3d3 208px,#d3d3d3 216px,#d4d4d4 224px,#d5d5d5 232px,#d6d6d6 240px,#d8d8d8 248px,#dadada 256px,#dbdbdb 264px,#dddddd 272px,#dfdfdf 280px,#e1e1e1 288px,#e3e3e3 296px,#e5e5e5 304px,#e7e7e7 312px,#e9e9e9 320px,#ebebeb 328px,#ededed 336px,#efefef 344px,#f0f0f0 352px,#f2f2f2 360px,#f4f4f4 368px,#f5f5f5 376px,#f6f6f6 384px,#f8f8f8 392px,#f9f9f9 400px,#fafafa 408px,#fbfbfb 416px,#fcfcfc 424px,#fdfdfd 432px,#fdfdfd 440px,#fefefe 448px,#fefefe 456px,#ffffff 464px,#ffffff 472px,#ffffff 480px,#fffdfc 488px)"></div>
<div style="top:339px;background:linear-gradient(90deg,#ffffff 0px,#fefefe 8px,#fefefe 16px,#fdfdfd 24px,#fcfcfc 32px,#fbfbfb 40px,#fafafa 48px,#f9f9f9 56px,#f7f7f7 64px,#f5f5f5 72px,#f4f4f4 80px,#f2f2f2 88px,#efefef 96px,#ededed 104px,#ebebeb 112px,#e8e8e8 120px,#e6e6e6 128px,#e4e4e4 136px,#e1e1e1 144px,#dfdfdf 152px,#dcdcdc 160px,#dadada 168px,#d8d8d8 176px,#d6d6d6 184px,#d5d5d5 192px,#d4d4d4 200px,#d3d3d3 208px,#d4d4d4 216px,#d4d4d4 224px,#d5d5d5 232px,#d7d7d7 240px,#d9d9d9 248px,#dadada 256px,#dcdcdc 264px,#dedede 272px,#e0e0e0 280px,#e2e2e2 288px,#e4e4e4 296px,#e6e6e6 304px,#e8e8e8 312px,#eaeaea 320px,#ececec 328px,#eeeeee 336px,#efefef 344px,#f1f1f1 352px,#f3f3f3 360px,#f4f4f4 368px,#f6f6f6 376px,#f7f7f7 384px,#f8f8f8 392px,#fafafa 400px,#fbfbfb 408px,#fcfcfc 416px,#fcfcfc 424px,#fdfdfd 432px,#fefefe 440px,#fefefe 448px,#ffffff 456px,#ffffff 464px,#ffffff 472px,#fffefe 480px,#fffbf6 488px)"></div>
<div style="top:342px;background:linear-gradient(90deg,#ffffff 0px,#ffffff 8px,#fefefe 16px,#fefefe 24px,#fdfdfd 32px,#fcfcfc 40px,#fbfbfb 48px,#f9f9f9 56px,#f8f8f8 64px,#f6f6f6 72px,#f4f4f4 80px,#f2f2f2 88px,#f0f0f0 96px,#eeeeee 104px,#ececec 112px,#e9e9e9 120px,#e7e7e7 128px,#e5e5e5 136px,#e2e2e2 144px,#e0e0e0 152px,#dddddd 160px,#dbdbdb 168px,#d9d9d9 176px,#d7d7d7 184px,#d6d6d6 192px,#d5d5d5 200px,#d4d4d4 208px,#d4d4d4 216px,#d5d5d5 224px,#d6d6d6 232px,#d8d8d8 240px,#d9d9d9 248px,#dbdbdb 256px,#dddddd 264px,#dfdfdf 272px,#e1e1e1 280px,#e3e3e3 288px,#e5e5e5 296px,#e7e7e7 304px,#e9e9e9 312px,#ebebeb 320px,#ececec 328px,#eeeeee 336px,#f0f0f0 344px,#f2f2f2 352px,#f3f3f3 360px,#f5f5f5 368px,#f6f6f6 376px,#f8f8f8 384px,#f9f9f9 392px,#fafafa 400px,#fbfbfb 408px,#fcfcfc 416px,#fdfdfd 424px,#fefefe 432px,#fefefe 440px,#fefefe 448px,#ffffff 456px,#ffffff 464px,#ffffff 472px,#fffcf8 480px,#fff8f1 488px)"></div>
<div style="top:345px;background:linear-gradient(90deg,#ffffff 0px,#ffffff 8px,#fefefe 16px,#fefefe 24px,#fdfdfd 32px,#fcfcfc 40px,#fbfbfb 48px,#fafafa 56px,#f9f9f9 64px,#f7f7f7 72px,#f5f5f5 80px,#f3f3f3 88px,#f1f1f1 96px,#efefef 104px,#ededed 112px,#eaeaea 120px,#e8e8e8 128px,#e6e6e6 136px,#e3e3e3 144px,#e1e1e1 152px,#dedede 160px,#dcdcdc 168px,#dadada 176px,#d8d8d8 184px,#d6d6d6 192px,#d5d5d5 200px,#d5d5d5 208px,#d5d5d5 216px,#d6d6d6 224px,#d7d7d7 232px,#d8d8d8 240px,#dadada 248px,#dcdcdc 256px,#dedede 264px,#e0e0e0 272px,#e2e2e2 280px,#e4e4e4 288px,#e6e6e6 296px,#e8e8e8 304px,#e9e9e9 312px,#ebebeb 320px,#ededed 328px,#efefef 336px,#f1f1f1 344px,#f3f3f3 352px,#f4f4f4 360px,#f6f6f6 368px,#f7f7f7 376px,#f8f8f8 384px,#fafafa 392px,#fbfbfb 400px,#fcfcfc 408px,#fdfdfd 416px,#fdfdfd 424px,#fefefe 432px,#fefefe 440px,#ffffff 448px,#ffffff 456px,#ffffff 464px,#fffdfb 472px,#fff9f3 480px,#fff6ed 488px)"></div>
<div style="top:348px;background:linear-gradient(90deg,#fffefd 0px,#ffffff 8px,#ffffff 16px,#fefefe 24px,#fefefe 32px,#fdfdfd 40px,#fcfcfc 48px,#fbfbfb 56px,#f9f9f9 64px,#f8f8f8 72px,#f6f6f6 80px,#f4f4f4 88px,#f2f2f2 96px,#f0f0f0 104px,#eeeeee 112px,#ebebeb 120px,#e9e9e9 128px,#e6e6e6 136px,#e4e4e4 144px,#e1e1e1 152px,#dfdfdf 160px,#dddddd 168px,#dbdbdb 176px,#d9d9d9 184px,#d7d7d7 192px,#d6d6d6 200px,#d6d6d6 208px,#d6d6d6 216px,#d6d6d6 224px,#d8d8d8 232px,#d9d9d9 240px,#dbdbdb 248px,#dcdcdc 256px,#dedede 264px,#e0e0e0 272px,#e2e2e2 280px,#e4e4e4 288px,#e6e6e6 296px,#e8e8e8 304px,#eaeaea 312px,#ececec 320px,#eeeeee 328px,#f0f0f0 336px,#f2f2f2 344px,#f3f3f3 352px,#f5f5f5 360px,#f6f6f6 368px,#f8f8f8 376px,#f9f9f9 384px,#fafafa 392px,#fbfbfb 400px,#fcfcfc 408px,#fdfdfd 416px,#fefefe 424px,#fefefe 432px,#ffffff 440px,#ffffff 448px,#ffffff 456px,#fffefd 464px,#fffaf5 472px,#fff7ee 480px,#fff3e8 488px)"></div>
<div style="top:351px;background:linear-gradient(90deg,#fffbf8 0px,#ffffff 8px,#ffffff 16px,#ffffff 24px,#fefefe 32px,#fdfdfd 40px,#fdfdfd 48px,#fbfbfb 56px,#fafafa 64px,#f9f9f9 72px,#f7f7f7 80px,#f5f5f5 88px,#f3f3f3 96px,#f1f1f1 104px,#efefef 112px,#ececec 120px,#eaeaea 128px,#e7e7e7 136px,#e5e5e5 144px,#e2e2e2 152px,#e0e0e0 160px,#dedede 168px,#dbdbdb 176px,#dadada 184px,#d8d8d8 192px,#d7d7d7 200px,#d6d6d6 208px,#d6d6d6 216px,#d7d7d7 224px,#d8d8d8 232px,#dadada 240px,#dbdbdb 248px,#dddddd 256px,#dfdfdf 264px,#e1e1e1 272px,#e3e3e3 280px,#e5e5e5 288px,#e7e7e7 296px,#e9e9e9 304px,#ebebeb 312px,#ededed 320px,#efefef 328px,#f1f1f1 336px,#f2f2f2 344px,#f4f4f4 352px,#f6f6f6 360px,#f7f7f7 368px,#f8f8f8 376px,#fafafa 384px,#fbfbfb 392px,#fcfcfc 400px,#fdfdfd 408px,#fdfdfd 416px,#fefefe 424px,#fefefe 432px,#ffffff 440px,#ffffff 448px,#ffffff 456px,#fffbf8 464px,#fff8f0 472px,#fff4e9 480px,#fff1e3 488px)"></div>
<div style="top:354px;background:linear-gradient(90deg,#fff9f2 0px,#fffcfa 8px,#ffffff 16px,#ffffff 24px,#fefefe 32px,#fefefe 40px,#fdfdfd 48px,#fcfcfc 56px,#fbfbfb 64px,#f9f9f9 72px,#f8f8f8 80px,#f6f6f6 88px,#f4f4f4 96px,#f2f2f2 104px,#f0f0f0 112px,#ededed 120px,#ebebeb 128px,#e8e8e8 136px,#e6e6e6 144px,#e3e3e3 152px,#e1e1e1 160px,#dedede 168px,#dcdcdc 176px,#dadada 184px,#d9d9d9 192px,#d8d8d8 200px,#d7d7d7 208px,#d7d7d7 216px,#d8d8d8 224px,#d9d9d9 232px,#dadada 240px,#dcdcdc 248px,#dedede 256px,#e0e0e0 264px,#e2e2e2 272px,#e4e4e4 280px,#e6e6e6 288px,#e8e8e8 296px,#eaeaea 304px,#ececec 312px,#eeeeee 320px,#f0f0f0 328px,#f2f2f2 336px,#f3f3f3 344px,#f5f5f5 352px,#f6f6f6 360px,#f8f8f8 368px,#f9f9f9 376px,#fafafa 384px,#fbfbfb 392px,#fcfcfc 400px,#fdfdfd 408px,#fefefe 416px,#fefefe 424px,#ffffff 432px,#ffffff 440px,#ffffff 448px,#fffdfa 456px,#fff9f2 464px,#fff5eb 472px,#fff2e5 480px,#ffefdf 488px)"></div>
<div style="top:357px;background:linear-gradient(90deg,#fff6ed 0px,#fffaf5 8px,#fffefd 16px,#ffffff 24px,#ffffff 32px,#fefefe 40px,#fefefe 48px,#fdfdfd 56px,#fbfbfb 64px,#fafafa 72px,#f9f9f9 80px,#f7f7f7 88px,#f5f5f5 96px,#f3f3f3 104px,#f0f0f0 112px,#eeeeee 120px,#ececec 128px,#e9e9e9 136px,#e7e7e7 144px,#e4e4e4 152px,#e2e2e2 160px,#dfdfdf 168px,#dddddd 176px,#dbdbdb 184px,#dadada 192px,#d8d8d8 200px,#d8d8d8 208px,#d8d8d8 216px,#d9d9d9 224px,#dadada 232px,#dbdbdb 240px,#dddddd 248px,#dfdfdf 256px,#e1e1e1 264px,#e3e3e3 272px,#e5e5e5 280px,#e7e7e7 288px,#e9e9e9 296px,#ebebeb 304px,#ededed 312px,#efefef 320px,#f1f1f1 328px,#f2f2f2 336px,#f4f4f4 344px,#f6f6f6 352px,#f7f7f7 360px,#f8f8f8 368px,#fafafa 376px,#fbfbfb 384px,#fcfcfc 392px,#fdfdfd 400px,#fdfdfd 408px,#fefefe 416px,#fefefe 424px,#ffffff 432px,#ffffff 440px,#fffefd 448px,#fffaf5 456px,#fff6ed 464px,#fff3e7 472px,#fff0e0 480px,#ffeddb 488px)"></div>
<div style="top:360px;background:linear-gradient(90deg,#fff4e8 0px,#fff7ef 8px,#fffbf7 16px,#ffffff 24px,#ffffff 32px,#ffffff 40px,#fefefe 48px,#fdfdfd 56px,#fcfcfc 64px,#fbfbfb 72px,#f9f9f9 80px,#f8f8f8 88px,#f6f6f6 96px,#f4f4f4 104px,#f1f1f1 112px,#efefef 120px,#ededed 128px,#eaeaea 136px,#e8e8e8 144px,#e5e5e5 152px,#e3e3e3 160px,#e0e0e0 168px,#dedede 176px,#dcdcdc 184px,#dadada 192px,#d9d9d9 200px,#d9d9d9 208px,#d9d9d9 216px,#d9d9d9 224px,#dadada 232px,#dcdcdc 240px,#dedede 248px,#dfdfdf 256px,#e1e1e1 264px,#e3e3e3 272px,#e5e5e5 280px,#e8e8e8 288px,#eaeaea 296px,#ececec 304px,#eeeeee 312px,#efefef 320px,#f1f1f1 328px,#f3f3f3 336px,#f5f5f5 344px,#f6f6f6 352px,#f8f8f8 360px,#f9f9f9 368px,#fafafa 376px,#fbfbfb 384px,#fcfcfc 392px,#fdfdfd 400px,#fefefe 408px,#fefefe 416px,#ffffff 424px,#ffffff 432px,#ffffff 440px,#fffbf8 448px,#fff7f0 456px,#fff4e8 464px,#fff0e2 472px,#ffeedc 480px,#ffebd6 488px)"></div>
<div style="top:363px;background:linear-gradient(90deg,#fff1e3 0px,#fff5ea 8px,#fff9f2 16px,#fffdfb 24px,#ffffff 32px,#ffffff 40px,#fefefe 48px,#fefefe 56px,#fdfdfd 64px,#fbfbfb 72px,#fafafa 80px,#f8f8f8 88px,#f6f6f6 96px,#f4f4f4 104px,#f2f2f2 112px,#f0f0f0 120px,#ededed 128px,#ebebeb 136px,#e8e8e8 144px,#e6e6e6 152px,#e3e3e3 160px,#e1e1e1 168px,#dfdfdf 176px,#dddddd 184px,#dbdbdb 192px,#dadada 200px,#d9d9d9 208px,#d9d9d9 216px,#dadada 224px,#dbdbdb 232px,#dddddd 240px,#dedede 248px,#e0e0e0 256px,#e2e2e2 264px,#e4e4e4 272px,#e6e6e6 280px,#e8e8e8 288px,#eaeaea 296px,#ececec 304px,#eeeeee 312px,#f0f0f0 320px,#f2f2f2 328px,#f4f4f4 336px,#f5f5f5 344px,#f7f7f7 352px,#f8f8f8 360px,#fafafa 368px,#fbfbfb 376px,#fcfcfc 384px,#fdfdfd 392px,#fefefe 400px,#fefefe 408px,#ffffff 416px,#ffffff 424px,#ffffff 432px,#fffdfb 440px,#fff9f2 448px,#fff5eb 456px,#fff1e4 464px,#ffeedd 472px,#ffebd8 480px,#ffe9d2 488px)"></div>
<div style="top:366px;background:linear-gradient(90deg,#ffefde 0px,#fff2e5 8px,#fff6ed 16px,#fffaf5 24px,#fffffe 32px,#ffffff 40px,#ffffff 48px,#fefefe 56px,#fdfdfd 64px,#fcfcfc 72px,#fbfbfb 80px,#f9f9f9 88px,#f7f7f7 96px,#f5f5f5 104px,#f3f3f3 112px,#f1f1f1 120px,#eeeeee 128px,#ececec 136px,#e9e9e9 144px,#e7e7e7 152px,#e4e4e4 160px,#e2e2e2 168px,#e0e0e0 176px,#dedede 184px,#dcdcdc 192px,#dbdbdb 200px,#dadada 208px,#dadada 216px,#dbdbdb 224px,#dcdcdc 232px,#dddddd 240px,#dfdfdf 248px,#e1e1e1 256px,#e3e3e3 264px,#e5e5e5 272px,#e7e7e7 280px,#e9e9e9 288px,#ebebeb 296px,#ededed 304px,#efefef 312px,#f1f1f1 320px,#f3f3f3 328px,#f5f5f5 336px,#f6f6f6 344px,#f8f8f8 352px,#f9f9f9 360px,#fafafa 368px,#fbfbfb 376px,#fcfcfc 384px,#fdfdfd 392px,#fefefe 400px,#fefefe 408px,#ffffff 416px,#ffffff 424px,#fffffe 432px,#fffaf5 440px,#fff6ed 448px,#fff2e6 456px,#ffefdf 464px,#ffecd9 472px,#ffe9d4 480px,#ffe7cf 488px)"></div>
<div style="top:369px;background:linear-gradient(90deg,#ffecda 0px,#fff0e1 8px,#fff4e8 16px,#fff8f0 24px,#fffcf9 32px,#ffffff 40px,#ffffff 48px,#fefefe 56px,#fefefe 64px,#fcfcfc 72px,#fbfbfb 80px,#fafafa 88px,#f8f8f8 96px,#f6f6f6 104px,#f4f4f4 112px,#f2f2f2 120px,#efefef 128px,#ededed 136px,#eaeaea 144px,#e8e8e8 152px,#e5e5e5 160px,#e3e3e3 168px,#e1e1e1 176px,#dfdfdf 184px,#dddddd 192px,#dcdcdc 200px,#dbdbdb 208px,#dbdbdb 216px,#dcdcdc 224px,#dddddd 232px,#dedede 240px,#e0e0e0 248px,#e2e2e2 256px,#e4e4e4 264px,#e6e6e6 272px,#e8e8e8 280px,#eaeaea 288px,#ececec 296px,#eeeeee 304px,#f0f0f0 312px,#f2f2f2 320px,#f4f4f4 328px,#f5f5f5 336px,#f7f7f7 344px,#f8f8f8 352px,#fafafa 360px,#fbfbfb 368px,#fcfcfc 376px,#fdfdfd 384px,#fefefe 392px,#fefefe 400px,#ffffff 408px,#ffffff 416px,#ffffff 424px,#fffcf9 432px,#fff8f0 440px,#fff4e8 448px,#fff0e1 456px,#ffeddb 464px,#ffead5 472px,#ffe7d0 480px,#ffe5cb 488px)"></div>
<div style="top:372px;background:linear-gradient(90deg,#ffead5 0px,#ffeedc 8px,#fff1e3 16px,#fff5eb 24px,#fffaf4 32px,#fffefd 40px,#ffffff 48px,#ffffff 56px,#fefefe 64px,#fdfdfd 72px,#fcfcfc 80px,#fafafa 88px,#f9f9f9 96px,#f7f7f7 104px,#f5f5f5 112px,#f2f2f2 120px,#f0f0f0 128px,#eeeeee 136px,#ebebeb 144px,#e9e9e9 152px,#e6e6e6 160px,#e4e4e4 168px,#e1e1e1 176px,#dfdfdf 184px,#dedede 192px,#dddddd 200px,#dcdcdc 208px,#dcdcdc 216px,#dcdcdc 224px,#dddddd 232px,#dfdfdf 240px,#e1e1e1 248px,#e2e2e2 256px,#e4e4e4 264px,#e7e7e7 272px,#e9e9e9 280px,#ebebeb 288px,#ededed 296px,#efefef 304px,#f1f1f1 312px,#f3f3f3 320px,#f4f4f4 328px,#f6f6f6 336px,#f7f7f7 344px,#f9f9f9 352px,#fafafa 360px,#fbfbfb 368px,#fcfcfc 376px,#fdfdfd 384px,#fefefe 392px,#fefefe 400px,#ffffff 408px,#ffffff 416px,#fffefc 424px,#fff9f3 432px,#fff5eb 440px,#fff1e3 448px,#ffeedd 456px,#ffebd7 464px,#ffe8d1 472px,#ffe6cc 480px,#ffe3c7 488px)"></div>
<div style="top:375px;background:linear-gradient(90deg,#ffe8d1 0px,#ffebd7 8px,#ffefdf 16px,#fff3e6 24px,#fff7ef 32px,#fffcf8 40px,#ffffff 48px,#ffffff 56px,#fefefe 64px,#fdfdfd 72px,#fcfcfc 80px,#fbfbfb 88px,#f9f9f9 96px,#f8f8f8 104px,#f5f5f5 112px,#f3f3f3 120px,#f1f1f1 128px,#eeeeee 136px,#ececec 144px,#e9e9e9 152px,#e7e7e7 160px,#e4e4e4 168px,#e2e2e2 176px,#e0e0e0 184px,#dfdfdf 192px,#dddddd 200px,#dddddd 208px,#dddddd 216px,#dddddd 224px,#dedede 232px,#e0e0e0 240px,#e1e1e1 248px,#e3e3e3 256px,#e5e5e5 264px,#e7e7e7 272px,#e9e9e9 280px,#ebebeb 288px,#ededed 296px,#efefef 304px,#f1f1f1 312px,#f3f3f3 320px,#f5f5f5 328px,#f7f7f7 336px,#f8f8f8 344px,#fafafa 352px,#fbfbfb 360px,#fcfcfc 368px,#fdfdfd 376px,#fefefe 384px,#fefefe 392px,#ffffff 400px,#ffffff 408px,#ffffff 416px,#fffbf7 424px,#fff7ee 432px,#fff3e6 440px,#ffefdf 448px,#ffecd8 456px,#ffe9d3 464px,#ffe6cd 472px,#ffe4c8 480px,#ffe2c4 488px)"></div>
<div style="top:378px;background:linear-gradient(90deg,#ffe6cc 0px,#ffe9d3 8px,#ffedda 16px,#fff0e2 24px,#fff5ea 32px,#fff9f3 40px,#fffefd 48px,#ffffff 56px,#fefefe 64px,#fefefe 72px,#fdfdfd 80px,#fcfcfc 88px,#fafafa 96px,#f8f8f8 104px,#f6f6f6 112px,#f4f4f4 120px,#f2f2f2 128px,#efefef 136px,#ededed 144px,#eaeaea 152px,#e8e8e8 160px,#e5e5e5 168px,#e3e3e3 176px,#e1e1e1 184px,#dfdfdf 192px,#dedede 200px,#dedede 208px,#dddddd 216px,#dedede 224px,#dfdfdf 232px,#e0e0e0 240px,#e2e2e2 248px,#e4e4e4 256px,#e6e6e6 264px,#e8e8e8 272px,#eaeaea 280px,#ececec 288px,#eeeeee 296px,#f0f0f0 304px,#f2f2f2 312px,#f4f4f4 320px,#f6f6f6 328px,#f7f7f7 336px,#f9f9f9 344px,#fafafa 352px,#fbfbfb 360px,#fcfcfc 368px,#fdfdfd 376px,#fefefe 384px,#fefefe 392px,#ffffff 400px,#ffffff 408px,#fffdfb 416px,#fff8f2 424px,#fff4e9 432px,#fff0e1 440px,#ffeddb 448px,#ffead4 456px,#ffe7cf 464px,#ffe4ca 472px,#ffe2c5 480px,#ffe0c1 488px)"></div>
<div style="top:381px;background:linear-gradient(90deg,#ffe4c8 0px,#ffe7cf 8px,#ffead6 16px,#ffeedd 24px,#fff2e6 32px,#fff7ef 40px,#fffcf8 48px,#ffffff 56px,#ffffff 64px,#fefefe 72px,#fdfdfd 80px,#fcfcfc 88px,#fbfbfb 96px,#f9f9f9 104px,#f7f7f7 112px,#f5f5f5 120px,#f3f3f3 128px,#f0f0f0 136px,#eeeeee 144px,#ebebeb 152px,#e9e9e9 160px,#e6e6e6 168px,#e4e4e4 176px,#e2e2e2 184px,#e0e0e0 192px,#dfdfdf 200px,#dedede 208px,#dedede 216px,#dfdfdf 224px,#e0e0e0 232px,#e1e1e1 240px,#e3e3e3 248px,#e5e5e5 256px,#e7e7e7 264px,#e9e9e9 272px,#ebebeb 280px,#ededed 288px,#efefef 296px,#f1f1f1 304px,#f3f3f3 312px,#f5f5f5 320px,#f6f6f6 328px,#f8f8f8 336px,#f9f9f9 344px,#fbfbfb 352px,#fcfcfc 360px,#fdfdfd 368px,#fefefe 376px,#fefefe 384px,#ffffff 392px,#ffffff 400px,#ffffff 408px,#fffaf5 416px,#fff6ec 424px,#fff2e4 432px,#ffeedd 440px,#ffebd6 448px,#ffe8d1 456px,#ffe5cb 464px,#ffe3c6 472px,#ffe1c2 480px,#ffdfbe 488px)"></div>
<div style="top:384px;background:linear-gradient(90deg,#ffe2c4 0px,#ffe5ca 8px,#ffe8d1 16px,#ffecd9 24px,#fff0e1 32px,#fff5ea 40px,#fff9f4 48px,#fffffe 56px,#ffffff 64px,#fefefe 72px,#fefefe 80px,#fdfdfd 88px,#fbfbfb 96px,#fafafa 104px,#f8f8f8 112px,#f6f6f6 120px,#f3f3f3 128px,#f1f1f1 136px,#eeeeee 144px,#ececec 152px,#e9e9e9 160px,#e7e7e7 168px,#e5e5e5 176px,#e3e3e3 184px,#e1e1e1 192px,#e0e0e0 200px,#dfdfdf 208px,#dfdfdf 216px,#e0e0e0 224px,#e1e1e1 232px,#e2e2e2 240px,#e4e4e4 248px,#e6e6e6 256px,#e8e8e8 264px,#eaeaea 272px,#ececec 280px,#eeeeee 288px,#f0f0f0 296px,#f2f2f2 304px,#f4f4f4 312px,#f5f5f5 320px,#f7f7f7 328px,#f9f9f9 336px,#fafafa 344px,#fbfbfb 352px,#fcfcfc 360px,#fdfdfd 368px,#fefefe 376px,#fefefe 384px,#ffffff 392px,#ffffff 400px,#fffcfa 408px,#fff8f0 416px,#fff3e8 424px,#ffefe0 432px,#ffecd9 440px,#ffe9d2 448px,#ffe6cd 456px,#ffe3c8 464px,#ffe1c3 472px,#ffdfbf 480px,#ffddbb 488px)"></div>
<div style="top:387px;background:linear-gradient(90deg,#ffe0c0 0px,#ffe3c6 8px,#ffe6cd 16px,#ffead5 24px,#ffeedd 32px,#fff2e5 40px,#fff7ef 48px,#fffcf9 56px,#ffffff 64px,#ffffff 72px,#fefefe 80px,#fdfdfd 88px,#fcfcfc 96px,#fafafa 104px,#f8f8f8 112px,#f6f6f6 120px,#f4f4f4 128px,#f2f2f2 136px,#efefef 144px,#ededed 152px,#eaeaea 160px,#e8e8e8 168px,#e6e6e6 176px,#e4e4e4 184px,#e2e2e2 192px,#e1e1e1 200px,#e0e0e0 208px,#e0e0e0 216px,#e0e0e0 224px,#e1e1e1 232px,#e3e3e3 240px,#e4e4e4 248px,#e6e6e6 256px,#e8e8e8 264px,#eaeaea 272px,#ececec 280px,#eeeeee 288px,#f0f0f0 296px,#f2f2f2 304px,#f4f4f4 312px,#f6f6f6 320px,#f8f8f8 328px,#f9f9f9 336px,#fafafa 344px,#fcfcfc 352px,#fdfdfd 360px,#fdfdfd 368px,#fefefe 376px,#ffffff 384px,#ffffff 392px,#ffffff 400px,#fffaf5 408px,#fff5eb 416px,#fff1e3 424px,#ffeddc 432px,#ffead5 440px,#ffe7cf 448px,#ffe4c9 456px,#ffe2c4 464px,#ffe0c0 472px,#ffddbc 480px,#ffdcb8 488px)"></div>
<div style="top:390px;background:linear-gradient(90deg,#ffdebc 0px,#ffe1c2 8px,#ffe4c9 16px,#ffe8d0 24px,#ffecd8 32px,#fff0e1 40px,#fff5ea 48px,#fffaf5 56px,#ffffff 64px,#ffffff 72px,#fefefe 80px,#fdfdfd 88px,#fcfcfc 96px,#fbfbfb 104px,#f9f9f9 112px,#f7f7f7 120px,#f5f5f5 128px,#f2f2f2 136px,#f0f0f0 144px,#eeeeee 152px,#ebebeb 160px,#e9e9e9 168px,#e6e6e6 176px,#e4e4e4 184px,#e3e3e3 192px,#e2e2e2 200px,#e1e1e1 208px,#e1e1e1 216px,#e1e1e1 224px,#e2e2e2 232px,#e4e4e4 240px,#e5e5e5 248px,#e7e7e7 256px,#e9e9e9 264px,#ebebeb 272px,#ededed 280px,#efefef 288px,#f1f1f1 296px,#f3f3f3 304px,#f5f5f5 312px,#f7f7f7 320px,#f8f8f8 328px,#fafafa 336px,#fbfbfb 344px,#fcfcfc 352px,#fdfdfd 360px,#fefefe 368px,#fefefe 376px,#ffffff 384px,#ffffff 392px,#fffcf9 400px,#fff7ef 408px,#fff3e7 416px,#ffefdf 424px,#ffebd7 432px,#ffe8d1 440px,#ffe5cb 448px,#ffe3c6 456px,#ffe0c1 464px,#ffdebd 472px,#ffdcb9 480px,#ffdab5 488px)"></div>
<div style="top:393px;background:linear-gradient(90deg,#ffdcb8 0px,#ffdfbf 8px,#ffe2c5 16px,#ffe6cc 24px,#ffead4 32px,#ffeedd 40px,#fff3e6 48px,#fff8f0 56px,#fffdfb 64px,#ffffff 72px,#ffffff 80px,#fefefe 88px,#fdfdfd 96px,#fbfbfb 104px,#fafafa 112px,#f8f8f8 120px,#f5f5f5 128px,#f3f3f3 136px,#f1f1f1 144px,#eeeeee 152px,#ececec 160px,#e9e9e9 168px,#e7e7e7 176px,#e5e5e5 184px,#e4e4e4 192px,#e2e2e2 200px,#e2e2e2 208px,#e2e2e2 216px,#e2e2e2 224px,#e3e3e3 232px,#e4e4e4 240px,#e6e6e6 248px,#e8e8e8 256px,#eaeaea 264px,#ececec 272px,#eeeeee 280px,#f0f0f0 288px,#f2f2f2 296px,#f4f4f4 304px,#f6f6f6 312px,#f7f7f7 320px,#f9f9f9 328px,#fafafa 336px,#fbfbfb 344px,#fdfdfd 352px,#fdfdfd 360px,#fefefe 368px,#ffffff 376px,#ffffff 384px,#ffffff 392px,#fffaf4 400px,#fff5eb 408px,#fff1e2 416px,#ffedda 424px,#ffe9d3 432px,#ffe6cd 440px,#ffe3c8 448px,#ffe1c3 456px,#ffdfbe 464px,#ffddba 472px,#ffdbb6 480px,#ffd9b3 488px)"></div>
<div style="top:396px;background:linear-gradient(90deg,#ffdab5 0px,#ffddbb 8px,#ffe0c1 16px,#ffe4c9 24px,#ffe8d0 32px,#ffecd9 40px,#fff0e2 48px,#fff5ec 56px,#fffbf6 64px,#ffffff 72px,#ffffff 80px,#fefefe 88px,#fdfdfd 96px,#fcfcfc 104px,#fafafa 112px,#f8f8f8 120px,#f6f6f6 128px,#f4f4f4 136px,#f2f2f2 144px,#efefef 152px,#ededed 160px,#eaeaea 168px,#e8e8e8 176px,#e6e6e6 184px,#e4e4e4 192px,#e3e3e3 200px,#e3e3e3 208px,#e2e2e2 216px,#e3e3e3 224px,#e4e4e4 232px,#e5e5e5 240px,#e7e7e7 248px,#e9e9e9 256px,#eaeaea 264px,#ededed 272px,#efefef 280px,#f1f1f1 288px,#f3f3f3 296px,#f4f4f4 304px,#f6f6f6 312px,#f8f8f8 320px,#f9f9f9 328px,#fbfbfb 336px,#fcfcfc 344px,#fdfdfd 352px,#fefefe 360px,#fefefe 368px,#ffffff 376px,#ffffff 384px,#fffcf9 392px,#fff7ef 400px,#fff3e6 408px,#ffeede 416px,#ffebd6 424px,#ffe7d0 432px,#ffe4ca 440px,#ffe2c4 448px,#ffdfbf 456px,#ffddbb 464px,#ffdbb7 472px,#ffd9b4 480px,#ffd8b0 488px)"></div>
<div style="top:399px;background:linear-gradient(90deg,#ffd8b1 0px,#ffdbb7 8px,#ffdebe 16px,#ffe2c5 24px,#ffe6cc 32px,#ffead5 40px,#ffeede 48px,#fff3e8 56px,#fff9f2 64px,#fffefe 72px,#ffffff 80px,#fefefe 88px,#fdfdfd 96px,#fcfcfc 104px,#fbfbfb 112px,#f9f9f9 120px,#f7f7f7 128px,#f5f5f5 136px,#f2f2f2 144px,#f0f0f0 152px,#ededed 160px,#ebebeb 168px,#e9e9e9 176px,#e7e7e7 184px,#e5e5e5 192px,#e4e4e4 200px,#e3e3e3 208px,#e3e3e3 216px,#e4e4e4 224px,#e5e5e5 232px,#e6e6e6 240px,#e7e7e7 248px,#e9e9e9 256px,#ebebeb 264px,#ededed 272px,#efefef 280px,#f1f1f1 288px,#f3f3f3 296px,#f5f5f5 304px,#f7f7f7 312px,#f8f8f8 320px,#fafafa 328px,#fbfbfb 336px,#fcfcfc 344px,#fdfdfd 352px,#fefefe 360px,#ffffff 368px,#ffffff 376px,#ffffff 384px,#fffaf4 392px,#fff5ea 400px,#fff0e2 408px,#ffecda 416px,#ffe9d2 424px,#ffe6cc 432px,#ffe3c6 440px,#ffe0c1 448px,#ffdebd 456px,#ffdcb8 464px,#ffdab4 472px,#ffd8b1 480px,#ffd7ae 488px)"></div>
<div style="top:402px;background:linear-gradient(90deg,#ffd7ae 0px,#ffd9b4 8px,#ffddba 16px,#ffe0c1 24px,#ffe4c9 32px,#ffe8d1 40px,#ffecda 48px,#fff1e3 56px,#fff6ee 64px,#fffcf9 72px,#ffffff 80px,#ffffff 88px,#fefefe 96px,#fdfdfd 104px,#fbfbfb 112px,#f9f9f9 120px,#f7f7f7 128px,#f5f5f5 136px,#f3f3f3 144px,#f1f1f1 152px,#eeeeee 160px,#ececec 168px,#eaeaea 176px,#e8e8e8 184px,#e6e6e6 192px,#e5e5e5 200px,#e4e4e4 208px,#e4e4e4 216px,#e4e4e4 224px,#e5e5e5 232px,#e7e7e7 240px,#e8e8e8 248px,#eaeaea 256px,#ececec 264px,#eeeeee 272px,#f0f0f0 280px,#f2f2f2 288px,#f4f4f4 296px,#f6f6f6 304px,#f7f7f7 312px,#f9f9f9 320px,#fafafa 328px,#fcfcfc 336px,#fdfdfd 344px,#fefefe 352px,#fefefe 360px,#ffffff 368px,#ffffff 376px,#fffcfa 384px,#fff7ef 392px,#fff2e6 400px,#ffeedd 408px,#ffead6 416px,#ffe7cf 424px,#ffe4c9 432px,#ffe1c3 440px,#ffdfbe 448px,#ffdcba 456px,#ffdab6 464px,#ffd9b2 472px,#ffd7af 480px,#ffd6ac 488px)"></div>
<div style="top:405px;background:linear-gradient(90deg,#ffd5aa 0px,#ffd8b0 8px,#ffdbb7 16px,#ffdebe 24px,#ffe2c5 32px,#ffe6cd 40px,#ffebd6 48px,#ffefdf 56px,#fff4ea 64px,#fffaf5 72px,#ffffff 80px,#ffffff 88px,#fefefe 96px,#fdfdfd 104px,#fcfcfc 112px,#fafafa 120px,#f8f8f8 128px,#f6f6f6 136px,#f4f4f4 144px,#f1f1f1 152px,#efefef 160px,#ededed 168px,#eaeaea 176px,#e8e8e8 184px,#e7e7e7 192px,#e6e6e6 200px,#e5e5e5 208px,#e5e5e5 216px,#e5e5e5 224px,#e6e6e6 232px,#e7e7e7 240px,#e9e9e9 248px,#ebebeb 256px,#ededed 264px,#efefef 272px,#f1f1f1 280px,#f3f3f3 288px,#f5f5f5 296px,#f6f6f6 304px,#f8f8f8 312px,#fafafa 320px,#fbfbfb 328px,#fcfcfc 336px,#fdfdfd 344px,#fefefe 352px,#fefefe 360px,#ffffff 368px,#ffffff 376px,#fffaf5 384px,#fff5eb 392px,#fff0e1 400px,#ffecd9 408px,#ffe9d2 416px,#ffe5cb 424px,#ffe2c5 432px,#ffe0c0 440px,#ffddbb 448px,#ffdbb7 456px,#ffd9b3 464px,#ffd7b0 472px,#ffd6ac 480px,#ffd4aa 488px)"></div>
<div style="top:408px;background:linear-gradient(90deg,#ffd3a7 0px,#ffd6ad 8px,#ffd9b3 16px,#ffddba 24px,#ffe0c1 32px,#ffe4c9 40px,#ffe9d2 48px,#ffeddc 56px,#fff2e6 64px,#fff8f1 72px,#fffefd 80px,#ffffff 88px,#fefefe 96px,#fdfdfd 104px,#fcfcfc 112px,#fafafa 120px,#f9f9f9 128px,#f7f7f7 136px,#f4f4f4 144px,#f2f2f2 152px,#f0f0f0 160px,#ededed 168px,#ebebeb 176px,#e9e9e9 184px,#e8e8e8 192px,#e6e6e6 200px,#e6e6e6 208px,#e6e6e6 216px,#e6e6e6 224px,#e7e7e7 232px,#e8e8e8 240px,#eaeaea 248px,#ebebeb 256px,#ededed 264px,#efefef 272px,#f1f1f1 280px,#f3f3f3 288px,#f5f5f5 296px,#f7f7f7 304px,#f9f9f9 312px,#fafafa 320px,#fbfbfb 328px,#fcfcfc 336px,#fdfdfd 344px,#fefefe 352px,#ffffff 360px,#ffffff 368px,#fffdfb 376px,#fff8f0 384px,#fff3e6 392px,#ffeedd 400px,#ffead5 408px,#ffe7ce 416px,#ffe4c8 424px,#ffe1c2 432px,#ffdebd 440px,#ffdcb9 448px,#ffdab4 456px,#ffd8b1 464px,#ffd6ad 472px,#ffd5aa 480px,#ffd3a8 488px)"></div>
<div style="top:411px;background:linear-gradient(90deg,#ffd2a4 0px,#ffd5aa 8px,#ffd8b0 16px,#ffdbb7 24px,#ffdfbe 32px,#ffe3c6 40px,#ffe7cf 48px,#ffecd8 56px,#fff1e2 64px,#fff6ed 72px,#fffcf9 80px,#ffffff 88px,#ffffff 96px,#fefefe 104px,#fcfcfc 112px,#fbfbfb 120px,#f9f9f9 128px,#f7f7f7 136px,#f5f5f5 144px,#f3f3f3 152px,#f0f0f0 160px,#eeeeee 168px,#ececec 176px,#eaeaea 184px,#e8e8e8 192px,#e7e7e7 200px,#e7e7e7 208px,#e6e6e6 216px,#e7e7e7 224px,#e8e8e8 232px,#e9e9e9 240px,#eaeaea 248px,#ececec 256px,#eeeeee 264px,#f0f0f0 272px,#f2f2f2 280px,#f4f4f4 288px,#f6f6f6 296px,#f7f7f7 304px,#f9f9f9 312px,#fbfbfb 320px,#fcfcfc 328px,#fdfdfd 336px,#fefefe 344px,#fefefe 352px,#ffffff 360px,#ffffff 368px,#fffbf6 376px,#fff5eb 384px,#fff1e2 392px,#ffecd9 400px,#ffe8d2 408px,#ffe5cb 416px,#ffe2c5 424px,#ffdfbf 432px,#ffddba 440px,#ffdbb6 448px,#ffd9b2 456px,#ffd7ae 464px,#ffd5ab 472px,#ffd4a8 480px,#ffd2a6 488px)"></div>
<div style="top:414px;background:linear-gradient(90deg,#ffd0a1 0px,#ffd3a7 8px,#ffd6ad 16px,#ffd9b3 24px,#ffddbb 32px,#ffe1c3 40px,#ffe5cb 48px,#ffead4 56px,#ffefde 64px,#fff4e9 72px,#fffaf5 80px,#ffffff 88px,#ffffff 96px,#fefefe 104px,#fdfdfd 112px,#fbfbfb 120px,#fafafa 128px,#f8f8f8 136px,#f6f6f6 144px,#f3f3f3 152px,#f1f1f1 160px,#efefef 168px,#ededed 176px,#ebebeb 184px,#e9e9e9 192px,#e8e8e8 200px,#e7e7e7 208px,#e7e7e7 216px,#e8e8e8 224px,#e8e8e8 232px,#eaeaea 240px,#ebebeb 248px,#ededed 256px,#efefef 264px,#f1f1f1 272px,#f3f3f3 280px,#f5f5f5 288px,#f6f6f6 296px,#f8f8f8 304px,#fafafa 312px,#fbfbfb 320px,#fcfcfc 328px,#fdfdfd 336px,#fefefe 344px,#ffffff 352px,#ffffff 360px,#fffefd 368px,#fff8f1 376px,#fff3e7 384px,#ffeede 392px,#ffead6 400px,#ffe7ce 408px,#ffe3c8 416px,#ffe1c2 424px,#ffdebd 432px,#ffdcb8 440px,#ffd9b4 448px,#ffd7b0 456px,#ffd6ac 464px,#ffd4a9 472px,#ffd3a6 480px,#ffd2a4 488px)"></div>
<div style="top:417px;background:linear-gradient(90deg,#ffcf9e 0px,#ffd2a4 8px,#ffd5aa 16px,#ffd8b0 24px,#ffdbb7 32px,#ffdfbf 40px,#ffe3c8 48px,#ffe8d1 56px,#ffeddb 64px,#fff2e5 72px,#fff8f1 80px,#fffefd 88px,#ffffff 96px,#fefefe 104px,#fdfdfd 112px,#fcfcfc 120px,#fafafa 128px,#f8f8f8 136px,#f6f6f6 144px,#f4f4f4 152px,#f2f2f2 160px,#f0f0f0 168px,#ededed 176px,#ececec 184px,#eaeaea 192px,#e9e9e9 200px,#e8e8e8 208px,#e8e8e8 216px,#e8e8e8 224px,#e9e9e9 232px,#eaeaea 240px,#ececec 248px,#eeeeee 256px,#efefef 264px,#f1f1f1 272px,#f3f3f3 280px,#f5f5f5 288px,#f7f7f7 296px,#f9f9f9 304px,#fafafa 312px,#fbfbfb 320px,#fdfdfd 328px,#fefefe 336px,#fefefe 344px,#ffffff 352px,#ffffff 360px,#fffbf8 368px,#fff6ed 376px,#fff1e3 384px,#ffedda 392px,#ffe9d2 400px,#ffe5cb 408px,#ffe2c5 416px,#ffdfbf 424px,#ffddba 432px,#ffdab5 440px,#ffd8b1 448px,#ffd6ad 456px,#ffd5aa 464px,#ffd3a7 472px,#ffd2a4 480px,#ffd1a2 488px)"></div>
<div style="top:420px;background:linear-gradient(90deg,#ffcd9b 0px,#ffd0a1 8px,#ffd3a7 16px,#ffd6ad 24px,#ffdab4 32px,#ffdebc 40px,#ffe2c4 48px,#ffe6cd 56px,#ffebd7 64px,#fff0e2 72px,#fff6ed 80px,#fffcf9 88px,#ffffff 96px,#fefefe 104px,#fefefe 112px,#fcfcfc 120px,#fbfbfb 128px,#f9f9f9 136px,#f7f7f7 144px,#f5f5f5 152px,#f2f2f2 160px,#f0f0f0 168px,#eeeeee 176px,#ececec 184px,#ebebeb 192px,#eaeaea 200px,#e9e9e9 208px,#e9e9e9 216px,#e9e9e9 224px,#eaeaea 232px,#ebebeb 240px,#ededed 248px,#eeeeee 256px,#f0f0f0 264px,#f2f2f2 272px,#f4f4f4 280px,#f6f6f6 288px,#f7f7f7 296px,#f9f9f9 304px,#fbfbfb 312px,#fcfcfc 320px,#fdfdfd 328px,#fefefe 336px,#fefefe 344px,#ffffff 352px,#ffffff 360px,#fff9f3 368px,#fff4e8 376px,#ffefdf 384px,#ffebd6 392px,#ffe7cf 400px,#ffe3c8 408px,#ffe0c2 416px,#ffdebc 424px,#ffdbb7 432px,#ffd9b3 440px,#ffd7af 448px,#ffd5ab 456px,#ffd4a8 464px,#ffd2a5 472px,#ffd1a3 480px,#ffd0a0 488px)"></div>
<div style="top:423px;background:linear-gradient(90deg,#ffcc99 0px,#ffcf9e 8px,#ffd2a4 16px,#ffd5aa 24px,#ffd8b1 32px,#ffdcb9 40px,#ffe0c1 48px,#ffe5ca 56px,#ffead4 64px,#ffefde 72px,#fff4ea 80px,#fffaf6 88px,#ffffff 96px,#ffffff 104px,#fefefe 112px,#fdfdfd 120px,#fbfbfb 128px,#f9f9f9 136px,#f7f7f7 144px,#f5f5f5 152px,#f3f3f3 160px,#f1f1f1 168px,#efefef 176px,#ededed 184px,#ebebeb 192px,#eaeaea 200px,#eaeaea 208px,#e9e9e9 216px,#eaeaea 224px,#ebebeb 232px,#ececec 240px,#ededed 248px,#efefef 256px,#f1f1f1 264px,#f3f3f3 272px,#f4f4f4 280px,#f6f6f6 288px,#f8f8f8 296px,#fafafa 304px,#fbfbfb 312px,#fcfcfc 320px,#fdfdfd 328px,#fefefe 336px,#ffffff 344px,#ffffff 352px,#fffdfa 360px,#fff7ef 368px,#fff2e4 376px,#ffeddb 384px,#ffe9d3 392px,#ffe5cb 400px,#ffe2c5 408px,#ffdfbf 416px,#ffdcba 424px,#ffdab5 432px,#ffd8b1 440px,#ffd6ad 448px,#ffd4a9 456px,#ffd3a6 464px,#ffd1a4 472px,#ffd0a1 480px,#ffcf9f 488px)"></div>
<div style="top:426px;background:linear-gradient(90deg,#ffcb96 0px,#ffcd9b 8px,#ffd0a1 16px,#ffd3a8 24px,#ffd7ae 32px,#ffdbb6 40px,#ffdfbe 48px,#ffe3c7 56px,#ffe8d1 64px,#ffeddb 72px,#fff3e6 80px,#fff9f2 88px,#ffffff 96px,#ffffff 104px,#fefefe 112px,#fdfdfd 120px,#fcfcfc 128px,#fafafa 136px,#f8f8f8 144px,#f6f6f6 152px,#f4f4f4 160px,#f2f2f2 168px,#f0f0f0 176px,#eeeeee 184px,#ececec 192px,#ebebeb 200px,#eaeaea 208px,#eaeaea 216px,#ebebeb 224px,#ebebeb 232px,#ededed 240px,#eeeeee 248px,#f0f0f0 256px,#f1f1f1 264px,#f3f3f3 272px,#f5f5f5 280px,#f7f7f7 288px,#f9f9f9 296px,#fafafa 304px,#fbfbfb 312px,#fdfdfd 320px,#fefefe 328px,#fefefe 336px,#ffffff 344px,#ffffff 352px,#fffaf6 360px,#fff5ea 368px,#fff0e0 376px,#ffebd7 384px,#ffe7cf 392px,#ffe4c8 400px,#ffe1c2 408px,#ffdebc 416px,#ffdbb7 424px,#ffd9b2 432px,#ffd7ae 440px,#ffd5ab 448px,#ffd3a7 456px,#ffd2a5 464px,#ffd1a2 472px,#ffcf9f 480px,#ffce9d 488px)"></div>
<div style="top:429px;background:linear-gradient(90deg,#ffc993 0px,#ffcc99 8px,#ffcf9e 16px,#ffd2a5 24px,#ffd5ac 32px,#ffd9b3 40px,#ffddbb 48px,#ffe2c4 56px,#ffe6cd 64px,#ffebd8 72px,#fff1e3 80px,#fff7ef 88px,#fffdfb 96px,#ffffff 104px,#fefefe 112px,#fdfdfd 120px,#fcfcfc 128px,#fafafa 136px,#f8f8f8 144px,#f6f6f6 152px,#f4f4f4 160px,#f2f2f2 168px,#f0f0f0 176px,#eeeeee 184px,#ededed 192px,#ececec 200px,#ebebeb 208px,#ebebeb 216px,#ebebeb 224px,#ececec 232px,#ededed 240px,#efefef 248px,#f0f0f0 256px,#f2f2f2 264px,#f4f4f4 272px,#f6f6f6 280px,#f7f7f7 288px,#f9f9f9 296px,#fbfbfb 304px,#fcfcfc 312px,#fdfdfd 320px,#fefefe 328px,#fefefe 336px,#ffffff 344px,#fffefe 352px,#fff8f1 360px,#fff3e6 368px,#ffeedd 376px,#ffead4 384px,#ffe6cc 392px,#ffe2c5 400px,#ffdfbf 408px,#ffdcba 416px,#ffdab5 424px,#ffd8b0 432px,#ffd6ac 440px,#ffd4a9 448px,#ffd2a6 456px,#ffd1a3 464px,#ffd0a0 472px,#ffcf9e 480px,#ffce9c 488px)"></div>
<div style="top:432px;background:linear-gradient(90deg,#ffc891 0px,#ffcb96 8px,#ffce9c 16px,#ffd1a2 24px,#ffd4a9 32px,#ffd8b0 40px,#ffdcb8 48px,#ffe0c1 56px,#ffe5ca 64px,#ffead4 72px,#ffefdf 80px,#fff5eb 88px,#fffbf8 96px,#ffffff 104px,#fefefe 112px,#fefefe 120px,#fcfcfc 128px,#fbfbfb 136px,#f9f9f9 144px,#f7f7f7 152px,#f5f5f5 160px,#f3f3f3 168px,#f1f1f1 176px,#efefef 184px,#eeeeee 192px,#ededed 200px,#ececec 208px,#ececec 216px,#ececec 224px,#ededed 232px,#eeeeee 240px,#efefef 248px,#f1f1f1 256px,#f3f3f3 264px,#f4f4f4 272px,#f6f6f6 280px,#f8f8f8 288px,#fafafa 296px,#fbfbfb 304px,#fcfcfc 312px,#fdfdfd 320px,#fefefe 328px,#ffffff 336px,#ffffff 344px,#fffcf9 352px,#fff6ed 360px,#fff1e2 368px,#ffecd9 376px,#ffe8d1 384px,#ffe4c9 392px,#ffe1c2 400px,#ffdebc 408px,#ffdbb7 416px,#ffd9b2 424px,#ffd7ae 432px,#ffd5aa 440px,#ffd3a7 448px,#ffd2a4 456px,#ffd0a1 464px,#ffcf9f 472px,#ffce9d 480px,#ffcd9b 488px)"></div>
<div style="top:435px;background:linear-gradient(90deg,#ffc78e 0px,#ffca94 8px,#ffcc99 16px,#ffcfa0 24px,#ffd3a6 32px,#ffd6ae 40px,#ffdab6 48px,#ffdfbe 56px,#ffe3c7 64px,#ffe8d1 72px,#ffeedc 80px,#fff3e8 88px,#fffaf4 96px,#ffffff 104px,#ffffff 112px,#fefefe 120px,#fdfdfd 128px,#fbfbfb 136px,#f9f9f9 144px,#f8f8f8 152px,#f6f6f6 160px,#f3f3f3 168px,#f2f2f2 176px,#f0f0f0 184px,#eeeeee 192px,#ededed 200px,#ededed 208px,#ececec 216px,#ededed 224px,#ededed 232px,#efefef 240px,#f0f0f0 248px,#f2f2f2 256px,#f3f3f3 264px,#f5f5f5 272px,#f7f7f7 280px,#f8f8f8 288px,#fafafa 296px,#fbfbfb 304px,#fdfdfd 312px,#fefefe 320px,#fefefe 328px,#ffffff 336px,#ffffff 344px,#fffaf5 352px,#fff4e9 360px,#ffefdf 368px,#ffead6 376px,#ffe6cd 384px,#ffe3c6 392px,#ffdfc0 400px,#ffddba 408px,#ffdab5 416px,#ffd8b0 424px,#ffd6ac 432px,#ffd4a8 440px,#ffd2a5 448px,#ffd1a2 456px,#ffd0a0 464px,#ffce9d 472px,#ffcd9b 480px,#ffcc99 488px)"></div>
<div style="top:438px;background:linear-gradient(90deg,#ffc68c 0px,#ffc891 8px,#ffcb97 16px,#ffce9d 24px,#ffd2a4 32px,#ffd5ab 40px,#ffd9b3 48px,#ffddbb 56px,#ffe2c5 64px,#ffe7ce 72px,#ffecd9 80px,#fff2e5 88px,#fff8f1 96px,#fffffe 104px,#ffffff 112px,#fefefe 120px,#fdfdfd 128px,#fcfcfc 136px,#fafafa 144px,#f8f8f8 152px,#f6f6f6 160px,#f4f4f4 168px,#f2f2f2 176px,#f0f0f0 184px,#efefef 192px,#eeeeee 200px,#ededed 208px,#ededed 216px,#ededed 224px,#eeeeee 232px,#efefef 240px,#f1f1f1 248px,#f2f2f2 256px,#f4f4f4 264px,#f6f6f6 272px,#f7f7f7 280px,#f9f9f9 288px,#fafafa 296px,#fcfcfc 304px,#fdfdfd 312px,#fefefe 320px,#fefefe 328px,#ffffff 336px,#fffefd 344px,#fff8f0 352px,#fff2e5 360px,#ffeddb 368px,#ffe9d2 376px,#ffe5ca 384px,#ffe1c3 392px,#ffdebd 400px,#ffdbb8 408px,#ffd9b3 416px,#ffd7ae 424px,#ffd5aa 432px,#ffd3a7 440px,#ffd1a4 448px,#ffd0a1 456px,#ffcf9e 464px,#ffce9c 472px,#ffcd9a 480px,#ffcc98 488px)"></div>
<div style="top:441px;background:linear-gradient(90deg,#ffc58a 0px,#ffc78f 8px,#ffca95 16px,#ffcd9b 24px,#ffd0a1 32px,#ffd4a8 40px,#ffd8b0 48px,#ffdcb9 56px,#ffe1c2 64px,#ffe5cc 72px,#ffebd6 80px,#fff0e2 88px,#fff6ee 96px,#fffdfb 104px,#ffffff 112px,#fefefe 120px,#fdfdfd 128px,#fcfcfc 136px,#fafafa 144px,#f9f9f9 152px,#f7f7f7 160px,#f5f5f5 168px,#f3f3f3 176px,#f1f1f1 184px,#f0f0f0 192px,#efefef 200px,#eeeeee 208px,#eeeeee 216px,#eeeeee 224px,#efefef 232px,#f0f0f0 240px,#f1f1f1 248px,#f3f3f3 256px,#f4f4f4 264px,#f6f6f6 272px,#f8f8f8 280px,#f9f9f9 288px,#fbfbfb 296px,#fcfcfc 304px,#fdfdfd 312px,#fefefe 320px,#ffffff 328px,#ffffff 336px,#fffcf9 344px,#fff6ec 352px,#fff0e1 360px,#ffebd8 368px,#ffe7cf 376px,#ffe3c7 384px,#ffe0c1 392px,#ffddbb 400px,#ffdab5 408px,#ffd8b0 416px,#ffd6ac 424px,#ffd4a8 432px,#ffd2a5 440px,#ffd1a2 448px,#ffcf9f 456px,#ffce9d 464px,#ffcd9b 472px,#ffcc99 480px,#ffcb97 488px)"></div>
<div style="top:444px;background:linear-gradient(90deg,#ffc488 0px,#ffc68d 8px,#ffc992 16px,#ffcc98 24px,#ffcf9f 32px,#ffd3a6 40px,#ffd7ae 48px,#ffdbb6 56px,#ffdfbf 64px,#ffe4c9 72px,#ffe9d3 80px,#ffefdf 88px,#fff5eb 96px,#fffbf8 104px,#ffffff 112px,#fefefe 120px,#fefefe 128px,#fcfcfc 136px,#fbfbfb 144px,#f9f9f9 152px,#f7f7f7 160px,#f5f5f5 168px,#f3f3f3 176px,#f2f2f2 184px,#f0f0f0 192px,#efefef 200px,#efefef 208px,#eeeeee 216px,#efefef 224px,#efefef 232px,#f1f1f1 240px,#f2f2f2 248px,#f3f3f3 256px,#f5f5f5 264px,#f7f7f7 272px,#f8f8f8 280px,#fafafa 288px,#fbfbfb 296px,#fcfcfc 304px,#fdfdfd 312px,#fefefe 320px,#ffffff 328px,#ffffff 336px,#fffaf5 344px,#fff4e9 352px,#ffefde 360px,#ffead4 368px,#ffe6cc 376px,#ffe2c5 384px,#ffdfbe 392px,#ffdcb8 400px,#ffd9b3 408px,#ffd7ae 416px,#ffd5aa 424px,#ffd3a7 432px,#ffd1a3 440px,#ffd0a0 448px,#ffcf9e 456px,#ffcd9b 464px,#ffcc99 472px,#ffcb97 480px,#ffcb96 488px)"></div>
<div style="top:447px;background:linear-gradient(90deg,#ffc386 0px,#ffc58b 8px,#ffc890 16px,#ffcb96 24px,#ffce9d 32px,#ffd1a4 40px,#ffd5ab 48px,#ffd9b4 56px,#ffdebd 64px,#ffe3c6 72px,#ffe8d1 80px,#ffeddc 88px,#fff3e8 96px,#fffaf4 104px,#ffffff 112px,#ffffff 120px,#fefefe 128px,#fdfdfd 136px,#fbfbfb 144px,#f9f9f9 152px,#f8f8f8 160px,#f6f6f6 168px,#f4f4f4 176px,#f2f2f2 184px,#f1f1f1 192px,#f0f0f0 200px,#efefef 208px,#efefef 216px,#efefef 224px,#f0f0f0 232px,#f1f1f1 240px,#f2f2f2 248px,#f4f4f4 256px,#f6f6f6 264px,#f7f7f7 272px,#f9f9f9 280px,#fafafa 288px,#fcfcfc 296px,#fdfdfd 304px,#fefefe 312px,#fefefe 320px,#ffffff 328px,#fffefe 336px,#fff8f0 344px,#fff2e5 352px,#ffeddb 360px,#ffe8d1 368px,#ffe4c9 376px,#ffe1c2 384px,#ffddbc 392px,#ffdbb6 400px,#ffd8b1 408px,#ffd6ad 416px,#ffd4a9 424px,#ffd2a5 432px,#ffd1a2 440px,#ffcf9f 448px,#ffce9c 456px,#ffcd9a 464px,#ffcc98 472px,#ffcb96 480px,#ffca95 488px)"></div>
<div style="top:450px;background:linear-gradient(90deg,#ffc184 0px,#ffc488 8px,#ffc78e 16px,#ffca94 24px,#ffcd9a 32px,#ffd0a1 40px,#ffd4a9 48px,#ffd8b1 56px,#ffddba 64px,#ffe1c4 72px,#ffe7ce 80px,#ffecd9 88px,#fff2e5 96px,#fff8f1 104px,#ffffff 112px,#ffffff 120px,#fefefe 128px,#fdfdfd 136px,#fcfcfc 144px,#fafafa 152px,#f8f8f8 160px,#f6f6f6 168px,#f5f5f5 176px,#f3f3f3 184px,#f2f2f2 192px,#f1f1f1 200px,#f0f0f0 208px,#f0f0f0 216px,#f0f0f0 224px,#f1f1f1 232px,#f2f2f2 240px,#f3f3f3 248px,#f5f5f5 256px,#f6f6f6 264px,#f8f8f8 272px,#f9f9f9 280px,#fbfbfb 288px,#fcfcfc 296px,#fdfdfd 304px,#fefefe 312px,#ffffff 320px,#ffffff 328px,#fffcf9 336px,#fff6ed 344px,#fff0e1 352px,#ffebd7 360px,#ffe7ce 368px,#ffe3c7 376px,#ffdfc0 384px,#ffdcb9 392px,#ffdab4 400px,#ffd7af 408px,#ffd5ab 416px,#ffd3a7 424px,#ffd1a3 432px,#ffd0a0 440px,#ffce9e 448px,#ffcd9b 456px,#ffcc99 464px,#ffcb97 472px,#ffca95 480px,#ffca94 488px)"></div>
<div style="top:453px;background:linear-gradient(90deg,#ffc182 0px,#ffc386 8px,#ffc68c 16px,#ffc992 24px,#ffcc98 32px,#ffcf9f 40px,#ffd3a7 48px,#ffd7af 56px,#ffdbb8 64px,#ffe0c1 72px,#ffe5cb 80px,#ffebd6 88px,#fff0e2 96px,#fff7ee 104px,#fffdfc 112px,#ffffff 120px,#fefefe 128px,#fdfdfd 136px,#fcfcfc 144px,#fafafa 152px,#f9f9f9 160px,#f7f7f7 168px,#f5f5f5 176px,#f4f4f4 184px,#f2f2f2 192px,#f1f1f1 200px,#f1f1f1 208px,#f0f0f0 216px,#f1f1f1 224px,#f1f1f1 232px,#f2f2f2 240px,#f4f4f4 248px,#f5f5f5 256px,#f7f7f7 264px,#f8f8f8 272px,#fafafa 280px,#fbfbfb 288px,#fcfcfc 296px,#fdfdfd 304px,#fefefe 312px,#ffffff 320px,#ffffff 328px,#fffaf5 336px,#fff4e9 344px,#ffefde 352px,#ffead4 360px,#ffe5cc 368px,#ffe2c4 376px,#ffdebd 384px,#ffdbb7 392px,#ffd9b2 400px,#ffd6ad 408px,#ffd4a9 416px,#ffd2a5 424px,#ffd1a2 432px,#ffcf9f 440px,#ffce9c 448px,#ffcd9a 456px,#ffcc98 464px,#ffcb96 472px,#ffca94 480px,#ffc993 488px)"></div>
<div style="top:456px;background:linear-gradient(90deg,#ffc080 0px,#ffc285 8px,#ffc58a 16px,#ffc890 24px,#ffcb96 32px,#ffce9d 40px,#ffd2a4 48px,#ffd6ad 56px,#ffdab5 64px,#ffdfbf 72px,#ffe4c9 80px,#ffe9d4 88px,#ffefdf 96px,#fff5eb 104px,#fffcf9 112px,#ffffff 120px,#fefefe 128px,#fdfdfd 136px,#fcfcfc 144px,#fbfbfb 152px,#f9f9f9 160px,#f7f7f7 168px,#f6f6f6 176px,#f4f4f4 184px,#f3f3f3 192px,#f2f2f2 200px,#f1f1f1 208px,#f1f1f1 216px,#f1f1f1 224px,#f2f2f2 232px,#f3f3f3 240px,#f4f4f4 248px,#f6f6f6 256px,#f7f7f7 264px,#f9f9f9 272px,#fafafa 280px,#fbfbfb 288px,#fdfdfd 296px,#fefefe 304px,#fefefe 312px,#ffffff 320px,#ffffff 328px,#fff8f1 336px,#fff2e5 344px,#ffeddb 352px,#ffe8d1 360px,#ffe4c9 368px,#ffe0c1 376px,#ffddbb 384px,#ffdab5 392px,#ffd8b0 400px,#ffd5ab 408px,#ffd3a7 416px,#ffd2a4 424px,#ffd0a0 432px,#ffce9e 440px,#ffcd9b 448px,#ffcc99 456px,#ffcb97 464px,#ffca95 472px,#ffc993 480px,#ffc992 488px)"></div>
</div>
<div id="cbar"></div>
<svg width="700" height="1158" viewBox="0 0 700 1158" xmlns="http://www.w3.org/2000/svg">
<defs><clipPath id="ca"><rect x="113" y="26" width="546.5" height="454.3"/></clipPath><clipPath id="cb"><rect x="112.2" y="604.0" width="486.8" height="456.3"/></clipPath></defs>
<rect x="385" y="26" width="53.5" height="454" fill="#d7e3f8"/>
<path d="M112.3,160.8 L115.7,162.3 L119.2,163.8 L122.6,165.3 L126.0,166.9 L129.4,168.4 L132.9,170.0 L136.3,171.5 L139.7,173.1 L143.1,174.7 L146.6,176.3 L150.0,177.9 L153.4,179.5 L156.8,181.1 L160.3,182.8 L163.7,184.4 L167.1,186.0 L170.5,187.7 L174.0,189.4 L177.4,191.0 L180.8,192.7 L184.3,194.4 L187.7,196.1 L191.1,197.8 L194.5,199.5 L198.0,201.2 L201.4,203.0 L204.8,204.7 L208.2,206.5 L211.7,208.2 L215.1,210.0 L218.5,211.8 L221.9,213.5 L225.4,215.3 L228.8,217.1 L232.2,219.0 L235.6,220.8 L239.1,222.6 L242.5,224.4 L245.9,226.3 L249.4,228.1 L252.8,230.0 L256.2,231.9 L259.6,233.8 L263.1,235.6 L266.5,237.5 L269.9,239.5 L273.3,241.4 L276.8,243.3 L280.2,245.2 L283.6,247.2 L287.0,249.1 L290.5,251.1 L293.9,253.0 L297.3,255.0 L300.7,257.0 L304.2,259.0 L307.6,261.0 L311.0,263.0 L314.4,265.0 L317.9,267.1 L321.3,269.1 L324.7,271.1 L328.2,273.2 L331.6,275.3 L335.0,277.3 L338.4,279.4 L341.9,281.5 L345.3,283.6 L348.7,285.7 L352.1,287.8 L355.6,289.9 L359.0,292.1 L362.4,294.2 L365.8,296.4 L369.3,298.5 L372.7,300.7 L376.1,302.9 L379.5,305.0 L383.0,307.2 L386.4,309.4 L389.8,311.6 L393.3,313.9 L396.7,316.1 L400.1,318.3 L403.5,320.6 L407.0,322.8 L410.4,325.1 L413.8,327.3 L417.2,329.6 L420.7,331.9 L424.1,334.2 L427.5,336.5 L430.9,338.8 L434.4,341.1 L437.8,343.5 L441.2,345.8 L444.6,348.1 L448.1,350.5 L451.5,352.9 L454.9,355.2 L458.4,357.6 L461.8,360.0 L465.2,362.4 L468.6,364.8 L472.1,367.2 L475.5,369.6 L478.9,372.1 L482.3,374.5 L485.8,377.0 L489.2,379.4 L492.6,381.9 L496.0,384.4 L499.5,386.8 L502.9,389.3 L506.3,391.8 L509.7,394.3 L513.2,396.9 L516.6,399.4 L520.0,401.9 L523.5,404.5 L526.9,407.0 L530.3,409.6 L533.7,412.1 L537.2,414.7 L540.6,417.3 L544.0,419.9 L547.4,422.5 L550.9,425.1 L554.3,427.7 L557.7,430.4 L561.1,433.0 L564.6,435.6 L568.0,438.3 L571.4,441.0 L574.8,443.6 L578.3,446.3 L581.7,449.0 L585.1,451.7 L588.5,454.4 L592.0,457.1 L595.4,459.8 L598.8,462.6 L602.3,465.3 L605.7,468.0 L609.1,470.8 L612.5,473.6 L616.0,476.3 L619.4,479.1 L622.8,481.9 L626.2,484.7 L629.7,487.5" fill="none" stroke="#dc3440" stroke-width="3.1" clip-path="url(#ca)"/>
<path d="M112.3,321.3 L115.7,321.2 L119.2,321.0 L122.6,320.9 L126.0,320.8 L129.4,320.6 L132.9,320.5 L136.3,320.3 L139.7,320.1 L143.1,320.0 L146.6,319.8 L150.0,319.7 L153.4,319.5 L156.8,319.3 L160.3,319.2 L163.7,319.0 L167.1,318.8 L170.5,318.7 L174.0,318.5 L177.4,318.3 L180.8,318.1 L184.3,318.0 L187.7,317.8 L191.1,317.6 L194.5,317.4 L198.0,317.2 L201.4,317.0 L204.8,316.9 L208.2,316.7 L211.7,316.5 L215.1,316.3 L218.5,316.1 L221.9,315.9 L225.4,315.7 L228.8,315.5 L232.2,315.3 L235.6,315.1 L239.1,314.8 L242.5,314.6 L245.9,314.4 L249.4,314.2 L252.8,314.0 L256.2,313.8 L259.6,313.5 L263.1,313.3 L266.5,313.1 L269.9,312.9 L273.3,312.6 L276.8,312.4 L280.2,312.2 L283.6,311.9 L287.0,311.7 L290.5,311.4 L293.9,311.2 L297.3,311.0 L300.7,310.7 L304.2,310.5 L307.6,310.2 L311.0,309.9 L314.4,309.7 L317.9,309.4 L321.3,309.2 L324.7,308.9 L328.2,308.6 L331.6,308.4 L335.0,308.1 L338.4,307.8 L341.9,307.6 L345.3,307.3 L348.7,307.0 L352.1,306.7 L355.6,306.4 L359.0,306.1 L362.4,305.9 L365.8,305.6 L369.3,305.3 L372.7,305.0 L376.1,304.7 L379.5,304.4 L383.0,304.1 L386.4,303.8 L389.8,303.4 L393.3,303.1 L396.7,302.8 L400.1,302.5 L403.5,302.2 L407.0,301.9 L410.4,301.5 L413.8,301.2 L417.2,300.9 L420.7,300.6 L424.1,300.2 L427.5,299.9 L430.9,299.5 L434.4,299.2 L437.8,298.9 L441.2,298.5 L444.6,298.2 L448.1,297.8 L451.5,297.5 L454.9,297.1 L458.4,296.7 L461.8,296.4 L465.2,296.0 L468.6,295.6 L472.1,295.3 L475.5,294.9 L478.9,294.5 L482.3,294.1 L485.8,293.8 L489.2,293.4 L492.6,293.0 L496.0,292.6 L499.5,292.2 L502.9,291.8 L506.3,291.4 L509.7,291.0 L513.2,290.6 L516.6,290.2 L520.0,289.8 L523.5,289.4 L526.9,289.0 L530.3,288.6 L533.7,288.1 L537.2,287.7 L540.6,287.3 L544.0,286.9 L547.4,286.4 L550.9,286.0 L554.3,285.6 L557.7,285.1 L561.1,284.7 L564.6,284.2 L568.0,283.8 L571.4,283.3 L574.8,282.9 L578.3,282.4 L581.7,282.0 L585.1,281.5 L588.5,281.0 L592.0,280.6 L595.4,280.1 L598.8,279.6 L602.3,279.1 L605.7,278.6 L609.1,278.2 L612.5,277.7 L616.0,277.2 L619.4,276.7 L622.8,276.2 L626.2,275.7 L629.7,275.2 L633.1,274.7 L636.5,274.2 L639.9,273.7 L643.4,273.1 L646.8,272.6 L650.2,272.1 L653.6,271.6 L657.1,271.0 L660.5,270.5" fill="none" stroke="#dc3440" stroke-width="3.2" stroke-dasharray="17 17" stroke-dashoffset="8.5" clip-path="url(#ca)"/>
<line x1="113" y1="329.2" x2="660" y2="329.2" stroke="#000" stroke-width="2" stroke-dasharray="5.8 4.7" stroke-dashoffset="1"/>
<line x1="413.3" y1="26" x2="413.3" y2="480" stroke="#000" stroke-width="2.3" stroke-dasharray="6 4.6" stroke-dashoffset="2"/>
<rect x="112.3" y="24.8" width="548.2" height="456.5" fill="none" stroke="#000" stroke-width="2.4"/>
<path d="M112.3,24.8h8 M112.3,177.0h8 M112.3,329.1h8 M112.3,481.3h8 M112.3,481.3v-8 M180.8,481.3v-4 M249.4,481.3v-8 M317.9,481.3v-4 M386.4,481.3v-8 M454.9,481.3v-4 M523.5,481.3v-8 M592.0,481.3v-4 M660.5,481.3v-8" stroke="#000" stroke-width="2.2" fill="none"/>
<text transform="translate(102.0,35.6) scale(1,1.050)" text-anchor="end" class="t">4</text>
<text transform="translate(102.0,187.8) scale(1,1.050)" text-anchor="end" class="t">2</text>
<text transform="translate(102.0,339.9) scale(1,1.050)" text-anchor="end" class="t">0</text>
<text transform="translate(102.0,492.1) scale(1,1.050)" text-anchor="end" class="t">-2</text>
<text transform="translate(112.3,517.9) scale(1,1.050)" text-anchor="middle" class="t">800</text>
<text transform="translate(249.4,517.9) scale(1,1.050)" text-anchor="middle" class="t">1000</text>
<text transform="translate(386.4,517.9) scale(1,1.050)" text-anchor="middle" class="t">1200</text>
<text transform="translate(523.5,517.9) scale(1,1.050)" text-anchor="middle" class="t">1400</text>
<text transform="translate(660.5,517.9) scale(1,1.050)" text-anchor="middle" class="t">1600</text>
<text x="252" y="567.7" class="lab">Wavelength (nm)</text>
<text transform="translate(38.3,384.5) rotate(-90)" class="lab">ITO permittivity</text>
<text transform="translate(38.3,116.5) rotate(-90) scale(1.14,1)" class="lab" font-style="italic">ε</text>
<text x="2.6" y="26.5" class="pl">(a)</text>
<line x1="458.6" y1="64.9" x2="535.7" y2="64.9" stroke="#dc3440" stroke-width="3.2"/>
<line x1="458.6" y1="110" x2="535.7" y2="110" stroke="#dc3440" stroke-width="3.2" stroke-dasharray="16 17"/>
<text x="544.2" y="76.3" class="lg" font-style="italic">Re</text>
<text x="588.3" y="76.3" class="lg">(</text>
<text transform="translate(602.3,76.3) scale(1.5,1)" class="lg" style="font-size:29px" font-style="italic">ε</text>
<text x="624.3" y="76.3" class="lg">)</text>
<text x="545.5" y="122.2" class="lg" font-style="italic">Im</text>
<text x="588.3" y="122.2" class="lg">(</text>
<text transform="translate(602.3,122.2) scale(1.5,1)" class="lg" style="font-size:29px" font-style="italic">ε</text>
<text x="624.3" y="122.2" class="lg">)</text>
<rect x="113.8" y="605.6" width="483.6" height="453.1" fill="none" stroke="#e8dc50" stroke-width="1.2"/>
<path d="M164.6,603.0 C162.4,607.7 154.9,623.6 151.5,631.1 C148.1,638.6 146.8,641.7 144.2,647.7 C141.6,653.8 139.0,660.7 135.9,667.4 C132.8,674.1 129.1,682.1 125.5,688.1 C121.9,694.1 116.5,700.4 114.1,703.6 C111.7,706.9 111.5,706.9 111.0,707.6" fill="none" stroke="#28e6e6" stroke-width="3.4" clip-path="url(#cb)"/>
<path d="M251.7,603.0 C250.9,609.0 249.4,627.1 247.1,638.9 C244.8,650.7 240.9,663.4 237.8,673.9 C234.7,684.4 231.9,692.5 228.4,701.8 C224.9,711.1 221.1,720.8 216.8,729.8 C212.5,738.8 207.5,748.9 202.8,756.0 C198.2,763.1 194.3,766.5 188.9,772.3 C183.5,778.1 177.2,785.1 170.2,790.9 C163.2,796.7 154.3,802.7 146.9,807.2 C139.5,811.7 132.0,814.9 126.0,817.7 C120.0,820.5 113.5,822.8 111.0,823.8" fill="none" stroke="#1f64d2" stroke-width="3.4" clip-path="url(#cb)"/>
<path d="M292.5,603.0 C291.9,610.9 290.4,636.9 289.0,650.6 C287.6,664.4 286.1,674.6 284.3,685.5 C282.6,696.4 280.4,706.7 278.5,715.8 C276.6,724.9 275.2,732.1 273.0,740.0 C270.8,747.9 267.7,755.3 265.0,763.0 C262.3,770.7 260.4,778.6 257.0,786.0 C253.6,793.4 252.6,799.6 244.7,807.2 C236.8,814.8 222.2,826.1 209.8,831.7 C197.4,837.3 182.6,838.5 170.2,841.0 C157.8,843.5 145.2,845.0 135.3,846.8 C125.4,848.6 115.0,850.9 111.0,851.7" fill="none" stroke="#808080" stroke-width="3.4" clip-path="url(#cb)"/>
<path d="M322.7,603.0 C322.1,609.0 320.8,627.1 319.2,638.9 C317.6,650.7 315.3,662.2 313.4,673.9 C311.5,685.5 309.7,695.1 307.6,708.8 C305.5,722.5 302.9,742.3 300.6,756.0 C298.3,769.7 295.9,782.0 293.6,790.9 C291.3,799.8 289.7,803.0 286.6,809.6 C283.5,816.2 278.9,825.5 275.0,830.5 C271.1,835.5 269.2,836.5 263.4,839.8 C257.6,843.1 249.8,847.4 240.1,850.3 C230.4,853.2 218.8,855.5 205.2,857.3 C191.6,859.1 174.3,860.4 158.6,861.3 C142.9,862.2 118.9,862.5 111.0,862.7" fill="none" stroke="#e8141e" stroke-width="3.4" clip-path="url(#cb)"/>
<path d="M356.5,603.0 C355.4,609.2 352.2,628.4 349.9,640.0 C347.6,651.6 345.2,661.6 342.7,672.4 C340.2,683.2 337.6,692.9 335.0,704.8 C332.4,716.7 329.6,732.8 327.2,743.6 C324.8,754.4 322.6,761.8 320.7,769.5 C318.8,777.2 317.4,782.9 315.5,790.0 C313.6,797.1 311.9,804.7 309.5,812.0 C307.1,819.3 304.5,827.4 301.0,834.0 C297.5,840.6 292.9,847.1 288.6,851.4 C284.3,855.7 281.1,857.1 275.0,859.6 C268.9,862.1 261.4,864.7 251.7,866.6 C242.0,868.5 230.4,870.2 216.8,871.3 C203.2,872.4 187.8,872.9 170.2,873.1 C152.6,873.3 120.9,872.5 111.0,872.4" fill="none" stroke="#f08718" stroke-width="3.4" clip-path="url(#cb)"/>
<path d="M427.5,603.0 C425.4,607.0 419.1,617.4 414.7,627.3 C410.2,637.2 405.4,651.3 400.8,662.2 C396.2,673.1 391.5,682.4 386.8,692.5 C382.1,702.6 377.5,712.2 372.8,722.8 C368.1,733.4 363.5,744.6 358.8,756.0 C354.1,767.4 349.5,780.0 344.9,790.9 C340.2,801.8 335.8,811.5 330.9,821.2 C326.0,830.9 320.2,842.2 315.4,849.1 C310.6,856.0 306.0,858.9 302.0,862.5 C298.0,866.1 295.3,868.5 291.4,870.8 C287.5,873.1 283.0,874.5 278.7,876.3 C274.4,878.1 272.1,879.5 265.7,881.5 C259.2,883.5 247.7,886.6 240.0,888.4 C232.3,890.2 231.9,890.5 219.5,892.5 C207.1,894.5 183.9,897.6 165.8,900.3 C147.7,903.0 120.1,907.1 111.0,908.5" fill="none" stroke="#f4f02a" stroke-width="3.4" clip-path="url(#cb)"/>
<path d="M111.0,1061.5 L600.0,603.0" fill="none" stroke="#a8e628" stroke-width="3.4" clip-path="url(#cb)"/>
<path d="M600.0,764.1 C596.1,765.6 588.5,768.6 576.9,773.4 C565.3,778.2 546.0,786.6 530.6,793.0 C515.2,799.4 499.7,805.6 484.3,811.6 C468.9,817.6 451.5,824.0 438.0,828.9 C424.5,833.8 416.1,836.4 403.1,841.2 C390.1,846.1 372.2,852.5 360.0,858.0 C347.8,863.5 337.2,869.4 330.0,874.5 C322.8,879.6 321.0,883.1 316.9,888.7 C312.8,894.3 308.4,901.7 305.3,908.0 C302.2,914.3 300.4,918.8 298.3,926.6 C296.2,934.4 294.1,946.1 292.5,954.6 C290.9,963.1 290.6,969.4 289.0,977.9 C287.4,986.4 284.9,996.5 283.2,1005.8 C281.4,1015.1 279.7,1024.4 278.5,1033.8 C277.3,1043.2 276.6,1057.3 276.2,1062.0" fill="none" stroke="#22dc46" stroke-width="3.4" clip-path="url(#cb)"/>
<path d="M600.0,831.2 C588.4,833.1 549.9,839.3 530.6,842.8 C511.3,846.3 499.7,849.0 484.3,852.1 C468.9,855.2 450.4,859.1 438.0,861.3 C425.6,863.5 419.8,863.6 410.1,865.5 C400.4,867.4 389.9,869.5 379.8,872.4 C369.7,875.3 356.9,879.4 349.5,882.9 C342.1,886.4 339.4,889.2 335.5,893.4 C331.6,897.6 328.9,901.7 326.2,908.0 C323.5,914.3 321.1,921.6 319.2,931.3 C317.3,941.0 315.8,954.6 314.6,966.2 C313.4,977.9 312.4,989.6 311.8,1001.2 C311.2,1012.9 311.1,1026.0 311.1,1036.1 C311.1,1046.2 311.7,1057.7 311.8,1062.0" fill="none" stroke="#2ae6ee" stroke-width="3.4" clip-path="url(#cb)"/>
<path d="M600.0,865.2 C588.4,866.4 549.9,870.2 530.6,872.4 C511.3,874.6 499.7,876.4 484.3,878.2 C468.9,880.0 449.6,881.7 438.0,883.3 C426.4,884.9 423.2,885.5 414.7,887.6 C406.2,889.7 395.3,892.8 386.8,895.7 C378.3,898.6 368.8,903.0 363.5,905.0 C358.2,907.0 358.4,905.2 355.3,908.0 C352.2,910.8 348.2,916.2 344.9,922.0 C341.6,927.8 338.0,933.6 335.5,942.9 C333.0,952.2 331.4,966.2 329.7,977.9 C328.0,989.5 326.3,998.8 325.1,1012.8 C323.9,1026.8 323.1,1053.8 322.7,1062.0" fill="none" stroke="#1f64d2" stroke-width="3.4" clip-path="url(#cb)"/>
<path d="M600.0,892.6 C588.4,893.6 550.6,896.3 530.6,898.5 C510.6,900.7 495.1,903.4 479.7,905.8 C464.3,908.2 448.8,910.4 438.0,912.7 C427.2,915.0 423.2,916.1 414.7,919.6 C406.2,923.1 394.6,928.4 386.8,933.6 C379.1,938.9 373.2,945.7 368.2,951.1 C363.1,956.5 360.0,957.9 356.5,966.2 C353.0,974.6 349.9,990.7 347.2,1001.2 C344.5,1011.7 342.2,1019.0 340.2,1029.1 C338.2,1039.2 336.0,1056.5 335.1,1062.0" fill="none" stroke="#808080" stroke-width="3.4" clip-path="url(#cb)"/>
<path d="M600.0,928.8 C592.3,930.1 569.1,933.8 553.7,936.9 C538.3,940.0 520.9,943.5 507.4,947.4 C493.9,951.3 484.3,955.5 472.7,960.1 C461.1,964.7 447.7,970.2 438.0,974.7 C428.3,979.2 421.7,982.0 414.7,987.2 C407.7,992.4 401.9,999.2 396.1,1005.8 C390.3,1012.4 384.1,1020.6 379.8,1026.8 C375.5,1033.0 373.0,1037.2 370.5,1043.1 C368.0,1049.0 365.7,1058.8 364.7,1062.0" fill="none" stroke="#e8141e" stroke-width="3.4" clip-path="url(#cb)"/>
<path d="M600.0,1009.9 C596.1,1011.4 586.5,1014.9 576.9,1019.1 C567.3,1023.3 553.8,1029.9 542.2,1035.3 C530.6,1040.7 516.3,1047.0 507.4,1051.5 C498.5,1056.0 492.0,1060.2 488.9,1062.0" fill="none" stroke="#f08718" stroke-width="3.4" clip-path="url(#cb)"/>
<path d="M459.4,896.1 L478.0,914.7 M459.4,914.7 L478.0,896.1" stroke="#ff0000" stroke-width="7"/>
<text x="127.0" y="647.5" class="cl">-270°</text>
<text x="200.5" y="711.0" class="cl">-225°</text>
<text x="222.5" y="802.9" class="cl">-180°</text>
<text x="271.5" y="777.9" class="cl">-135°</text>
<text x="288.5" y="823.4" class="cl">-90°</text>
<text x="344.0" y="746.0" class="cl">-45°</text>
<text x="329.5" y="857.3" class="cl">0°</text>
<text x="280.5" y="948.8" class="cl">45°</text>
<text x="377.5" y="878.3" class="cl">90°</text>
<text x="340.5" y="911.5" class="cl">135°</text>
<text x="362.5" y="953.4" class="cl">180°</text>
<text x="377.5" y="1008.6" class="cl">225°</text>
<text x="500.5" y="1049.2" class="cl">270°</text>
<rect x="112.2" y="604.0" width="486.8" height="456.3" fill="none" stroke="#000" stroke-width="1.8"/>
<path d="M112.2,1018.8h4.3 M112.2,977.3h9.4 M112.2,935.9h4.3 M112.2,894.4h9.4 M112.2,852.9h4.3 M112.2,811.4h9.4 M112.2,769.9h4.3 M112.2,728.4h9.4 M112.2,687.0h4.3 M112.2,645.5h9.4 M156.5,1060.3v-4.3 M200.7,1060.3v-9.4 M245.0,1060.3v-4.3 M289.2,1060.3v-9.4 M333.5,1060.3v-4.3 M377.7,1060.3v-9.4 M422.0,1060.3v-4.3 M466.2,1060.3v-9.4 M510.5,1060.3v-4.3 M554.7,1060.3v-9.4" stroke="#000" stroke-width="2" fill="none"/>
<text transform="translate(102.0,1071.1) scale(1,1.050)" text-anchor="end" class="t">160</text>
<text transform="translate(102.0,988.1) scale(1,1.050)" text-anchor="end" class="t">200</text>
<text transform="translate(102.0,905.2) scale(1,1.050)" text-anchor="end" class="t">240</text>
<text transform="translate(102.0,822.2) scale(1,1.050)" text-anchor="end" class="t">280</text>
<text transform="translate(102.0,739.2) scale(1,1.050)" text-anchor="end" class="t">320</text>
<text transform="translate(102.0,656.3) scale(1,1.050)" text-anchor="end" class="t">360</text>
<text transform="translate(112.2,1096.6) scale(1,1.050)" text-anchor="middle" class="t">160</text>
<text transform="translate(200.7,1096.6) scale(1,1.050)" text-anchor="middle" class="t">200</text>
<text transform="translate(289.2,1096.6) scale(1,1.050)" text-anchor="middle" class="t">240</text>
<text transform="translate(377.7,1096.6) scale(1,1.050)" text-anchor="middle" class="t">280</text>
<text transform="translate(466.2,1096.6) scale(1,1.050)" text-anchor="middle" class="t">320</text>
<text transform="translate(554.7,1096.6) scale(1,1.050)" text-anchor="middle" class="t">360</text>
<text x="301" y="1147.6" class="lab"><tspan font-style="italic">L</tspan> (nm)</text>
<text transform="translate(35.2,871.8) rotate(-90)" class="lab"><tspan font-style="italic">W</tspan> (nm)</text>
<text x="2" y="608.4" class="pl">(b)</text>
<text x="609" y="577.7" class="lg" font-style="italic" font-size="32">R<tspan font-size="24" dy="8.4" dx="1.5">total</tspan></text>
<text transform="translate(670.0,614.8) scale(1,1.050)" class="t">1</text>
<text transform="translate(670.0,1072.3) scale(1,1.050)" class="t">0</text>
</svg>
</body></html>
